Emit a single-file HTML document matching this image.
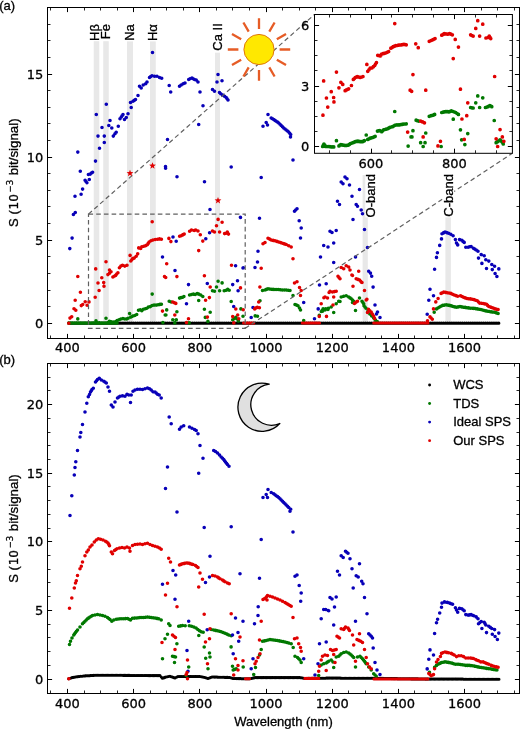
<!DOCTYPE html><html><head><meta charset="utf-8"><style>html,body{margin:0;padding:0;background:#fff;}svg{display:block;}</style></head><body><svg width="520" height="729" viewBox="0 0 520 729">
<rect width="520" height="729" fill="#fff"/>
<rect x="93.75" y="41.2" width="5.50" height="282.00" fill="#e8e8e8"/>
<rect x="103.25" y="41.2" width="5.50" height="282.00" fill="#e8e8e8"/>
<rect x="127.0" y="41.4" width="6.00" height="281.80" fill="#e8e8e8"/>
<rect x="150.0" y="41.4" width="5.75" height="281.80" fill="#e8e8e8"/>
<rect x="215.0" y="52.7" width="5.00" height="270.50" fill="#e8e8e8"/>
<rect x="362.6" y="175.0" width="5.20" height="148.20" fill="#e8e8e8"/>
<rect x="445.4" y="216.6" width="5.50" height="106.60" fill="#e8e8e8"/>
<path fill="#000000" d="M67.2 323.2a1.6 1.6 0 1 0 3.20 0a1.6 1.6 0 1 0 -3.20 0M69.1 323.2a1.6 1.6 0 1 0 3.20 0a1.6 1.6 0 1 0 -3.20 0M71.0 323.2a1.6 1.6 0 1 0 3.20 0a1.6 1.6 0 1 0 -3.20 0M72.9 323.2a1.6 1.6 0 1 0 3.20 0a1.6 1.6 0 1 0 -3.20 0M74.8 323.2a1.6 1.6 0 1 0 3.20 0a1.6 1.6 0 1 0 -3.20 0M76.7 323.2a1.6 1.6 0 1 0 3.20 0a1.6 1.6 0 1 0 -3.20 0M78.6 323.2a1.6 1.6 0 1 0 3.20 0a1.6 1.6 0 1 0 -3.20 0M80.5 323.2a1.6 1.6 0 1 0 3.20 0a1.6 1.6 0 1 0 -3.20 0M82.4 323.2a1.6 1.6 0 1 0 3.20 0a1.6 1.6 0 1 0 -3.20 0M84.3 323.2a1.6 1.6 0 1 0 3.20 0a1.6 1.6 0 1 0 -3.20 0M86.2 323.2a1.6 1.6 0 1 0 3.20 0a1.6 1.6 0 1 0 -3.20 0M88.1 323.2a1.6 1.6 0 1 0 3.20 0a1.6 1.6 0 1 0 -3.20 0M90.0 323.2a1.6 1.6 0 1 0 3.20 0a1.6 1.6 0 1 0 -3.20 0M91.9 323.2a1.6 1.6 0 1 0 3.20 0a1.6 1.6 0 1 0 -3.20 0M93.8 323.2a1.6 1.6 0 1 0 3.20 0a1.6 1.6 0 1 0 -3.20 0M95.7 323.2a1.6 1.6 0 1 0 3.20 0a1.6 1.6 0 1 0 -3.20 0M97.6 323.2a1.6 1.6 0 1 0 3.20 0a1.6 1.6 0 1 0 -3.20 0M99.5 323.2a1.6 1.6 0 1 0 3.20 0a1.6 1.6 0 1 0 -3.20 0M101.4 323.2a1.6 1.6 0 1 0 3.20 0a1.6 1.6 0 1 0 -3.20 0M103.4 323.2a1.6 1.6 0 1 0 3.20 0a1.6 1.6 0 1 0 -3.20 0M105.3 323.2a1.6 1.6 0 1 0 3.20 0a1.6 1.6 0 1 0 -3.20 0M107.2 323.2a1.6 1.6 0 1 0 3.20 0a1.6 1.6 0 1 0 -3.20 0M109.1 323.2a1.6 1.6 0 1 0 3.20 0a1.6 1.6 0 1 0 -3.20 0M111.0 323.2a1.6 1.6 0 1 0 3.20 0a1.6 1.6 0 1 0 -3.20 0M112.9 323.2a1.6 1.6 0 1 0 3.20 0a1.6 1.6 0 1 0 -3.20 0M114.8 323.2a1.6 1.6 0 1 0 3.20 0a1.6 1.6 0 1 0 -3.20 0M116.7 323.2a1.6 1.6 0 1 0 3.20 0a1.6 1.6 0 1 0 -3.20 0M118.6 323.2a1.6 1.6 0 1 0 3.20 0a1.6 1.6 0 1 0 -3.20 0M120.5 323.2a1.6 1.6 0 1 0 3.20 0a1.6 1.6 0 1 0 -3.20 0M122.4 323.2a1.6 1.6 0 1 0 3.20 0a1.6 1.6 0 1 0 -3.20 0M124.3 323.2a1.6 1.6 0 1 0 3.20 0a1.6 1.6 0 1 0 -3.20 0M126.2 323.2a1.6 1.6 0 1 0 3.20 0a1.6 1.6 0 1 0 -3.20 0M128.1 323.2a1.6 1.6 0 1 0 3.20 0a1.6 1.6 0 1 0 -3.20 0M130.0 323.2a1.6 1.6 0 1 0 3.20 0a1.6 1.6 0 1 0 -3.20 0M131.9 323.2a1.6 1.6 0 1 0 3.20 0a1.6 1.6 0 1 0 -3.20 0M133.8 323.2a1.6 1.6 0 1 0 3.20 0a1.6 1.6 0 1 0 -3.20 0M135.7 323.2a1.6 1.6 0 1 0 3.20 0a1.6 1.6 0 1 0 -3.20 0M137.6 323.2a1.6 1.6 0 1 0 3.20 0a1.6 1.6 0 1 0 -3.20 0M139.5 323.2a1.6 1.6 0 1 0 3.20 0a1.6 1.6 0 1 0 -3.20 0M141.4 323.2a1.6 1.6 0 1 0 3.20 0a1.6 1.6 0 1 0 -3.20 0M143.3 323.2a1.6 1.6 0 1 0 3.20 0a1.6 1.6 0 1 0 -3.20 0M145.2 323.2a1.6 1.6 0 1 0 3.20 0a1.6 1.6 0 1 0 -3.20 0M147.1 323.2a1.6 1.6 0 1 0 3.20 0a1.6 1.6 0 1 0 -3.20 0M149.0 323.2a1.6 1.6 0 1 0 3.20 0a1.6 1.6 0 1 0 -3.20 0M150.9 323.2a1.6 1.6 0 1 0 3.20 0a1.6 1.6 0 1 0 -3.20 0M152.8 323.2a1.6 1.6 0 1 0 3.20 0a1.6 1.6 0 1 0 -3.20 0M154.7 323.2a1.6 1.6 0 1 0 3.20 0a1.6 1.6 0 1 0 -3.20 0M156.6 323.2a1.6 1.6 0 1 0 3.20 0a1.6 1.6 0 1 0 -3.20 0M158.5 323.2a1.6 1.6 0 1 0 3.20 0a1.6 1.6 0 1 0 -3.20 0M160.4 323.2a1.6 1.6 0 1 0 3.20 0a1.6 1.6 0 1 0 -3.20 0M162.3 323.2a1.6 1.6 0 1 0 3.20 0a1.6 1.6 0 1 0 -3.20 0M164.2 323.2a1.6 1.6 0 1 0 3.20 0a1.6 1.6 0 1 0 -3.20 0M166.1 323.2a1.6 1.6 0 1 0 3.20 0a1.6 1.6 0 1 0 -3.20 0M168.0 323.2a1.6 1.6 0 1 0 3.20 0a1.6 1.6 0 1 0 -3.20 0M169.9 323.2a1.6 1.6 0 1 0 3.20 0a1.6 1.6 0 1 0 -3.20 0M171.8 323.2a1.6 1.6 0 1 0 3.20 0a1.6 1.6 0 1 0 -3.20 0M173.7 323.2a1.6 1.6 0 1 0 3.20 0a1.6 1.6 0 1 0 -3.20 0M175.7 323.2a1.6 1.6 0 1 0 3.20 0a1.6 1.6 0 1 0 -3.20 0M177.6 323.2a1.6 1.6 0 1 0 3.20 0a1.6 1.6 0 1 0 -3.20 0M179.5 323.2a1.6 1.6 0 1 0 3.20 0a1.6 1.6 0 1 0 -3.20 0M181.4 323.2a1.6 1.6 0 1 0 3.20 0a1.6 1.6 0 1 0 -3.20 0M183.3 323.2a1.6 1.6 0 1 0 3.20 0a1.6 1.6 0 1 0 -3.20 0M185.2 323.2a1.6 1.6 0 1 0 3.20 0a1.6 1.6 0 1 0 -3.20 0M187.1 323.2a1.6 1.6 0 1 0 3.20 0a1.6 1.6 0 1 0 -3.20 0M189.0 323.2a1.6 1.6 0 1 0 3.20 0a1.6 1.6 0 1 0 -3.20 0M190.9 323.2a1.6 1.6 0 1 0 3.20 0a1.6 1.6 0 1 0 -3.20 0M192.8 323.2a1.6 1.6 0 1 0 3.20 0a1.6 1.6 0 1 0 -3.20 0M194.7 323.2a1.6 1.6 0 1 0 3.20 0a1.6 1.6 0 1 0 -3.20 0M196.6 323.2a1.6 1.6 0 1 0 3.20 0a1.6 1.6 0 1 0 -3.20 0M198.5 323.2a1.6 1.6 0 1 0 3.20 0a1.6 1.6 0 1 0 -3.20 0M200.4 323.2a1.6 1.6 0 1 0 3.20 0a1.6 1.6 0 1 0 -3.20 0M202.3 323.2a1.6 1.6 0 1 0 3.20 0a1.6 1.6 0 1 0 -3.20 0M204.2 323.2a1.6 1.6 0 1 0 3.20 0a1.6 1.6 0 1 0 -3.20 0M206.1 323.2a1.6 1.6 0 1 0 3.20 0a1.6 1.6 0 1 0 -3.20 0M208.0 323.2a1.6 1.6 0 1 0 3.20 0a1.6 1.6 0 1 0 -3.20 0M209.9 323.2a1.6 1.6 0 1 0 3.20 0a1.6 1.6 0 1 0 -3.20 0M211.8 323.2a1.6 1.6 0 1 0 3.20 0a1.6 1.6 0 1 0 -3.20 0M213.7 323.2a1.6 1.6 0 1 0 3.20 0a1.6 1.6 0 1 0 -3.20 0M215.6 323.2a1.6 1.6 0 1 0 3.20 0a1.6 1.6 0 1 0 -3.20 0M217.5 323.2a1.6 1.6 0 1 0 3.20 0a1.6 1.6 0 1 0 -3.20 0M219.4 323.2a1.6 1.6 0 1 0 3.20 0a1.6 1.6 0 1 0 -3.20 0M221.3 323.2a1.6 1.6 0 1 0 3.20 0a1.6 1.6 0 1 0 -3.20 0M223.2 323.2a1.6 1.6 0 1 0 3.20 0a1.6 1.6 0 1 0 -3.20 0M225.1 323.2a1.6 1.6 0 1 0 3.20 0a1.6 1.6 0 1 0 -3.20 0M227.0 323.2a1.6 1.6 0 1 0 3.20 0a1.6 1.6 0 1 0 -3.20 0M228.9 323.2a1.6 1.6 0 1 0 3.20 0a1.6 1.6 0 1 0 -3.20 0M230.8 323.2a1.6 1.6 0 1 0 3.20 0a1.6 1.6 0 1 0 -3.20 0M232.7 323.2a1.6 1.6 0 1 0 3.20 0a1.6 1.6 0 1 0 -3.20 0M234.6 323.2a1.6 1.6 0 1 0 3.20 0a1.6 1.6 0 1 0 -3.20 0M236.5 323.2a1.6 1.6 0 1 0 3.20 0a1.6 1.6 0 1 0 -3.20 0M238.4 323.2a1.6 1.6 0 1 0 3.20 0a1.6 1.6 0 1 0 -3.20 0M240.3 323.2a1.6 1.6 0 1 0 3.20 0a1.6 1.6 0 1 0 -3.20 0M242.2 323.2a1.6 1.6 0 1 0 3.20 0a1.6 1.6 0 1 0 -3.20 0M244.1 323.2a1.6 1.6 0 1 0 3.20 0a1.6 1.6 0 1 0 -3.20 0M246.0 323.2a1.6 1.6 0 1 0 3.20 0a1.6 1.6 0 1 0 -3.20 0M248.0 323.2a1.6 1.6 0 1 0 3.20 0a1.6 1.6 0 1 0 -3.20 0M249.9 323.2a1.6 1.6 0 1 0 3.20 0a1.6 1.6 0 1 0 -3.20 0M251.8 323.2a1.6 1.6 0 1 0 3.20 0a1.6 1.6 0 1 0 -3.20 0M253.7 323.2a1.6 1.6 0 1 0 3.20 0a1.6 1.6 0 1 0 -3.20 0M255.6 323.2a1.6 1.6 0 1 0 3.20 0a1.6 1.6 0 1 0 -3.20 0M257.5 323.2a1.6 1.6 0 1 0 3.20 0a1.6 1.6 0 1 0 -3.20 0M259.4 323.2a1.6 1.6 0 1 0 3.20 0a1.6 1.6 0 1 0 -3.20 0M261.3 323.2a1.6 1.6 0 1 0 3.20 0a1.6 1.6 0 1 0 -3.20 0M263.2 323.2a1.6 1.6 0 1 0 3.20 0a1.6 1.6 0 1 0 -3.20 0M265.1 323.2a1.6 1.6 0 1 0 3.20 0a1.6 1.6 0 1 0 -3.20 0M267.0 323.2a1.6 1.6 0 1 0 3.20 0a1.6 1.6 0 1 0 -3.20 0M268.9 323.2a1.6 1.6 0 1 0 3.20 0a1.6 1.6 0 1 0 -3.20 0M270.8 323.2a1.6 1.6 0 1 0 3.20 0a1.6 1.6 0 1 0 -3.20 0M272.7 323.2a1.6 1.6 0 1 0 3.20 0a1.6 1.6 0 1 0 -3.20 0M274.6 323.2a1.6 1.6 0 1 0 3.20 0a1.6 1.6 0 1 0 -3.20 0M276.5 323.2a1.6 1.6 0 1 0 3.20 0a1.6 1.6 0 1 0 -3.20 0M278.4 323.2a1.6 1.6 0 1 0 3.20 0a1.6 1.6 0 1 0 -3.20 0M280.3 323.2a1.6 1.6 0 1 0 3.20 0a1.6 1.6 0 1 0 -3.20 0M282.2 323.2a1.6 1.6 0 1 0 3.20 0a1.6 1.6 0 1 0 -3.20 0M284.1 323.2a1.6 1.6 0 1 0 3.20 0a1.6 1.6 0 1 0 -3.20 0M286.0 323.2a1.6 1.6 0 1 0 3.20 0a1.6 1.6 0 1 0 -3.20 0M287.9 323.2a1.6 1.6 0 1 0 3.20 0a1.6 1.6 0 1 0 -3.20 0M289.8 323.2a1.6 1.6 0 1 0 3.20 0a1.6 1.6 0 1 0 -3.20 0M291.7 323.2a1.6 1.6 0 1 0 3.20 0a1.6 1.6 0 1 0 -3.20 0M293.6 323.2a1.6 1.6 0 1 0 3.20 0a1.6 1.6 0 1 0 -3.20 0M295.5 323.2a1.6 1.6 0 1 0 3.20 0a1.6 1.6 0 1 0 -3.20 0M297.4 323.2a1.6 1.6 0 1 0 3.20 0a1.6 1.6 0 1 0 -3.20 0M299.3 323.2a1.6 1.6 0 1 0 3.20 0a1.6 1.6 0 1 0 -3.20 0M301.2 323.2a1.6 1.6 0 1 0 3.20 0a1.6 1.6 0 1 0 -3.20 0M303.1 323.2a1.6 1.6 0 1 0 3.20 0a1.6 1.6 0 1 0 -3.20 0M305.0 323.2a1.6 1.6 0 1 0 3.20 0a1.6 1.6 0 1 0 -3.20 0M306.9 323.2a1.6 1.6 0 1 0 3.20 0a1.6 1.6 0 1 0 -3.20 0M308.8 323.2a1.6 1.6 0 1 0 3.20 0a1.6 1.6 0 1 0 -3.20 0M310.7 323.2a1.6 1.6 0 1 0 3.20 0a1.6 1.6 0 1 0 -3.20 0M312.6 323.2a1.6 1.6 0 1 0 3.20 0a1.6 1.6 0 1 0 -3.20 0M314.5 323.2a1.6 1.6 0 1 0 3.20 0a1.6 1.6 0 1 0 -3.20 0M316.4 323.2a1.6 1.6 0 1 0 3.20 0a1.6 1.6 0 1 0 -3.20 0M318.4 323.2a1.6 1.6 0 1 0 3.20 0a1.6 1.6 0 1 0 -3.20 0M320.3 323.2a1.6 1.6 0 1 0 3.20 0a1.6 1.6 0 1 0 -3.20 0M322.2 323.2a1.6 1.6 0 1 0 3.20 0a1.6 1.6 0 1 0 -3.20 0M324.1 323.2a1.6 1.6 0 1 0 3.20 0a1.6 1.6 0 1 0 -3.20 0M326.0 323.2a1.6 1.6 0 1 0 3.20 0a1.6 1.6 0 1 0 -3.20 0M327.9 323.2a1.6 1.6 0 1 0 3.20 0a1.6 1.6 0 1 0 -3.20 0M329.8 323.2a1.6 1.6 0 1 0 3.20 0a1.6 1.6 0 1 0 -3.20 0M331.7 323.2a1.6 1.6 0 1 0 3.20 0a1.6 1.6 0 1 0 -3.20 0M333.6 323.2a1.6 1.6 0 1 0 3.20 0a1.6 1.6 0 1 0 -3.20 0M335.5 323.2a1.6 1.6 0 1 0 3.20 0a1.6 1.6 0 1 0 -3.20 0M337.4 323.2a1.6 1.6 0 1 0 3.20 0a1.6 1.6 0 1 0 -3.20 0M339.3 323.2a1.6 1.6 0 1 0 3.20 0a1.6 1.6 0 1 0 -3.20 0M341.2 323.2a1.6 1.6 0 1 0 3.20 0a1.6 1.6 0 1 0 -3.20 0M343.1 323.2a1.6 1.6 0 1 0 3.20 0a1.6 1.6 0 1 0 -3.20 0M345.0 323.2a1.6 1.6 0 1 0 3.20 0a1.6 1.6 0 1 0 -3.20 0M346.9 323.2a1.6 1.6 0 1 0 3.20 0a1.6 1.6 0 1 0 -3.20 0M348.8 323.2a1.6 1.6 0 1 0 3.20 0a1.6 1.6 0 1 0 -3.20 0M350.7 323.2a1.6 1.6 0 1 0 3.20 0a1.6 1.6 0 1 0 -3.20 0M352.6 323.2a1.6 1.6 0 1 0 3.20 0a1.6 1.6 0 1 0 -3.20 0M354.5 323.2a1.6 1.6 0 1 0 3.20 0a1.6 1.6 0 1 0 -3.20 0M356.4 323.2a1.6 1.6 0 1 0 3.20 0a1.6 1.6 0 1 0 -3.20 0M358.3 323.2a1.6 1.6 0 1 0 3.20 0a1.6 1.6 0 1 0 -3.20 0M360.2 323.2a1.6 1.6 0 1 0 3.20 0a1.6 1.6 0 1 0 -3.20 0M362.1 323.2a1.6 1.6 0 1 0 3.20 0a1.6 1.6 0 1 0 -3.20 0M364.0 323.2a1.6 1.6 0 1 0 3.20 0a1.6 1.6 0 1 0 -3.20 0M365.9 323.2a1.6 1.6 0 1 0 3.20 0a1.6 1.6 0 1 0 -3.20 0M367.8 323.2a1.6 1.6 0 1 0 3.20 0a1.6 1.6 0 1 0 -3.20 0M369.7 323.2a1.6 1.6 0 1 0 3.20 0a1.6 1.6 0 1 0 -3.20 0M371.6 323.2a1.6 1.6 0 1 0 3.20 0a1.6 1.6 0 1 0 -3.20 0M373.5 323.2a1.6 1.6 0 1 0 3.20 0a1.6 1.6 0 1 0 -3.20 0M375.4 323.2a1.6 1.6 0 1 0 3.20 0a1.6 1.6 0 1 0 -3.20 0M377.3 323.2a1.6 1.6 0 1 0 3.20 0a1.6 1.6 0 1 0 -3.20 0M379.2 323.2a1.6 1.6 0 1 0 3.20 0a1.6 1.6 0 1 0 -3.20 0M381.1 323.2a1.6 1.6 0 1 0 3.20 0a1.6 1.6 0 1 0 -3.20 0M383.0 323.2a1.6 1.6 0 1 0 3.20 0a1.6 1.6 0 1 0 -3.20 0M384.9 323.2a1.6 1.6 0 1 0 3.20 0a1.6 1.6 0 1 0 -3.20 0M386.8 323.2a1.6 1.6 0 1 0 3.20 0a1.6 1.6 0 1 0 -3.20 0M388.7 323.2a1.6 1.6 0 1 0 3.20 0a1.6 1.6 0 1 0 -3.20 0M390.7 323.2a1.6 1.6 0 1 0 3.20 0a1.6 1.6 0 1 0 -3.20 0M392.6 323.2a1.6 1.6 0 1 0 3.20 0a1.6 1.6 0 1 0 -3.20 0M394.5 323.2a1.6 1.6 0 1 0 3.20 0a1.6 1.6 0 1 0 -3.20 0M396.4 323.2a1.6 1.6 0 1 0 3.20 0a1.6 1.6 0 1 0 -3.20 0M398.3 323.2a1.6 1.6 0 1 0 3.20 0a1.6 1.6 0 1 0 -3.20 0M400.2 323.2a1.6 1.6 0 1 0 3.20 0a1.6 1.6 0 1 0 -3.20 0M402.1 323.2a1.6 1.6 0 1 0 3.20 0a1.6 1.6 0 1 0 -3.20 0M404.0 323.2a1.6 1.6 0 1 0 3.20 0a1.6 1.6 0 1 0 -3.20 0M405.9 323.2a1.6 1.6 0 1 0 3.20 0a1.6 1.6 0 1 0 -3.20 0M407.8 323.2a1.6 1.6 0 1 0 3.20 0a1.6 1.6 0 1 0 -3.20 0M409.7 323.2a1.6 1.6 0 1 0 3.20 0a1.6 1.6 0 1 0 -3.20 0M411.6 323.2a1.6 1.6 0 1 0 3.20 0a1.6 1.6 0 1 0 -3.20 0M413.5 323.2a1.6 1.6 0 1 0 3.20 0a1.6 1.6 0 1 0 -3.20 0M415.4 323.2a1.6 1.6 0 1 0 3.20 0a1.6 1.6 0 1 0 -3.20 0M417.3 323.2a1.6 1.6 0 1 0 3.20 0a1.6 1.6 0 1 0 -3.20 0M419.2 323.2a1.6 1.6 0 1 0 3.20 0a1.6 1.6 0 1 0 -3.20 0M421.1 323.2a1.6 1.6 0 1 0 3.20 0a1.6 1.6 0 1 0 -3.20 0M423.0 323.2a1.6 1.6 0 1 0 3.20 0a1.6 1.6 0 1 0 -3.20 0M424.9 323.2a1.6 1.6 0 1 0 3.20 0a1.6 1.6 0 1 0 -3.20 0M426.8 323.2a1.6 1.6 0 1 0 3.20 0a1.6 1.6 0 1 0 -3.20 0M428.7 323.2a1.6 1.6 0 1 0 3.20 0a1.6 1.6 0 1 0 -3.20 0M430.6 323.2a1.6 1.6 0 1 0 3.20 0a1.6 1.6 0 1 0 -3.20 0M432.5 323.2a1.6 1.6 0 1 0 3.20 0a1.6 1.6 0 1 0 -3.20 0M434.4 323.2a1.6 1.6 0 1 0 3.20 0a1.6 1.6 0 1 0 -3.20 0M436.3 323.2a1.6 1.6 0 1 0 3.20 0a1.6 1.6 0 1 0 -3.20 0M438.2 323.2a1.6 1.6 0 1 0 3.20 0a1.6 1.6 0 1 0 -3.20 0M440.1 323.2a1.6 1.6 0 1 0 3.20 0a1.6 1.6 0 1 0 -3.20 0M442.0 323.2a1.6 1.6 0 1 0 3.20 0a1.6 1.6 0 1 0 -3.20 0M443.9 323.2a1.6 1.6 0 1 0 3.20 0a1.6 1.6 0 1 0 -3.20 0M445.8 323.2a1.6 1.6 0 1 0 3.20 0a1.6 1.6 0 1 0 -3.20 0M447.7 323.2a1.6 1.6 0 1 0 3.20 0a1.6 1.6 0 1 0 -3.20 0M449.6 323.2a1.6 1.6 0 1 0 3.20 0a1.6 1.6 0 1 0 -3.20 0M451.5 323.2a1.6 1.6 0 1 0 3.20 0a1.6 1.6 0 1 0 -3.20 0M453.4 323.2a1.6 1.6 0 1 0 3.20 0a1.6 1.6 0 1 0 -3.20 0M455.3 323.2a1.6 1.6 0 1 0 3.20 0a1.6 1.6 0 1 0 -3.20 0M457.2 323.2a1.6 1.6 0 1 0 3.20 0a1.6 1.6 0 1 0 -3.20 0M459.1 323.2a1.6 1.6 0 1 0 3.20 0a1.6 1.6 0 1 0 -3.20 0M461.0 323.2a1.6 1.6 0 1 0 3.20 0a1.6 1.6 0 1 0 -3.20 0M463.0 323.2a1.6 1.6 0 1 0 3.20 0a1.6 1.6 0 1 0 -3.20 0M464.9 323.2a1.6 1.6 0 1 0 3.20 0a1.6 1.6 0 1 0 -3.20 0M466.8 323.2a1.6 1.6 0 1 0 3.20 0a1.6 1.6 0 1 0 -3.20 0M468.7 323.2a1.6 1.6 0 1 0 3.20 0a1.6 1.6 0 1 0 -3.20 0M470.6 323.2a1.6 1.6 0 1 0 3.20 0a1.6 1.6 0 1 0 -3.20 0M472.5 323.2a1.6 1.6 0 1 0 3.20 0a1.6 1.6 0 1 0 -3.20 0M474.4 323.2a1.6 1.6 0 1 0 3.20 0a1.6 1.6 0 1 0 -3.20 0M476.3 323.2a1.6 1.6 0 1 0 3.20 0a1.6 1.6 0 1 0 -3.20 0M478.2 323.2a1.6 1.6 0 1 0 3.20 0a1.6 1.6 0 1 0 -3.20 0M480.1 323.2a1.6 1.6 0 1 0 3.20 0a1.6 1.6 0 1 0 -3.20 0M482.0 323.2a1.6 1.6 0 1 0 3.20 0a1.6 1.6 0 1 0 -3.20 0M483.9 323.2a1.6 1.6 0 1 0 3.20 0a1.6 1.6 0 1 0 -3.20 0M485.8 323.2a1.6 1.6 0 1 0 3.20 0a1.6 1.6 0 1 0 -3.20 0M487.7 323.2a1.6 1.6 0 1 0 3.20 0a1.6 1.6 0 1 0 -3.20 0M489.6 323.2a1.6 1.6 0 1 0 3.20 0a1.6 1.6 0 1 0 -3.20 0M491.5 323.2a1.6 1.6 0 1 0 3.20 0a1.6 1.6 0 1 0 -3.20 0M493.4 323.2a1.6 1.6 0 1 0 3.20 0a1.6 1.6 0 1 0 -3.20 0M495.3 323.2a1.6 1.6 0 1 0 3.20 0a1.6 1.6 0 1 0 -3.20 0M497.2 323.2a1.6 1.6 0 1 0 3.20 0a1.6 1.6 0 1 0 -3.20 0"/>
<path fill="#007800" d="M76.0 318.9a1.8 1.8 0 1 0 3.60 0a1.8 1.8 0 1 0 -3.60 0M260.7 290.5a1.8 1.8 0 1 0 3.60 0a1.8 1.8 0 1 0 -3.60 0M263.2 290.0a1.8 1.8 0 1 0 3.60 0a1.8 1.8 0 1 0 -3.60 0M264.7 289.4a1.8 1.8 0 1 0 3.60 0a1.8 1.8 0 1 0 -3.60 0M266.2 288.8a1.8 1.8 0 1 0 3.60 0a1.8 1.8 0 1 0 -3.60 0M267.8 289.0a1.8 1.8 0 1 0 3.60 0a1.8 1.8 0 1 0 -3.60 0M269.4 289.2a1.8 1.8 0 1 0 3.60 0a1.8 1.8 0 1 0 -3.60 0M271.3 289.4a1.8 1.8 0 1 0 3.60 0a1.8 1.8 0 1 0 -3.60 0M273.2 289.5a1.8 1.8 0 1 0 3.60 0a1.8 1.8 0 1 0 -3.60 0M275.1 289.5a1.8 1.8 0 1 0 3.60 0a1.8 1.8 0 1 0 -3.60 0M276.9 289.5a1.8 1.8 0 1 0 3.60 0a1.8 1.8 0 1 0 -3.60 0M278.8 289.8a1.8 1.8 0 1 0 3.60 0a1.8 1.8 0 1 0 -3.60 0M280.7 290.0a1.8 1.8 0 1 0 3.60 0a1.8 1.8 0 1 0 -3.60 0M282.6 290.0a1.8 1.8 0 1 0 3.60 0a1.8 1.8 0 1 0 -3.60 0M284.4 290.0a1.8 1.8 0 1 0 3.60 0a1.8 1.8 0 1 0 -3.60 0M286.3 290.2a1.8 1.8 0 1 0 3.60 0a1.8 1.8 0 1 0 -3.60 0M288.2 290.5a1.8 1.8 0 1 0 3.60 0a1.8 1.8 0 1 0 -3.60 0M291.2 295.5a1.8 1.8 0 1 0 3.60 0a1.8 1.8 0 1 0 -3.60 0M293.2 304.5a1.8 1.8 0 1 0 3.60 0a1.8 1.8 0 1 0 -3.60 0M294.7 305.1a1.8 1.8 0 1 0 3.60 0a1.8 1.8 0 1 0 -3.60 0M296.2 305.8a1.8 1.8 0 1 0 3.60 0a1.8 1.8 0 1 0 -3.60 0M297.7 308.0a1.8 1.8 0 1 0 3.60 0a1.8 1.8 0 1 0 -3.60 0M298.7 310.0a1.8 1.8 0 1 0 3.60 0a1.8 1.8 0 1 0 -3.60 0M258.2 300.8a1.8 1.8 0 1 0 3.60 0a1.8 1.8 0 1 0 -3.60 0M255.7 316.2a1.8 1.8 0 1 0 3.60 0a1.8 1.8 0 1 0 -3.60 0M241.2 316.2a1.8 1.8 0 1 0 3.60 0a1.8 1.8 0 1 0 -3.60 0M253.4 315.9a1.8 1.8 0 1 0 3.60 0a1.8 1.8 0 1 0 -3.60 0M239.1 308.9a1.8 1.8 0 1 0 3.60 0a1.8 1.8 0 1 0 -3.60 0M339.4 297.0a1.8 1.8 0 1 0 3.60 0a1.8 1.8 0 1 0 -3.60 0M341.9 296.2a1.8 1.8 0 1 0 3.60 0a1.8 1.8 0 1 0 -3.60 0M344.4 295.8a1.8 1.8 0 1 0 3.60 0a1.8 1.8 0 1 0 -3.60 0M346.9 297.0a1.8 1.8 0 1 0 3.60 0a1.8 1.8 0 1 0 -3.60 0M348.2 297.9a1.8 1.8 0 1 0 3.60 0a1.8 1.8 0 1 0 -3.60 0M349.4 298.8a1.8 1.8 0 1 0 3.60 0a1.8 1.8 0 1 0 -3.60 0M350.7 300.0a1.8 1.8 0 1 0 3.60 0a1.8 1.8 0 1 0 -3.60 0M351.9 301.2a1.8 1.8 0 1 0 3.60 0a1.8 1.8 0 1 0 -3.60 0M336.9 301.2a1.8 1.8 0 1 0 3.60 0a1.8 1.8 0 1 0 -3.60 0M334.4 303.8a1.8 1.8 0 1 0 3.60 0a1.8 1.8 0 1 0 -3.60 0M329.4 307.0a1.8 1.8 0 1 0 3.60 0a1.8 1.8 0 1 0 -3.60 0M326.2 309.5a1.8 1.8 0 1 0 3.60 0a1.8 1.8 0 1 0 -3.60 0M323.2 310.0a1.8 1.8 0 1 0 3.60 0a1.8 1.8 0 1 0 -3.60 0M320.7 311.2a1.8 1.8 0 1 0 3.60 0a1.8 1.8 0 1 0 -3.60 0M331.9 312.5a1.8 1.8 0 1 0 3.60 0a1.8 1.8 0 1 0 -3.60 0M357.7 298.0a1.8 1.8 0 1 0 3.60 0a1.8 1.8 0 1 0 -3.60 0M360.2 301.2a1.8 1.8 0 1 0 3.60 0a1.8 1.8 0 1 0 -3.60 0M361.1 302.5a1.8 1.8 0 1 0 3.60 0a1.8 1.8 0 1 0 -3.60 0M361.9 303.8a1.8 1.8 0 1 0 3.60 0a1.8 1.8 0 1 0 -3.60 0M353.7 310.5a1.8 1.8 0 1 0 3.60 0a1.8 1.8 0 1 0 -3.60 0M319.5 311.5a1.8 1.8 0 1 0 3.60 0a1.8 1.8 0 1 0 -3.60 0M320.4 310.2a1.8 1.8 0 1 0 3.60 0a1.8 1.8 0 1 0 -3.60 0M321.3 308.9a1.8 1.8 0 1 0 3.60 0a1.8 1.8 0 1 0 -3.60 0M323.9 308.9a1.8 1.8 0 1 0 3.60 0a1.8 1.8 0 1 0 -3.60 0M326.5 308.4a1.8 1.8 0 1 0 3.60 0a1.8 1.8 0 1 0 -3.60 0M317.5 315.3a1.8 1.8 0 1 0 3.60 0a1.8 1.8 0 1 0 -3.60 0M301.9 320.5a1.8 1.8 0 1 0 3.60 0a1.8 1.8 0 1 0 -3.60 0M350.7 302.5a1.8 1.8 0 1 0 3.60 0a1.8 1.8 0 1 0 -3.60 0M362.2 305.8a1.8 1.8 0 1 0 3.60 0a1.8 1.8 0 1 0 -3.60 0M363.2 307.1a1.8 1.8 0 1 0 3.60 0a1.8 1.8 0 1 0 -3.60 0M364.2 308.3a1.8 1.8 0 1 0 3.60 0a1.8 1.8 0 1 0 -3.60 0M366.1 311.2a1.8 1.8 0 1 0 3.60 0a1.8 1.8 0 1 0 -3.60 0M368.0 314.0a1.8 1.8 0 1 0 3.60 0a1.8 1.8 0 1 0 -3.60 0M369.9 316.0a1.8 1.8 0 1 0 3.60 0a1.8 1.8 0 1 0 -3.60 0M371.9 317.9a1.8 1.8 0 1 0 3.60 0a1.8 1.8 0 1 0 -3.60 0M372.8 319.1a1.8 1.8 0 1 0 3.60 0a1.8 1.8 0 1 0 -3.60 0M373.8 320.4a1.8 1.8 0 1 0 3.60 0a1.8 1.8 0 1 0 -3.60 0M375.7 321.7a1.8 1.8 0 1 0 3.60 0a1.8 1.8 0 1 0 -3.60 0M338.2 301.5a1.8 1.8 0 1 0 3.60 0a1.8 1.8 0 1 0 -3.60 0M432.4 312.3a1.8 1.8 0 1 0 3.60 0a1.8 1.8 0 1 0 -3.60 0M434.7 308.9a1.8 1.8 0 1 0 3.60 0a1.8 1.8 0 1 0 -3.60 0M436.1 308.0a1.8 1.8 0 1 0 3.60 0a1.8 1.8 0 1 0 -3.60 0M437.4 307.2a1.8 1.8 0 1 0 3.60 0a1.8 1.8 0 1 0 -3.60 0M439.1 306.3a1.8 1.8 0 1 0 3.60 0a1.8 1.8 0 1 0 -3.60 0M440.9 305.4a1.8 1.8 0 1 0 3.60 0a1.8 1.8 0 1 0 -3.60 0M442.6 305.1a1.8 1.8 0 1 0 3.60 0a1.8 1.8 0 1 0 -3.60 0M444.4 304.9a1.8 1.8 0 1 0 3.60 0a1.8 1.8 0 1 0 -3.60 0M446.1 305.1a1.8 1.8 0 1 0 3.60 0a1.8 1.8 0 1 0 -3.60 0M447.8 305.4a1.8 1.8 0 1 0 3.60 0a1.8 1.8 0 1 0 -3.60 0M449.6 305.9a1.8 1.8 0 1 0 3.60 0a1.8 1.8 0 1 0 -3.60 0M451.3 306.5a1.8 1.8 0 1 0 3.60 0a1.8 1.8 0 1 0 -3.60 0M453.0 306.9a1.8 1.8 0 1 0 3.60 0a1.8 1.8 0 1 0 -3.60 0M454.7 307.2a1.8 1.8 0 1 0 3.60 0a1.8 1.8 0 1 0 -3.60 0M456.4 306.9a1.8 1.8 0 1 0 3.60 0a1.8 1.8 0 1 0 -3.60 0M458.2 306.5a1.8 1.8 0 1 0 3.60 0a1.8 1.8 0 1 0 -3.60 0M459.9 306.9a1.8 1.8 0 1 0 3.60 0a1.8 1.8 0 1 0 -3.60 0M461.7 307.2a1.8 1.8 0 1 0 3.60 0a1.8 1.8 0 1 0 -3.60 0M463.4 307.4a1.8 1.8 0 1 0 3.60 0a1.8 1.8 0 1 0 -3.60 0M465.1 307.7a1.8 1.8 0 1 0 3.60 0a1.8 1.8 0 1 0 -3.60 0M466.8 307.9a1.8 1.8 0 1 0 3.60 0a1.8 1.8 0 1 0 -3.60 0M468.6 308.2a1.8 1.8 0 1 0 3.60 0a1.8 1.8 0 1 0 -3.60 0M470.3 308.3a1.8 1.8 0 1 0 3.60 0a1.8 1.8 0 1 0 -3.60 0M472.1 308.4a1.8 1.8 0 1 0 3.60 0a1.8 1.8 0 1 0 -3.60 0M473.8 308.6a1.8 1.8 0 1 0 3.60 0a1.8 1.8 0 1 0 -3.60 0M475.5 308.9a1.8 1.8 0 1 0 3.60 0a1.8 1.8 0 1 0 -3.60 0M477.2 309.2a1.8 1.8 0 1 0 3.60 0a1.8 1.8 0 1 0 -3.60 0M479.0 309.5a1.8 1.8 0 1 0 3.60 0a1.8 1.8 0 1 0 -3.60 0M480.7 310.0a1.8 1.8 0 1 0 3.60 0a1.8 1.8 0 1 0 -3.60 0M482.4 310.5a1.8 1.8 0 1 0 3.60 0a1.8 1.8 0 1 0 -3.60 0M484.1 310.9a1.8 1.8 0 1 0 3.60 0a1.8 1.8 0 1 0 -3.60 0M485.9 311.2a1.8 1.8 0 1 0 3.60 0a1.8 1.8 0 1 0 -3.60 0M487.6 311.5a1.8 1.8 0 1 0 3.60 0a1.8 1.8 0 1 0 -3.60 0M489.4 311.9a1.8 1.8 0 1 0 3.60 0a1.8 1.8 0 1 0 -3.60 0M491.1 312.1a1.8 1.8 0 1 0 3.60 0a1.8 1.8 0 1 0 -3.60 0M492.8 312.3a1.8 1.8 0 1 0 3.60 0a1.8 1.8 0 1 0 -3.60 0M494.6 312.9a1.8 1.8 0 1 0 3.60 0a1.8 1.8 0 1 0 -3.60 0M496.3 313.5a1.8 1.8 0 1 0 3.60 0a1.8 1.8 0 1 0 -3.60 0M93.2 322.9a1.8 1.8 0 1 0 3.60 0a1.8 1.8 0 1 0 -3.60 0M94.2 320.9a1.8 1.8 0 1 0 3.60 0a1.8 1.8 0 1 0 -3.60 0M95.4 322.9a1.8 1.8 0 1 0 3.60 0a1.8 1.8 0 1 0 -3.60 0M97.7 322.9a1.8 1.8 0 1 0 3.60 0a1.8 1.8 0 1 0 -3.60 0M100.0 323.3a1.8 1.8 0 1 0 3.60 0a1.8 1.8 0 1 0 -3.60 0M102.0 323.3a1.8 1.8 0 1 0 3.60 0a1.8 1.8 0 1 0 -3.60 0M104.2 318.2a1.8 1.8 0 1 0 3.60 0a1.8 1.8 0 1 0 -3.60 0M106.1 322.5a1.8 1.8 0 1 0 3.60 0a1.8 1.8 0 1 0 -3.60 0M107.7 321.4a1.8 1.8 0 1 0 3.60 0a1.8 1.8 0 1 0 -3.60 0M109.5 321.9a1.8 1.8 0 1 0 3.60 0a1.8 1.8 0 1 0 -3.60 0M111.5 322.1a1.8 1.8 0 1 0 3.60 0a1.8 1.8 0 1 0 -3.60 0M113.5 321.9a1.8 1.8 0 1 0 3.60 0a1.8 1.8 0 1 0 -3.60 0M115.3 320.6a1.8 1.8 0 1 0 3.60 0a1.8 1.8 0 1 0 -3.60 0M117.3 319.8a1.8 1.8 0 1 0 3.60 0a1.8 1.8 0 1 0 -3.60 0M119.1 319.0a1.8 1.8 0 1 0 3.60 0a1.8 1.8 0 1 0 -3.60 0M121.1 318.5a1.8 1.8 0 1 0 3.60 0a1.8 1.8 0 1 0 -3.60 0M123.0 319.0a1.8 1.8 0 1 0 3.60 0a1.8 1.8 0 1 0 -3.60 0M124.8 319.0a1.8 1.8 0 1 0 3.60 0a1.8 1.8 0 1 0 -3.60 0M126.3 318.2a1.8 1.8 0 1 0 3.60 0a1.8 1.8 0 1 0 -3.60 0M127.8 313.5a1.8 1.8 0 1 0 3.60 0a1.8 1.8 0 1 0 -3.60 0M129.0 317.1a1.8 1.8 0 1 0 3.60 0a1.8 1.8 0 1 0 -3.60 0M130.9 316.1a1.8 1.8 0 1 0 3.60 0a1.8 1.8 0 1 0 -3.60 0M132.9 315.5a1.8 1.8 0 1 0 3.60 0a1.8 1.8 0 1 0 -3.60 0M134.9 314.5a1.8 1.8 0 1 0 3.60 0a1.8 1.8 0 1 0 -3.60 0M136.7 310.3a1.8 1.8 0 1 0 3.60 0a1.8 1.8 0 1 0 -3.60 0M138.5 309.8a1.8 1.8 0 1 0 3.60 0a1.8 1.8 0 1 0 -3.60 0M140.0 310.8a1.8 1.8 0 1 0 3.60 0a1.8 1.8 0 1 0 -3.60 0M141.6 309.2a1.8 1.8 0 1 0 3.60 0a1.8 1.8 0 1 0 -3.60 0M143.5 308.7a1.8 1.8 0 1 0 3.60 0a1.8 1.8 0 1 0 -3.60 0M145.0 308.2a1.8 1.8 0 1 0 3.60 0a1.8 1.8 0 1 0 -3.60 0M146.6 307.1a1.8 1.8 0 1 0 3.60 0a1.8 1.8 0 1 0 -3.60 0M148.6 306.6a1.8 1.8 0 1 0 3.60 0a1.8 1.8 0 1 0 -3.60 0M150.4 305.5a1.8 1.8 0 1 0 3.60 0a1.8 1.8 0 1 0 -3.60 0M152.3 305.1a1.8 1.8 0 1 0 3.60 0a1.8 1.8 0 1 0 -3.60 0M154.3 305.1a1.8 1.8 0 1 0 3.60 0a1.8 1.8 0 1 0 -3.60 0M156.2 304.8a1.8 1.8 0 1 0 3.60 0a1.8 1.8 0 1 0 -3.60 0M158.1 304.4a1.8 1.8 0 1 0 3.60 0a1.8 1.8 0 1 0 -3.60 0M159.6 304.3a1.8 1.8 0 1 0 3.60 0a1.8 1.8 0 1 0 -3.60 0M150.4 294.1a1.8 1.8 0 1 0 3.60 0a1.8 1.8 0 1 0 -3.60 0M161.1 322.6a1.8 1.8 0 1 0 3.60 0a1.8 1.8 0 1 0 -3.60 0M163.4 315.0a1.8 1.8 0 1 0 3.60 0a1.8 1.8 0 1 0 -3.60 0M164.9 309.9a1.8 1.8 0 1 0 3.60 0a1.8 1.8 0 1 0 -3.60 0M164.1 315.0a1.8 1.8 0 1 0 3.60 0a1.8 1.8 0 1 0 -3.60 0M167.4 301.3a1.8 1.8 0 1 0 3.60 0a1.8 1.8 0 1 0 -3.60 0M169.4 302.0a1.8 1.8 0 1 0 3.60 0a1.8 1.8 0 1 0 -3.60 0M171.0 319.8a1.8 1.8 0 1 0 3.60 0a1.8 1.8 0 1 0 -3.60 0M173.0 322.9a1.8 1.8 0 1 0 3.60 0a1.8 1.8 0 1 0 -3.60 0M174.5 319.8a1.8 1.8 0 1 0 3.60 0a1.8 1.8 0 1 0 -3.60 0M175.1 311.8a1.8 1.8 0 1 0 3.60 0a1.8 1.8 0 1 0 -3.60 0M177.8 298.1a1.8 1.8 0 1 0 3.60 0a1.8 1.8 0 1 0 -3.60 0M179.3 297.6a1.8 1.8 0 1 0 3.60 0a1.8 1.8 0 1 0 -3.60 0M180.9 297.2a1.8 1.8 0 1 0 3.60 0a1.8 1.8 0 1 0 -3.60 0M182.1 296.5a1.8 1.8 0 1 0 3.60 0a1.8 1.8 0 1 0 -3.60 0M187.8 295.0a1.8 1.8 0 1 0 3.60 0a1.8 1.8 0 1 0 -3.60 0M189.7 294.5a1.8 1.8 0 1 0 3.60 0a1.8 1.8 0 1 0 -3.60 0M191.6 294.1a1.8 1.8 0 1 0 3.60 0a1.8 1.8 0 1 0 -3.60 0M193.4 294.5a1.8 1.8 0 1 0 3.60 0a1.8 1.8 0 1 0 -3.60 0M195.4 293.6a1.8 1.8 0 1 0 3.60 0a1.8 1.8 0 1 0 -3.60 0M196.9 294.1a1.8 1.8 0 1 0 3.60 0a1.8 1.8 0 1 0 -3.60 0M198.9 295.0a1.8 1.8 0 1 0 3.60 0a1.8 1.8 0 1 0 -3.60 0M201.0 296.5a1.8 1.8 0 1 0 3.60 0a1.8 1.8 0 1 0 -3.60 0M196.9 300.5a1.8 1.8 0 1 0 3.60 0a1.8 1.8 0 1 0 -3.60 0M202.6 309.2a1.8 1.8 0 1 0 3.60 0a1.8 1.8 0 1 0 -3.60 0M203.5 317.4a1.8 1.8 0 1 0 3.60 0a1.8 1.8 0 1 0 -3.60 0M206.1 321.4a1.8 1.8 0 1 0 3.60 0a1.8 1.8 0 1 0 -3.60 0M208.4 312.3a1.8 1.8 0 1 0 3.60 0a1.8 1.8 0 1 0 -3.60 0M210.7 290.8a1.8 1.8 0 1 0 3.60 0a1.8 1.8 0 1 0 -3.60 0M212.7 291.2a1.8 1.8 0 1 0 3.60 0a1.8 1.8 0 1 0 -3.60 0M214.7 287.0a1.8 1.8 0 1 0 3.60 0a1.8 1.8 0 1 0 -3.60 0M216.3 281.3a1.8 1.8 0 1 0 3.60 0a1.8 1.8 0 1 0 -3.60 0M217.8 290.8a1.8 1.8 0 1 0 3.60 0a1.8 1.8 0 1 0 -3.60 0M220.3 282.9a1.8 1.8 0 1 0 3.60 0a1.8 1.8 0 1 0 -3.60 0M222.4 290.8a1.8 1.8 0 1 0 3.60 0a1.8 1.8 0 1 0 -3.60 0M224.4 290.2a1.8 1.8 0 1 0 3.60 0a1.8 1.8 0 1 0 -3.60 0M225.9 289.2a1.8 1.8 0 1 0 3.60 0a1.8 1.8 0 1 0 -3.60 0M227.4 290.2a1.8 1.8 0 1 0 3.60 0a1.8 1.8 0 1 0 -3.60 0M229.4 301.5a1.8 1.8 0 1 0 3.60 0a1.8 1.8 0 1 0 -3.60 0M230.9 319.8a1.8 1.8 0 1 0 3.60 0a1.8 1.8 0 1 0 -3.60 0M232.5 318.6a1.8 1.8 0 1 0 3.60 0a1.8 1.8 0 1 0 -3.60 0M234.0 317.4a1.8 1.8 0 1 0 3.60 0a1.8 1.8 0 1 0 -3.60 0M235.5 319.0a1.8 1.8 0 1 0 3.60 0a1.8 1.8 0 1 0 -3.60 0M236.6 320.9a1.8 1.8 0 1 0 3.60 0a1.8 1.8 0 1 0 -3.60 0M187.3 322.9a1.8 1.8 0 1 0 3.60 0a1.8 1.8 0 1 0 -3.60 0M67.0 323.0a1.8 1.8 0 1 0 3.60 0a1.8 1.8 0 1 0 -3.60 0M68.3 323.0a1.8 1.8 0 1 0 3.60 0a1.8 1.8 0 1 0 -3.60 0M69.6 323.0a1.8 1.8 0 1 0 3.60 0a1.8 1.8 0 1 0 -3.60 0M70.9 323.0a1.8 1.8 0 1 0 3.60 0a1.8 1.8 0 1 0 -3.60 0M72.2 323.0a1.8 1.8 0 1 0 3.60 0a1.8 1.8 0 1 0 -3.60 0M73.5 323.0a1.8 1.8 0 1 0 3.60 0a1.8 1.8 0 1 0 -3.60 0M74.8 323.0a1.8 1.8 0 1 0 3.60 0a1.8 1.8 0 1 0 -3.60 0M76.1 323.0a1.8 1.8 0 1 0 3.60 0a1.8 1.8 0 1 0 -3.60 0M77.4 323.0a1.8 1.8 0 1 0 3.60 0a1.8 1.8 0 1 0 -3.60 0M78.7 323.0a1.8 1.8 0 1 0 3.60 0a1.8 1.8 0 1 0 -3.60 0M80.0 323.0a1.8 1.8 0 1 0 3.60 0a1.8 1.8 0 1 0 -3.60 0M81.3 323.0a1.8 1.8 0 1 0 3.60 0a1.8 1.8 0 1 0 -3.60 0M82.6 323.0a1.8 1.8 0 1 0 3.60 0a1.8 1.8 0 1 0 -3.60 0M83.9 323.0a1.8 1.8 0 1 0 3.60 0a1.8 1.8 0 1 0 -3.60 0M85.2 323.0a1.8 1.8 0 1 0 3.60 0a1.8 1.8 0 1 0 -3.60 0M86.5 323.0a1.8 1.8 0 1 0 3.60 0a1.8 1.8 0 1 0 -3.60 0M87.8 323.0a1.8 1.8 0 1 0 3.60 0a1.8 1.8 0 1 0 -3.60 0M89.1 323.0a1.8 1.8 0 1 0 3.60 0a1.8 1.8 0 1 0 -3.60 0M90.4 323.0a1.8 1.8 0 1 0 3.60 0a1.8 1.8 0 1 0 -3.60 0M91.8 323.0a1.8 1.8 0 1 0 3.60 0a1.8 1.8 0 1 0 -3.60 0M93.1 323.0a1.8 1.8 0 1 0 3.60 0a1.8 1.8 0 1 0 -3.60 0M94.4 323.0a1.8 1.8 0 1 0 3.60 0a1.8 1.8 0 1 0 -3.60 0M95.7 323.0a1.8 1.8 0 1 0 3.60 0a1.8 1.8 0 1 0 -3.60 0M97.0 323.0a1.8 1.8 0 1 0 3.60 0a1.8 1.8 0 1 0 -3.60 0M98.3 323.0a1.8 1.8 0 1 0 3.60 0a1.8 1.8 0 1 0 -3.60 0M99.6 323.0a1.8 1.8 0 1 0 3.60 0a1.8 1.8 0 1 0 -3.60 0M100.9 323.0a1.8 1.8 0 1 0 3.60 0a1.8 1.8 0 1 0 -3.60 0M102.2 323.0a1.8 1.8 0 1 0 3.60 0a1.8 1.8 0 1 0 -3.60 0M103.5 323.0a1.8 1.8 0 1 0 3.60 0a1.8 1.8 0 1 0 -3.60 0M104.8 323.0a1.8 1.8 0 1 0 3.60 0a1.8 1.8 0 1 0 -3.60 0M106.1 323.0a1.8 1.8 0 1 0 3.60 0a1.8 1.8 0 1 0 -3.60 0M107.4 323.0a1.8 1.8 0 1 0 3.60 0a1.8 1.8 0 1 0 -3.60 0M108.7 323.0a1.8 1.8 0 1 0 3.60 0a1.8 1.8 0 1 0 -3.60 0M110.0 323.0a1.8 1.8 0 1 0 3.60 0a1.8 1.8 0 1 0 -3.60 0M111.3 323.0a1.8 1.8 0 1 0 3.60 0a1.8 1.8 0 1 0 -3.60 0M112.6 323.0a1.8 1.8 0 1 0 3.60 0a1.8 1.8 0 1 0 -3.60 0M113.9 323.0a1.8 1.8 0 1 0 3.60 0a1.8 1.8 0 1 0 -3.60 0M115.2 323.0a1.8 1.8 0 1 0 3.60 0a1.8 1.8 0 1 0 -3.60 0"/>
<path fill="#0800b8" d="M68.0 248.6a1.8 1.8 0 1 0 3.60 0a1.8 1.8 0 1 0 -3.60 0M70.3 238.1a1.8 1.8 0 1 0 3.60 0a1.8 1.8 0 1 0 -3.60 0M71.6 214.5a1.8 1.8 0 1 0 3.60 0a1.8 1.8 0 1 0 -3.60 0M73.5 212.5a1.8 1.8 0 1 0 3.60 0a1.8 1.8 0 1 0 -3.60 0M73.2 196.2a1.8 1.8 0 1 0 3.60 0a1.8 1.8 0 1 0 -3.60 0M76.0 152.1a1.8 1.8 0 1 0 3.60 0a1.8 1.8 0 1 0 -3.60 0M78.5 171.3a1.8 1.8 0 1 0 3.60 0a1.8 1.8 0 1 0 -3.60 0M79.3 194.3a1.8 1.8 0 1 0 3.60 0a1.8 1.8 0 1 0 -3.60 0M80.8 189.1a1.8 1.8 0 1 0 3.60 0a1.8 1.8 0 1 0 -3.60 0M83.3 180.3a1.8 1.8 0 1 0 3.60 0a1.8 1.8 0 1 0 -3.60 0M84.2 181.6a1.8 1.8 0 1 0 3.60 0a1.8 1.8 0 1 0 -3.60 0M85.1 182.8a1.8 1.8 0 1 0 3.60 0a1.8 1.8 0 1 0 -3.60 0M87.5 179.5a1.8 1.8 0 1 0 3.60 0a1.8 1.8 0 1 0 -3.60 0M86.6 174.5a1.8 1.8 0 1 0 3.60 0a1.8 1.8 0 1 0 -3.60 0M88.5 174.1a1.8 1.8 0 1 0 3.60 0a1.8 1.8 0 1 0 -3.60 0M89.6 173.1a1.8 1.8 0 1 0 3.60 0a1.8 1.8 0 1 0 -3.60 0M90.8 172.2a1.8 1.8 0 1 0 3.60 0a1.8 1.8 0 1 0 -3.60 0M93.7 161.1a1.8 1.8 0 1 0 3.60 0a1.8 1.8 0 1 0 -3.60 0M97.7 148.2a1.8 1.8 0 1 0 3.60 0a1.8 1.8 0 1 0 -3.60 0M96.2 136.1a1.8 1.8 0 1 0 3.60 0a1.8 1.8 0 1 0 -3.60 0M102.5 136.1a1.8 1.8 0 1 0 3.60 0a1.8 1.8 0 1 0 -3.60 0M102.5 142.5a1.8 1.8 0 1 0 3.60 0a1.8 1.8 0 1 0 -3.60 0M111.5 136.1a1.8 1.8 0 1 0 3.60 0a1.8 1.8 0 1 0 -3.60 0M114.4 132.3a1.8 1.8 0 1 0 3.60 0a1.8 1.8 0 1 0 -3.60 0M94.5 114.5a1.8 1.8 0 1 0 3.60 0a1.8 1.8 0 1 0 -3.60 0M100.2 127.5a1.8 1.8 0 1 0 3.60 0a1.8 1.8 0 1 0 -3.60 0M104.5 104.2a1.8 1.8 0 1 0 3.60 0a1.8 1.8 0 1 0 -3.60 0M107.0 125.5a1.8 1.8 0 1 0 3.60 0a1.8 1.8 0 1 0 -3.60 0M108.2 120.5a1.8 1.8 0 1 0 3.60 0a1.8 1.8 0 1 0 -3.60 0M110.0 128.0a1.8 1.8 0 1 0 3.60 0a1.8 1.8 0 1 0 -3.60 0M113.2 133.8a1.8 1.8 0 1 0 3.60 0a1.8 1.8 0 1 0 -3.60 0M116.5 126.2a1.8 1.8 0 1 0 3.60 0a1.8 1.8 0 1 0 -3.60 0M118.2 118.8a1.8 1.8 0 1 0 3.60 0a1.8 1.8 0 1 0 -3.60 0M119.5 117.0a1.8 1.8 0 1 0 3.60 0a1.8 1.8 0 1 0 -3.60 0M120.3 115.8a1.8 1.8 0 1 0 3.60 0a1.8 1.8 0 1 0 -3.60 0M121.2 114.5a1.8 1.8 0 1 0 3.60 0a1.8 1.8 0 1 0 -3.60 0M122.7 119.5a1.8 1.8 0 1 0 3.60 0a1.8 1.8 0 1 0 -3.60 0M124.5 117.5a1.8 1.8 0 1 0 3.60 0a1.8 1.8 0 1 0 -3.60 0M126.2 113.8a1.8 1.8 0 1 0 3.60 0a1.8 1.8 0 1 0 -3.60 0M129.4 107.5a1.8 1.8 0 1 0 3.60 0a1.8 1.8 0 1 0 -3.60 0M128.7 102.5a1.8 1.8 0 1 0 3.60 0a1.8 1.8 0 1 0 -3.60 0M131.2 101.2a1.8 1.8 0 1 0 3.60 0a1.8 1.8 0 1 0 -3.60 0M132.4 100.4a1.8 1.8 0 1 0 3.60 0a1.8 1.8 0 1 0 -3.60 0M133.7 99.5a1.8 1.8 0 1 0 3.60 0a1.8 1.8 0 1 0 -3.60 0M136.2 95.5a1.8 1.8 0 1 0 3.60 0a1.8 1.8 0 1 0 -3.60 0M137.7 86.2a1.8 1.8 0 1 0 3.60 0a1.8 1.8 0 1 0 -3.60 0M139.4 88.0a1.8 1.8 0 1 0 3.60 0a1.8 1.8 0 1 0 -3.60 0M141.4 85.0a1.8 1.8 0 1 0 3.60 0a1.8 1.8 0 1 0 -3.60 0M143.9 83.8a1.8 1.8 0 1 0 3.60 0a1.8 1.8 0 1 0 -3.60 0M145.2 82.0a1.8 1.8 0 1 0 3.60 0a1.8 1.8 0 1 0 -3.60 0M147.7 77.5a1.8 1.8 0 1 0 3.60 0a1.8 1.8 0 1 0 -3.60 0M148.9 76.6a1.8 1.8 0 1 0 3.60 0a1.8 1.8 0 1 0 -3.60 0M150.2 75.8a1.8 1.8 0 1 0 3.60 0a1.8 1.8 0 1 0 -3.60 0M152.7 76.2a1.8 1.8 0 1 0 3.60 0a1.8 1.8 0 1 0 -3.60 0M155.2 76.2a1.8 1.8 0 1 0 3.60 0a1.8 1.8 0 1 0 -3.60 0M157.7 77.5a1.8 1.8 0 1 0 3.60 0a1.8 1.8 0 1 0 -3.60 0M159.9 78.2a1.8 1.8 0 1 0 3.60 0a1.8 1.8 0 1 0 -3.60 0M150.7 52.5a1.8 1.8 0 1 0 3.60 0a1.8 1.8 0 1 0 -3.60 0M167.4 85.5a1.8 1.8 0 1 0 3.60 0a1.8 1.8 0 1 0 -3.60 0M168.9 92.0a1.8 1.8 0 1 0 3.60 0a1.8 1.8 0 1 0 -3.60 0M177.7 86.2a1.8 1.8 0 1 0 3.60 0a1.8 1.8 0 1 0 -3.60 0M179.4 85.0a1.8 1.8 0 1 0 3.60 0a1.8 1.8 0 1 0 -3.60 0M181.4 83.8a1.8 1.8 0 1 0 3.60 0a1.8 1.8 0 1 0 -3.60 0M183.2 83.0a1.8 1.8 0 1 0 3.60 0a1.8 1.8 0 1 0 -3.60 0M186.9 79.5a1.8 1.8 0 1 0 3.60 0a1.8 1.8 0 1 0 -3.60 0M165.7 139.5a1.8 1.8 0 1 0 3.60 0a1.8 1.8 0 1 0 -3.60 0M163.7 166.6a1.8 1.8 0 1 0 3.60 0a1.8 1.8 0 1 0 -3.60 0M163.8 168.2a1.8 1.8 0 1 0 3.60 0a1.8 1.8 0 1 0 -3.60 0M175.2 176.8a1.8 1.8 0 1 0 3.60 0a1.8 1.8 0 1 0 -3.60 0M188.2 78.8a1.8 1.8 0 1 0 3.60 0a1.8 1.8 0 1 0 -3.60 0M190.2 78.0a1.8 1.8 0 1 0 3.60 0a1.8 1.8 0 1 0 -3.60 0M191.4 78.8a1.8 1.8 0 1 0 3.60 0a1.8 1.8 0 1 0 -3.60 0M192.7 79.5a1.8 1.8 0 1 0 3.60 0a1.8 1.8 0 1 0 -3.60 0M194.4 80.0a1.8 1.8 0 1 0 3.60 0a1.8 1.8 0 1 0 -3.60 0M196.2 82.0a1.8 1.8 0 1 0 3.60 0a1.8 1.8 0 1 0 -3.60 0M198.2 92.0a1.8 1.8 0 1 0 3.60 0a1.8 1.8 0 1 0 -3.60 0M201.2 105.8a1.8 1.8 0 1 0 3.60 0a1.8 1.8 0 1 0 -3.60 0M196.9 124.5a1.8 1.8 0 1 0 3.60 0a1.8 1.8 0 1 0 -3.60 0M216.2 74.5a1.8 1.8 0 1 0 3.60 0a1.8 1.8 0 1 0 -3.60 0M215.2 82.0a1.8 1.8 0 1 0 3.60 0a1.8 1.8 0 1 0 -3.60 0M220.2 80.8a1.8 1.8 0 1 0 3.60 0a1.8 1.8 0 1 0 -3.60 0M210.7 89.5a1.8 1.8 0 1 0 3.60 0a1.8 1.8 0 1 0 -3.60 0M212.7 91.2a1.8 1.8 0 1 0 3.60 0a1.8 1.8 0 1 0 -3.60 0M217.7 92.5a1.8 1.8 0 1 0 3.60 0a1.8 1.8 0 1 0 -3.60 0M218.9 93.8a1.8 1.8 0 1 0 3.60 0a1.8 1.8 0 1 0 -3.60 0M220.8 95.0a1.8 1.8 0 1 0 3.60 0a1.8 1.8 0 1 0 -3.60 0M222.7 96.2a1.8 1.8 0 1 0 3.60 0a1.8 1.8 0 1 0 -3.60 0M224.4 97.5a1.8 1.8 0 1 0 3.60 0a1.8 1.8 0 1 0 -3.60 0M225.3 98.8a1.8 1.8 0 1 0 3.60 0a1.8 1.8 0 1 0 -3.60 0M226.2 100.0a1.8 1.8 0 1 0 3.60 0a1.8 1.8 0 1 0 -3.60 0M266.2 114.5a1.8 1.8 0 1 0 3.60 0a1.8 1.8 0 1 0 -3.60 0M264.4 122.5a1.8 1.8 0 1 0 3.60 0a1.8 1.8 0 1 0 -3.60 0M261.2 126.2a1.8 1.8 0 1 0 3.60 0a1.8 1.8 0 1 0 -3.60 0M265.7 125.0a1.8 1.8 0 1 0 3.60 0a1.8 1.8 0 1 0 -3.60 0M269.4 118.0a1.8 1.8 0 1 0 3.60 0a1.8 1.8 0 1 0 -3.60 0M270.7 118.8a1.8 1.8 0 1 0 3.60 0a1.8 1.8 0 1 0 -3.60 0M271.9 119.5a1.8 1.8 0 1 0 3.60 0a1.8 1.8 0 1 0 -3.60 0M273.2 120.4a1.8 1.8 0 1 0 3.60 0a1.8 1.8 0 1 0 -3.60 0M274.4 121.2a1.8 1.8 0 1 0 3.60 0a1.8 1.8 0 1 0 -3.60 0M275.7 122.1a1.8 1.8 0 1 0 3.60 0a1.8 1.8 0 1 0 -3.60 0M276.9 123.0a1.8 1.8 0 1 0 3.60 0a1.8 1.8 0 1 0 -3.60 0M278.2 124.2a1.8 1.8 0 1 0 3.60 0a1.8 1.8 0 1 0 -3.60 0M279.4 125.5a1.8 1.8 0 1 0 3.60 0a1.8 1.8 0 1 0 -3.60 0M280.7 126.8a1.8 1.8 0 1 0 3.60 0a1.8 1.8 0 1 0 -3.60 0M281.9 128.0a1.8 1.8 0 1 0 3.60 0a1.8 1.8 0 1 0 -3.60 0M283.2 129.0a1.8 1.8 0 1 0 3.60 0a1.8 1.8 0 1 0 -3.60 0M284.4 130.0a1.8 1.8 0 1 0 3.60 0a1.8 1.8 0 1 0 -3.60 0M285.7 131.0a1.8 1.8 0 1 0 3.60 0a1.8 1.8 0 1 0 -3.60 0M286.9 132.0a1.8 1.8 0 1 0 3.60 0a1.8 1.8 0 1 0 -3.60 0M287.9 133.2a1.8 1.8 0 1 0 3.60 0a1.8 1.8 0 1 0 -3.60 0M288.9 134.5a1.8 1.8 0 1 0 3.60 0a1.8 1.8 0 1 0 -3.60 0M288.7 137.0a1.8 1.8 0 1 0 3.60 0a1.8 1.8 0 1 0 -3.60 0M291.2 160.0a1.8 1.8 0 1 0 3.60 0a1.8 1.8 0 1 0 -3.60 0M259.4 177.5a1.8 1.8 0 1 0 3.60 0a1.8 1.8 0 1 0 -3.60 0M202.7 181.8a1.8 1.8 0 1 0 3.60 0a1.8 1.8 0 1 0 -3.60 0M229.4 167.0a1.8 1.8 0 1 0 3.60 0a1.8 1.8 0 1 0 -3.60 0M208.2 209.5a1.8 1.8 0 1 0 3.60 0a1.8 1.8 0 1 0 -3.60 0M238.7 217.5a1.8 1.8 0 1 0 3.60 0a1.8 1.8 0 1 0 -3.60 0M257.7 218.2a1.8 1.8 0 1 0 3.60 0a1.8 1.8 0 1 0 -3.60 0M292.7 211.2a1.8 1.8 0 1 0 3.60 0a1.8 1.8 0 1 0 -3.60 0M293.9 210.0a1.8 1.8 0 1 0 3.60 0a1.8 1.8 0 1 0 -3.60 0M295.2 208.8a1.8 1.8 0 1 0 3.60 0a1.8 1.8 0 1 0 -3.60 0M297.4 220.8a1.8 1.8 0 1 0 3.60 0a1.8 1.8 0 1 0 -3.60 0M299.4 228.0a1.8 1.8 0 1 0 3.60 0a1.8 1.8 0 1 0 -3.60 0M298.7 238.0a1.8 1.8 0 1 0 3.60 0a1.8 1.8 0 1 0 -3.60 0M343.2 177.0a1.8 1.8 0 1 0 3.60 0a1.8 1.8 0 1 0 -3.60 0M345.2 178.8a1.8 1.8 0 1 0 3.60 0a1.8 1.8 0 1 0 -3.60 0M339.4 182.0a1.8 1.8 0 1 0 3.60 0a1.8 1.8 0 1 0 -3.60 0M341.2 183.8a1.8 1.8 0 1 0 3.60 0a1.8 1.8 0 1 0 -3.60 0M347.7 185.0a1.8 1.8 0 1 0 3.60 0a1.8 1.8 0 1 0 -3.60 0M357.7 189.5a1.8 1.8 0 1 0 3.60 0a1.8 1.8 0 1 0 -3.60 0M350.2 196.2a1.8 1.8 0 1 0 3.60 0a1.8 1.8 0 1 0 -3.60 0M335.7 201.2a1.8 1.8 0 1 0 3.60 0a1.8 1.8 0 1 0 -3.60 0M337.7 204.5a1.8 1.8 0 1 0 3.60 0a1.8 1.8 0 1 0 -3.60 0M354.4 204.5a1.8 1.8 0 1 0 3.60 0a1.8 1.8 0 1 0 -3.60 0M355.7 206.2a1.8 1.8 0 1 0 3.60 0a1.8 1.8 0 1 0 -3.60 0M359.4 210.0a1.8 1.8 0 1 0 3.60 0a1.8 1.8 0 1 0 -3.60 0M360.7 213.8a1.8 1.8 0 1 0 3.60 0a1.8 1.8 0 1 0 -3.60 0M351.2 219.5a1.8 1.8 0 1 0 3.60 0a1.8 1.8 0 1 0 -3.60 0M362.7 229.5a1.8 1.8 0 1 0 3.60 0a1.8 1.8 0 1 0 -3.60 0M328.2 231.2a1.8 1.8 0 1 0 3.60 0a1.8 1.8 0 1 0 -3.60 0M330.2 232.5a1.8 1.8 0 1 0 3.60 0a1.8 1.8 0 1 0 -3.60 0M334.4 230.5a1.8 1.8 0 1 0 3.60 0a1.8 1.8 0 1 0 -3.60 0M241.2 268.0a1.8 1.8 0 1 0 3.60 0a1.8 1.8 0 1 0 -3.60 0M256.2 251.2a1.8 1.8 0 1 0 3.60 0a1.8 1.8 0 1 0 -3.60 0M255.7 262.0a1.8 1.8 0 1 0 3.60 0a1.8 1.8 0 1 0 -3.60 0M253.2 267.5a1.8 1.8 0 1 0 3.60 0a1.8 1.8 0 1 0 -3.60 0M321.9 245.5a1.8 1.8 0 1 0 3.60 0a1.8 1.8 0 1 0 -3.60 0M326.2 247.0a1.8 1.8 0 1 0 3.60 0a1.8 1.8 0 1 0 -3.60 0M331.9 243.0a1.8 1.8 0 1 0 3.60 0a1.8 1.8 0 1 0 -3.60 0M318.7 257.0a1.8 1.8 0 1 0 3.60 0a1.8 1.8 0 1 0 -3.60 0M331.9 262.5a1.8 1.8 0 1 0 3.60 0a1.8 1.8 0 1 0 -3.60 0M317.7 285.0a1.8 1.8 0 1 0 3.60 0a1.8 1.8 0 1 0 -3.60 0M324.4 283.8a1.8 1.8 0 1 0 3.60 0a1.8 1.8 0 1 0 -3.60 0M301.9 302.5a1.8 1.8 0 1 0 3.60 0a1.8 1.8 0 1 0 -3.60 0M251.2 307.5a1.8 1.8 0 1 0 3.60 0a1.8 1.8 0 1 0 -3.60 0M249.4 317.5a1.8 1.8 0 1 0 3.60 0a1.8 1.8 0 1 0 -3.60 0M312.7 318.8a1.8 1.8 0 1 0 3.60 0a1.8 1.8 0 1 0 -3.60 0M353.7 257.0a1.8 1.8 0 1 0 3.60 0a1.8 1.8 0 1 0 -3.60 0M365.7 247.5a1.8 1.8 0 1 0 3.60 0a1.8 1.8 0 1 0 -3.60 0M366.9 271.2a1.8 1.8 0 1 0 3.60 0a1.8 1.8 0 1 0 -3.60 0M316.4 308.9a1.8 1.8 0 1 0 3.60 0a1.8 1.8 0 1 0 -3.60 0M368.6 273.1a1.8 1.8 0 1 0 3.60 0a1.8 1.8 0 1 0 -3.60 0M369.9 276.2a1.8 1.8 0 1 0 3.60 0a1.8 1.8 0 1 0 -3.60 0M371.3 287.1a1.8 1.8 0 1 0 3.60 0a1.8 1.8 0 1 0 -3.60 0M373.2 305.0a1.8 1.8 0 1 0 3.60 0a1.8 1.8 0 1 0 -3.60 0M374.7 314.0a1.8 1.8 0 1 0 3.60 0a1.8 1.8 0 1 0 -3.60 0M375.7 312.1a1.8 1.8 0 1 0 3.60 0a1.8 1.8 0 1 0 -3.60 0M378.2 317.5a1.8 1.8 0 1 0 3.60 0a1.8 1.8 0 1 0 -3.60 0M432.8 269.2a1.8 1.8 0 1 0 3.60 0a1.8 1.8 0 1 0 -3.60 0M434.7 257.4a1.8 1.8 0 1 0 3.60 0a1.8 1.8 0 1 0 -3.60 0M435.6 252.8a1.8 1.8 0 1 0 3.60 0a1.8 1.8 0 1 0 -3.60 0M437.9 245.4a1.8 1.8 0 1 0 3.60 0a1.8 1.8 0 1 0 -3.60 0M439.7 238.9a1.8 1.8 0 1 0 3.60 0a1.8 1.8 0 1 0 -3.60 0M440.2 233.8a1.8 1.8 0 1 0 3.60 0a1.8 1.8 0 1 0 -3.60 0M441.7 232.9a1.8 1.8 0 1 0 3.60 0a1.8 1.8 0 1 0 -3.60 0M443.2 232.0a1.8 1.8 0 1 0 3.60 0a1.8 1.8 0 1 0 -3.60 0M444.9 232.6a1.8 1.8 0 1 0 3.60 0a1.8 1.8 0 1 0 -3.60 0M446.7 233.2a1.8 1.8 0 1 0 3.60 0a1.8 1.8 0 1 0 -3.60 0M449.0 234.3a1.8 1.8 0 1 0 3.60 0a1.8 1.8 0 1 0 -3.60 0M451.3 235.7a1.8 1.8 0 1 0 3.60 0a1.8 1.8 0 1 0 -3.60 0M453.6 239.6a1.8 1.8 0 1 0 3.60 0a1.8 1.8 0 1 0 -3.60 0M454.7 243.1a1.8 1.8 0 1 0 3.60 0a1.8 1.8 0 1 0 -3.60 0M455.9 244.9a1.8 1.8 0 1 0 3.60 0a1.8 1.8 0 1 0 -3.60 0M457.7 239.6a1.8 1.8 0 1 0 3.60 0a1.8 1.8 0 1 0 -3.60 0M460.0 240.3a1.8 1.8 0 1 0 3.60 0a1.8 1.8 0 1 0 -3.60 0M461.2 241.4a1.8 1.8 0 1 0 3.60 0a1.8 1.8 0 1 0 -3.60 0M462.4 242.4a1.8 1.8 0 1 0 3.60 0a1.8 1.8 0 1 0 -3.60 0M464.0 247.2a1.8 1.8 0 1 0 3.60 0a1.8 1.8 0 1 0 -3.60 0M466.3 247.2a1.8 1.8 0 1 0 3.60 0a1.8 1.8 0 1 0 -3.60 0M467.8 246.8a1.8 1.8 0 1 0 3.60 0a1.8 1.8 0 1 0 -3.60 0M469.3 246.5a1.8 1.8 0 1 0 3.60 0a1.8 1.8 0 1 0 -3.60 0M471.6 248.2a1.8 1.8 0 1 0 3.60 0a1.8 1.8 0 1 0 -3.60 0M473.0 249.1a1.8 1.8 0 1 0 3.60 0a1.8 1.8 0 1 0 -3.60 0M474.4 250.0a1.8 1.8 0 1 0 3.60 0a1.8 1.8 0 1 0 -3.60 0M476.2 251.2a1.8 1.8 0 1 0 3.60 0a1.8 1.8 0 1 0 -3.60 0M476.7 258.1a1.8 1.8 0 1 0 3.60 0a1.8 1.8 0 1 0 -3.60 0M479.4 254.6a1.8 1.8 0 1 0 3.60 0a1.8 1.8 0 1 0 -3.60 0M480.1 263.4a1.8 1.8 0 1 0 3.60 0a1.8 1.8 0 1 0 -3.60 0M482.4 255.8a1.8 1.8 0 1 0 3.60 0a1.8 1.8 0 1 0 -3.60 0M484.0 259.7a1.8 1.8 0 1 0 3.60 0a1.8 1.8 0 1 0 -3.60 0M484.7 268.5a1.8 1.8 0 1 0 3.60 0a1.8 1.8 0 1 0 -3.60 0M487.0 261.1a1.8 1.8 0 1 0 3.60 0a1.8 1.8 0 1 0 -3.60 0M490.0 264.5a1.8 1.8 0 1 0 3.60 0a1.8 1.8 0 1 0 -3.60 0M490.5 269.6a1.8 1.8 0 1 0 3.60 0a1.8 1.8 0 1 0 -3.60 0M492.8 266.2a1.8 1.8 0 1 0 3.60 0a1.8 1.8 0 1 0 -3.60 0M493.3 273.5a1.8 1.8 0 1 0 3.60 0a1.8 1.8 0 1 0 -3.60 0M495.1 276.5a1.8 1.8 0 1 0 3.60 0a1.8 1.8 0 1 0 -3.60 0M497.0 268.9a1.8 1.8 0 1 0 3.60 0a1.8 1.8 0 1 0 -3.60 0M428.2 289.2a1.8 1.8 0 1 0 3.60 0a1.8 1.8 0 1 0 -3.60 0M431.7 295.7a1.8 1.8 0 1 0 3.60 0a1.8 1.8 0 1 0 -3.60 0M427.0 300.3a1.8 1.8 0 1 0 3.60 0a1.8 1.8 0 1 0 -3.60 0M425.4 314.2a1.8 1.8 0 1 0 3.60 0a1.8 1.8 0 1 0 -3.60 0M160.7 257.0a1.8 1.8 0 1 0 3.60 0a1.8 1.8 0 1 0 -3.60 0M171.2 237.0a1.8 1.8 0 1 0 3.60 0a1.8 1.8 0 1 0 -3.60 0M174.4 241.2a1.8 1.8 0 1 0 3.60 0a1.8 1.8 0 1 0 -3.60 0M173.2 270.5a1.8 1.8 0 1 0 3.60 0a1.8 1.8 0 1 0 -3.60 0M207.8 232.7a1.8 1.8 0 1 0 3.60 0a1.8 1.8 0 1 0 -3.60 0M204.0 238.8a1.8 1.8 0 1 0 3.60 0a1.8 1.8 0 1 0 -3.60 0M233.8 265.8a1.8 1.8 0 1 0 3.60 0a1.8 1.8 0 1 0 -3.60 0M241.5 267.7a1.8 1.8 0 1 0 3.60 0a1.8 1.8 0 1 0 -3.60 0M186.7 284.6a1.8 1.8 0 1 0 3.60 0a1.8 1.8 0 1 0 -3.60 0M205.5 283.5a1.8 1.8 0 1 0 3.60 0a1.8 1.8 0 1 0 -3.60 0M230.9 284.6a1.8 1.8 0 1 0 3.60 0a1.8 1.8 0 1 0 -3.60 0M235.7 280.8a1.8 1.8 0 1 0 3.60 0a1.8 1.8 0 1 0 -3.60 0M236.3 290.8a1.8 1.8 0 1 0 3.60 0a1.8 1.8 0 1 0 -3.60 0M184.7 303.8a1.8 1.8 0 1 0 3.60 0a1.8 1.8 0 1 0 -3.60 0M231.9 306.5a1.8 1.8 0 1 0 3.60 0a1.8 1.8 0 1 0 -3.60 0M238.6 217.3a1.8 1.8 0 1 0 3.60 0a1.8 1.8 0 1 0 -3.60 0"/>
<path fill="#e00000" d="M67.0 323.3a1.8 1.8 0 1 0 3.60 0a1.8 1.8 0 1 0 -3.60 0M68.2 318.1a1.8 1.8 0 1 0 3.60 0a1.8 1.8 0 1 0 -3.60 0M69.9 316.7a1.8 1.8 0 1 0 3.60 0a1.8 1.8 0 1 0 -3.60 0M72.2 308.8a1.8 1.8 0 1 0 3.60 0a1.8 1.8 0 1 0 -3.60 0M74.0 310.2a1.8 1.8 0 1 0 3.60 0a1.8 1.8 0 1 0 -3.60 0M73.4 300.2a1.8 1.8 0 1 0 3.60 0a1.8 1.8 0 1 0 -3.60 0M76.0 276.5a1.8 1.8 0 1 0 3.60 0a1.8 1.8 0 1 0 -3.60 0M78.6 292.3a1.8 1.8 0 1 0 3.60 0a1.8 1.8 0 1 0 -3.60 0M79.5 305.6a1.8 1.8 0 1 0 3.60 0a1.8 1.8 0 1 0 -3.60 0M80.9 304.5a1.8 1.8 0 1 0 3.60 0a1.8 1.8 0 1 0 -3.60 0M83.4 301.7a1.8 1.8 0 1 0 3.60 0a1.8 1.8 0 1 0 -3.60 0M85.3 305.2a1.8 1.8 0 1 0 3.60 0a1.8 1.8 0 1 0 -3.60 0M87.2 301.9a1.8 1.8 0 1 0 3.60 0a1.8 1.8 0 1 0 -3.60 0M238.7 287.9a1.8 1.8 0 1 0 3.60 0a1.8 1.8 0 1 0 -3.60 0M241.4 309.8a1.8 1.8 0 1 0 3.60 0a1.8 1.8 0 1 0 -3.60 0M258.1 287.0a1.8 1.8 0 1 0 3.60 0a1.8 1.8 0 1 0 -3.60 0M256.9 302.0a1.8 1.8 0 1 0 3.60 0a1.8 1.8 0 1 0 -3.60 0M252.9 308.9a1.8 1.8 0 1 0 3.60 0a1.8 1.8 0 1 0 -3.60 0M254.2 308.0a1.8 1.8 0 1 0 3.60 0a1.8 1.8 0 1 0 -3.60 0M255.5 307.2a1.8 1.8 0 1 0 3.60 0a1.8 1.8 0 1 0 -3.60 0M257.6 307.7a1.8 1.8 0 1 0 3.60 0a1.8 1.8 0 1 0 -3.60 0M261.2 243.8a1.8 1.8 0 1 0 3.60 0a1.8 1.8 0 1 0 -3.60 0M263.2 242.5a1.8 1.8 0 1 0 3.60 0a1.8 1.8 0 1 0 -3.60 0M266.2 238.2a1.8 1.8 0 1 0 3.60 0a1.8 1.8 0 1 0 -3.60 0M267.8 239.1a1.8 1.8 0 1 0 3.60 0a1.8 1.8 0 1 0 -3.60 0M269.4 240.0a1.8 1.8 0 1 0 3.60 0a1.8 1.8 0 1 0 -3.60 0M271.3 240.4a1.8 1.8 0 1 0 3.60 0a1.8 1.8 0 1 0 -3.60 0M273.2 240.8a1.8 1.8 0 1 0 3.60 0a1.8 1.8 0 1 0 -3.60 0M275.1 241.4a1.8 1.8 0 1 0 3.60 0a1.8 1.8 0 1 0 -3.60 0M276.9 242.0a1.8 1.8 0 1 0 3.60 0a1.8 1.8 0 1 0 -3.60 0M278.8 242.6a1.8 1.8 0 1 0 3.60 0a1.8 1.8 0 1 0 -3.60 0M280.7 243.2a1.8 1.8 0 1 0 3.60 0a1.8 1.8 0 1 0 -3.60 0M282.6 243.9a1.8 1.8 0 1 0 3.60 0a1.8 1.8 0 1 0 -3.60 0M284.4 244.5a1.8 1.8 0 1 0 3.60 0a1.8 1.8 0 1 0 -3.60 0M286.9 245.8a1.8 1.8 0 1 0 3.60 0a1.8 1.8 0 1 0 -3.60 0M289.4 247.0a1.8 1.8 0 1 0 3.60 0a1.8 1.8 0 1 0 -3.60 0M291.2 258.8a1.8 1.8 0 1 0 3.60 0a1.8 1.8 0 1 0 -3.60 0M259.4 268.2a1.8 1.8 0 1 0 3.60 0a1.8 1.8 0 1 0 -3.60 0M292.7 283.0a1.8 1.8 0 1 0 3.60 0a1.8 1.8 0 1 0 -3.60 0M295.2 281.8a1.8 1.8 0 1 0 3.60 0a1.8 1.8 0 1 0 -3.60 0M297.7 287.5a1.8 1.8 0 1 0 3.60 0a1.8 1.8 0 1 0 -3.60 0M299.4 290.5a1.8 1.8 0 1 0 3.60 0a1.8 1.8 0 1 0 -3.60 0M298.7 295.5a1.8 1.8 0 1 0 3.60 0a1.8 1.8 0 1 0 -3.60 0M253.7 308.0a1.8 1.8 0 1 0 3.60 0a1.8 1.8 0 1 0 -3.60 0M339.4 267.5a1.8 1.8 0 1 0 3.60 0a1.8 1.8 0 1 0 -3.60 0M341.9 268.8a1.8 1.8 0 1 0 3.60 0a1.8 1.8 0 1 0 -3.60 0M344.4 265.8a1.8 1.8 0 1 0 3.60 0a1.8 1.8 0 1 0 -3.60 0M346.9 267.0a1.8 1.8 0 1 0 3.60 0a1.8 1.8 0 1 0 -3.60 0M348.2 270.0a1.8 1.8 0 1 0 3.60 0a1.8 1.8 0 1 0 -3.60 0M336.2 276.2a1.8 1.8 0 1 0 3.60 0a1.8 1.8 0 1 0 -3.60 0M337.2 277.5a1.8 1.8 0 1 0 3.60 0a1.8 1.8 0 1 0 -3.60 0M338.2 278.8a1.8 1.8 0 1 0 3.60 0a1.8 1.8 0 1 0 -3.60 0M350.7 275.5a1.8 1.8 0 1 0 3.60 0a1.8 1.8 0 1 0 -3.60 0M356.9 271.2a1.8 1.8 0 1 0 3.60 0a1.8 1.8 0 1 0 -3.60 0M354.4 278.8a1.8 1.8 0 1 0 3.60 0a1.8 1.8 0 1 0 -3.60 0M356.1 279.4a1.8 1.8 0 1 0 3.60 0a1.8 1.8 0 1 0 -3.60 0M357.7 280.0a1.8 1.8 0 1 0 3.60 0a1.8 1.8 0 1 0 -3.60 0M358.9 281.2a1.8 1.8 0 1 0 3.60 0a1.8 1.8 0 1 0 -3.60 0M360.2 282.5a1.8 1.8 0 1 0 3.60 0a1.8 1.8 0 1 0 -3.60 0M351.2 286.2a1.8 1.8 0 1 0 3.60 0a1.8 1.8 0 1 0 -3.60 0M362.7 290.5a1.8 1.8 0 1 0 3.60 0a1.8 1.8 0 1 0 -3.60 0M328.2 291.2a1.8 1.8 0 1 0 3.60 0a1.8 1.8 0 1 0 -3.60 0M330.7 292.0a1.8 1.8 0 1 0 3.60 0a1.8 1.8 0 1 0 -3.60 0M332.6 291.6a1.8 1.8 0 1 0 3.60 0a1.8 1.8 0 1 0 -3.60 0M334.4 291.2a1.8 1.8 0 1 0 3.60 0a1.8 1.8 0 1 0 -3.60 0M323.2 297.0a1.8 1.8 0 1 0 3.60 0a1.8 1.8 0 1 0 -3.60 0M325.7 298.0a1.8 1.8 0 1 0 3.60 0a1.8 1.8 0 1 0 -3.60 0M331.9 297.0a1.8 1.8 0 1 0 3.60 0a1.8 1.8 0 1 0 -3.60 0M319.4 303.8a1.8 1.8 0 1 0 3.60 0a1.8 1.8 0 1 0 -3.60 0M331.2 305.0a1.8 1.8 0 1 0 3.60 0a1.8 1.8 0 1 0 -3.60 0M353.2 303.0a1.8 1.8 0 1 0 3.60 0a1.8 1.8 0 1 0 -3.60 0M354.4 302.1a1.8 1.8 0 1 0 3.60 0a1.8 1.8 0 1 0 -3.60 0M355.7 301.2a1.8 1.8 0 1 0 3.60 0a1.8 1.8 0 1 0 -3.60 0M364.4 300.0a1.8 1.8 0 1 0 3.60 0a1.8 1.8 0 1 0 -3.60 0M365.7 312.5a1.8 1.8 0 1 0 3.60 0a1.8 1.8 0 1 0 -3.60 0M322.1 297.7a1.8 1.8 0 1 0 3.60 0a1.8 1.8 0 1 0 -3.60 0M327.3 292.5a1.8 1.8 0 1 0 3.60 0a1.8 1.8 0 1 0 -3.60 0M317.5 316.4a1.8 1.8 0 1 0 3.60 0a1.8 1.8 0 1 0 -3.60 0M324.7 316.4a1.8 1.8 0 1 0 3.60 0a1.8 1.8 0 1 0 -3.60 0M350.1 275.0a1.8 1.8 0 1 0 3.60 0a1.8 1.8 0 1 0 -3.60 0M359.7 282.3a1.8 1.8 0 1 0 3.60 0a1.8 1.8 0 1 0 -3.60 0M365.1 299.2a1.8 1.8 0 1 0 3.60 0a1.8 1.8 0 1 0 -3.60 0M352.6 303.5a1.8 1.8 0 1 0 3.60 0a1.8 1.8 0 1 0 -3.60 0M366.7 309.2a1.8 1.8 0 1 0 3.60 0a1.8 1.8 0 1 0 -3.60 0M368.0 310.8a1.8 1.8 0 1 0 3.60 0a1.8 1.8 0 1 0 -3.60 0M369.4 312.1a1.8 1.8 0 1 0 3.60 0a1.8 1.8 0 1 0 -3.60 0M370.5 314.0a1.8 1.8 0 1 0 3.60 0a1.8 1.8 0 1 0 -3.60 0M371.9 316.0a1.8 1.8 0 1 0 3.60 0a1.8 1.8 0 1 0 -3.60 0M372.8 318.5a1.8 1.8 0 1 0 3.60 0a1.8 1.8 0 1 0 -3.60 0M425.7 320.8a1.8 1.8 0 1 0 3.60 0a1.8 1.8 0 1 0 -3.60 0M428.2 316.9a1.8 1.8 0 1 0 3.60 0a1.8 1.8 0 1 0 -3.60 0M429.3 318.0a1.8 1.8 0 1 0 3.60 0a1.8 1.8 0 1 0 -3.60 0M430.5 319.2a1.8 1.8 0 1 0 3.60 0a1.8 1.8 0 1 0 -3.60 0M431.7 308.9a1.8 1.8 0 1 0 3.60 0a1.8 1.8 0 1 0 -3.60 0M434.0 301.9a1.8 1.8 0 1 0 3.60 0a1.8 1.8 0 1 0 -3.60 0M436.3 298.5a1.8 1.8 0 1 0 3.60 0a1.8 1.8 0 1 0 -3.60 0M439.3 293.4a1.8 1.8 0 1 0 3.60 0a1.8 1.8 0 1 0 -3.60 0M440.7 292.7a1.8 1.8 0 1 0 3.60 0a1.8 1.8 0 1 0 -3.60 0M442.0 292.0a1.8 1.8 0 1 0 3.60 0a1.8 1.8 0 1 0 -3.60 0M443.8 292.4a1.8 1.8 0 1 0 3.60 0a1.8 1.8 0 1 0 -3.60 0M445.5 292.7a1.8 1.8 0 1 0 3.60 0a1.8 1.8 0 1 0 -3.60 0M447.2 293.0a1.8 1.8 0 1 0 3.60 0a1.8 1.8 0 1 0 -3.60 0M449.0 293.4a1.8 1.8 0 1 0 3.60 0a1.8 1.8 0 1 0 -3.60 0M450.7 294.2a1.8 1.8 0 1 0 3.60 0a1.8 1.8 0 1 0 -3.60 0M452.4 295.0a1.8 1.8 0 1 0 3.60 0a1.8 1.8 0 1 0 -3.60 0M454.1 295.6a1.8 1.8 0 1 0 3.60 0a1.8 1.8 0 1 0 -3.60 0M455.9 296.2a1.8 1.8 0 1 0 3.60 0a1.8 1.8 0 1 0 -3.60 0M458.7 295.7a1.8 1.8 0 1 0 3.60 0a1.8 1.8 0 1 0 -3.60 0M460.2 296.5a1.8 1.8 0 1 0 3.60 0a1.8 1.8 0 1 0 -3.60 0M461.7 297.3a1.8 1.8 0 1 0 3.60 0a1.8 1.8 0 1 0 -3.60 0M463.4 297.9a1.8 1.8 0 1 0 3.60 0a1.8 1.8 0 1 0 -3.60 0M465.1 298.5a1.8 1.8 0 1 0 3.60 0a1.8 1.8 0 1 0 -3.60 0M466.8 298.7a1.8 1.8 0 1 0 3.60 0a1.8 1.8 0 1 0 -3.60 0M468.6 298.9a1.8 1.8 0 1 0 3.60 0a1.8 1.8 0 1 0 -3.60 0M470.3 299.2a1.8 1.8 0 1 0 3.60 0a1.8 1.8 0 1 0 -3.60 0M472.1 299.6a1.8 1.8 0 1 0 3.60 0a1.8 1.8 0 1 0 -3.60 0M473.8 300.2a1.8 1.8 0 1 0 3.60 0a1.8 1.8 0 1 0 -3.60 0M475.5 300.8a1.8 1.8 0 1 0 3.60 0a1.8 1.8 0 1 0 -3.60 0M476.7 302.0a1.8 1.8 0 1 0 3.60 0a1.8 1.8 0 1 0 -3.60 0M477.8 303.1a1.8 1.8 0 1 0 3.60 0a1.8 1.8 0 1 0 -3.60 0M479.6 303.3a1.8 1.8 0 1 0 3.60 0a1.8 1.8 0 1 0 -3.60 0M481.3 303.5a1.8 1.8 0 1 0 3.60 0a1.8 1.8 0 1 0 -3.60 0M483.0 303.9a1.8 1.8 0 1 0 3.60 0a1.8 1.8 0 1 0 -3.60 0M484.7 304.2a1.8 1.8 0 1 0 3.60 0a1.8 1.8 0 1 0 -3.60 0M485.8 305.4a1.8 1.8 0 1 0 3.60 0a1.8 1.8 0 1 0 -3.60 0M487.0 306.5a1.8 1.8 0 1 0 3.60 0a1.8 1.8 0 1 0 -3.60 0M488.8 307.1a1.8 1.8 0 1 0 3.60 0a1.8 1.8 0 1 0 -3.60 0M490.5 307.7a1.8 1.8 0 1 0 3.60 0a1.8 1.8 0 1 0 -3.60 0M491.9 308.3a1.8 1.8 0 1 0 3.60 0a1.8 1.8 0 1 0 -3.60 0M493.3 308.9a1.8 1.8 0 1 0 3.60 0a1.8 1.8 0 1 0 -3.60 0M494.8 309.2a1.8 1.8 0 1 0 3.60 0a1.8 1.8 0 1 0 -3.60 0M496.3 309.5a1.8 1.8 0 1 0 3.60 0a1.8 1.8 0 1 0 -3.60 0M150.4 221.8a1.8 1.8 0 1 0 3.60 0a1.8 1.8 0 1 0 -3.60 0M93.9 268.9a1.8 1.8 0 1 0 3.60 0a1.8 1.8 0 1 0 -3.60 0M104.2 261.7a1.8 1.8 0 1 0 3.60 0a1.8 1.8 0 1 0 -3.60 0M107.7 270.1a1.8 1.8 0 1 0 3.60 0a1.8 1.8 0 1 0 -3.60 0M117.6 267.7a1.8 1.8 0 1 0 3.60 0a1.8 1.8 0 1 0 -3.60 0M119.1 266.1a1.8 1.8 0 1 0 3.60 0a1.8 1.8 0 1 0 -3.60 0M120.7 265.3a1.8 1.8 0 1 0 3.60 0a1.8 1.8 0 1 0 -3.60 0M123.0 266.1a1.8 1.8 0 1 0 3.60 0a1.8 1.8 0 1 0 -3.60 0M125.2 265.3a1.8 1.8 0 1 0 3.60 0a1.8 1.8 0 1 0 -3.60 0M128.3 255.4a1.8 1.8 0 1 0 3.60 0a1.8 1.8 0 1 0 -3.60 0M129.0 261.0a1.8 1.8 0 1 0 3.60 0a1.8 1.8 0 1 0 -3.60 0M130.0 259.8a1.8 1.8 0 1 0 3.60 0a1.8 1.8 0 1 0 -3.60 0M130.9 258.5a1.8 1.8 0 1 0 3.60 0a1.8 1.8 0 1 0 -3.60 0M132.4 258.1a1.8 1.8 0 1 0 3.60 0a1.8 1.8 0 1 0 -3.60 0M134.4 256.3a1.8 1.8 0 1 0 3.60 0a1.8 1.8 0 1 0 -3.60 0M135.9 253.8a1.8 1.8 0 1 0 3.60 0a1.8 1.8 0 1 0 -3.60 0M136.9 247.9a1.8 1.8 0 1 0 3.60 0a1.8 1.8 0 1 0 -3.60 0M138.9 248.4a1.8 1.8 0 1 0 3.60 0a1.8 1.8 0 1 0 -3.60 0M140.0 246.8a1.8 1.8 0 1 0 3.60 0a1.8 1.8 0 1 0 -3.60 0M142.0 246.3a1.8 1.8 0 1 0 3.60 0a1.8 1.8 0 1 0 -3.60 0M144.0 245.6a1.8 1.8 0 1 0 3.60 0a1.8 1.8 0 1 0 -3.60 0M145.5 244.7a1.8 1.8 0 1 0 3.60 0a1.8 1.8 0 1 0 -3.60 0M146.4 243.4a1.8 1.8 0 1 0 3.60 0a1.8 1.8 0 1 0 -3.60 0M147.3 242.0a1.8 1.8 0 1 0 3.60 0a1.8 1.8 0 1 0 -3.60 0M149.2 240.8a1.8 1.8 0 1 0 3.60 0a1.8 1.8 0 1 0 -3.60 0M151.2 240.0a1.8 1.8 0 1 0 3.60 0a1.8 1.8 0 1 0 -3.60 0M153.5 239.5a1.8 1.8 0 1 0 3.60 0a1.8 1.8 0 1 0 -3.60 0M155.8 239.2a1.8 1.8 0 1 0 3.60 0a1.8 1.8 0 1 0 -3.60 0M157.7 238.9a1.8 1.8 0 1 0 3.60 0a1.8 1.8 0 1 0 -3.60 0M159.6 239.2a1.8 1.8 0 1 0 3.60 0a1.8 1.8 0 1 0 -3.60 0M164.9 263.7a1.8 1.8 0 1 0 3.60 0a1.8 1.8 0 1 0 -3.60 0M167.1 238.4a1.8 1.8 0 1 0 3.60 0a1.8 1.8 0 1 0 -3.60 0M169.1 241.6a1.8 1.8 0 1 0 3.60 0a1.8 1.8 0 1 0 -3.60 0M177.8 236.3a1.8 1.8 0 1 0 3.60 0a1.8 1.8 0 1 0 -3.60 0M179.3 235.7a1.8 1.8 0 1 0 3.60 0a1.8 1.8 0 1 0 -3.60 0M180.9 234.9a1.8 1.8 0 1 0 3.60 0a1.8 1.8 0 1 0 -3.60 0M182.4 234.1a1.8 1.8 0 1 0 3.60 0a1.8 1.8 0 1 0 -3.60 0M187.8 231.3a1.8 1.8 0 1 0 3.60 0a1.8 1.8 0 1 0 -3.60 0M189.7 230.0a1.8 1.8 0 1 0 3.60 0a1.8 1.8 0 1 0 -3.60 0M192.4 230.5a1.8 1.8 0 1 0 3.60 0a1.8 1.8 0 1 0 -3.60 0M193.9 230.0a1.8 1.8 0 1 0 3.60 0a1.8 1.8 0 1 0 -3.60 0M196.2 231.0a1.8 1.8 0 1 0 3.60 0a1.8 1.8 0 1 0 -3.60 0M198.5 234.8a1.8 1.8 0 1 0 3.60 0a1.8 1.8 0 1 0 -3.60 0M201.0 241.1a1.8 1.8 0 1 0 3.60 0a1.8 1.8 0 1 0 -3.60 0M196.9 250.6a1.8 1.8 0 1 0 3.60 0a1.8 1.8 0 1 0 -3.60 0M210.7 231.0a1.8 1.8 0 1 0 3.60 0a1.8 1.8 0 1 0 -3.60 0M212.7 232.0a1.8 1.8 0 1 0 3.60 0a1.8 1.8 0 1 0 -3.60 0M214.7 225.7a1.8 1.8 0 1 0 3.60 0a1.8 1.8 0 1 0 -3.60 0M216.3 219.4a1.8 1.8 0 1 0 3.60 0a1.8 1.8 0 1 0 -3.60 0M220.3 222.3a1.8 1.8 0 1 0 3.60 0a1.8 1.8 0 1 0 -3.60 0M217.8 232.0a1.8 1.8 0 1 0 3.60 0a1.8 1.8 0 1 0 -3.60 0M222.8 233.6a1.8 1.8 0 1 0 3.60 0a1.8 1.8 0 1 0 -3.60 0M224.4 233.2a1.8 1.8 0 1 0 3.60 0a1.8 1.8 0 1 0 -3.60 0M225.5 232.0a1.8 1.8 0 1 0 3.60 0a1.8 1.8 0 1 0 -3.60 0M226.7 234.1a1.8 1.8 0 1 0 3.60 0a1.8 1.8 0 1 0 -3.60 0M229.7 265.3a1.8 1.8 0 1 0 3.60 0a1.8 1.8 0 1 0 -3.60 0M93.4 297.2a1.8 1.8 0 1 0 3.60 0a1.8 1.8 0 1 0 -3.60 0M96.2 283.0a1.8 1.8 0 1 0 3.60 0a1.8 1.8 0 1 0 -3.60 0M97.3 290.5a1.8 1.8 0 1 0 3.60 0a1.8 1.8 0 1 0 -3.60 0M100.0 277.8a1.8 1.8 0 1 0 3.60 0a1.8 1.8 0 1 0 -3.60 0M101.9 282.6a1.8 1.8 0 1 0 3.60 0a1.8 1.8 0 1 0 -3.60 0M102.2 286.2a1.8 1.8 0 1 0 3.60 0a1.8 1.8 0 1 0 -3.60 0M106.1 274.6a1.8 1.8 0 1 0 3.60 0a1.8 1.8 0 1 0 -3.60 0M107.7 273.2a1.8 1.8 0 1 0 3.60 0a1.8 1.8 0 1 0 -3.60 0M109.2 271.8a1.8 1.8 0 1 0 3.60 0a1.8 1.8 0 1 0 -3.60 0M111.1 277.0a1.8 1.8 0 1 0 3.60 0a1.8 1.8 0 1 0 -3.60 0M112.3 276.3a1.8 1.8 0 1 0 3.60 0a1.8 1.8 0 1 0 -3.60 0M113.8 275.4a1.8 1.8 0 1 0 3.60 0a1.8 1.8 0 1 0 -3.60 0M114.9 274.1a1.8 1.8 0 1 0 3.60 0a1.8 1.8 0 1 0 -3.60 0M116.1 272.7a1.8 1.8 0 1 0 3.60 0a1.8 1.8 0 1 0 -3.60 0M162.7 276.6a1.8 1.8 0 1 0 3.60 0a1.8 1.8 0 1 0 -3.60 0M163.9 277.5a1.8 1.8 0 1 0 3.60 0a1.8 1.8 0 1 0 -3.60 0M160.7 311.1a1.8 1.8 0 1 0 3.60 0a1.8 1.8 0 1 0 -3.60 0M175.1 276.6a1.8 1.8 0 1 0 3.60 0a1.8 1.8 0 1 0 -3.60 0M202.6 275.8a1.8 1.8 0 1 0 3.60 0a1.8 1.8 0 1 0 -3.60 0M208.4 287.0a1.8 1.8 0 1 0 3.60 0a1.8 1.8 0 1 0 -3.60 0M207.6 297.6a1.8 1.8 0 1 0 3.60 0a1.8 1.8 0 1 0 -3.60 0M203.8 300.3a1.8 1.8 0 1 0 3.60 0a1.8 1.8 0 1 0 -3.60 0M171.0 302.0a1.8 1.8 0 1 0 3.60 0a1.8 1.8 0 1 0 -3.60 0M172.5 302.7a1.8 1.8 0 1 0 3.60 0a1.8 1.8 0 1 0 -3.60 0M174.0 303.4a1.8 1.8 0 1 0 3.60 0a1.8 1.8 0 1 0 -3.60 0M173.0 315.0a1.8 1.8 0 1 0 3.60 0a1.8 1.8 0 1 0 -3.60 0M186.7 318.7a1.8 1.8 0 1 0 3.60 0a1.8 1.8 0 1 0 -3.60 0M184.7 322.5a1.8 1.8 0 1 0 3.60 0a1.8 1.8 0 1 0 -3.60 0M205.6 317.1a1.8 1.8 0 1 0 3.60 0a1.8 1.8 0 1 0 -3.60 0M234.0 309.0a1.8 1.8 0 1 0 3.60 0a1.8 1.8 0 1 0 -3.60 0M230.9 316.6a1.8 1.8 0 1 0 3.60 0a1.8 1.8 0 1 0 -3.60 0M235.9 315.0a1.8 1.8 0 1 0 3.60 0a1.8 1.8 0 1 0 -3.60 0M237.0 318.7a1.8 1.8 0 1 0 3.60 0a1.8 1.8 0 1 0 -3.60 0M232.0 322.9a1.8 1.8 0 1 0 3.60 0a1.8 1.8 0 1 0 -3.60 0"/>
<path fill="#e00000" d="M242.0 322.9a1.5 1.5 0 1 0 3.00 0a1.5 1.5 0 1 0 -3.00 0M243.3 322.9a1.5 1.5 0 1 0 3.00 0a1.5 1.5 0 1 0 -3.00 0M244.6 322.9a1.5 1.5 0 1 0 3.00 0a1.5 1.5 0 1 0 -3.00 0M245.9 322.9a1.5 1.5 0 1 0 3.00 0a1.5 1.5 0 1 0 -3.00 0M247.2 322.9a1.5 1.5 0 1 0 3.00 0a1.5 1.5 0 1 0 -3.00 0M248.4 322.9a1.5 1.5 0 1 0 3.00 0a1.5 1.5 0 1 0 -3.00 0M249.7 322.9a1.5 1.5 0 1 0 3.00 0a1.5 1.5 0 1 0 -3.00 0M251.0 322.9a1.5 1.5 0 1 0 3.00 0a1.5 1.5 0 1 0 -3.00 0M252.3 322.9a1.5 1.5 0 1 0 3.00 0a1.5 1.5 0 1 0 -3.00 0M300.8 322.9a1.5 1.5 0 1 0 3.00 0a1.5 1.5 0 1 0 -3.00 0M302.1 322.9a1.5 1.5 0 1 0 3.00 0a1.5 1.5 0 1 0 -3.00 0M303.5 322.9a1.5 1.5 0 1 0 3.00 0a1.5 1.5 0 1 0 -3.00 0M304.8 322.9a1.5 1.5 0 1 0 3.00 0a1.5 1.5 0 1 0 -3.00 0M306.1 322.9a1.5 1.5 0 1 0 3.00 0a1.5 1.5 0 1 0 -3.00 0M307.5 322.9a1.5 1.5 0 1 0 3.00 0a1.5 1.5 0 1 0 -3.00 0M308.8 322.9a1.5 1.5 0 1 0 3.00 0a1.5 1.5 0 1 0 -3.00 0M310.1 322.9a1.5 1.5 0 1 0 3.00 0a1.5 1.5 0 1 0 -3.00 0M311.4 322.9a1.5 1.5 0 1 0 3.00 0a1.5 1.5 0 1 0 -3.00 0M312.8 322.9a1.5 1.5 0 1 0 3.00 0a1.5 1.5 0 1 0 -3.00 0M314.1 322.9a1.5 1.5 0 1 0 3.00 0a1.5 1.5 0 1 0 -3.00 0M315.4 322.9a1.5 1.5 0 1 0 3.00 0a1.5 1.5 0 1 0 -3.00 0M316.8 322.9a1.5 1.5 0 1 0 3.00 0a1.5 1.5 0 1 0 -3.00 0M318.1 322.9a1.5 1.5 0 1 0 3.00 0a1.5 1.5 0 1 0 -3.00 0M372.2 323.1a1.5 1.5 0 1 0 3.00 0a1.5 1.5 0 1 0 -3.00 0M373.5 323.1a1.5 1.5 0 1 0 3.00 0a1.5 1.5 0 1 0 -3.00 0M374.8 323.1a1.5 1.5 0 1 0 3.00 0a1.5 1.5 0 1 0 -3.00 0M376.1 323.1a1.5 1.5 0 1 0 3.00 0a1.5 1.5 0 1 0 -3.00 0M377.4 323.1a1.5 1.5 0 1 0 3.00 0a1.5 1.5 0 1 0 -3.00 0M378.7 323.1a1.5 1.5 0 1 0 3.00 0a1.5 1.5 0 1 0 -3.00 0M380.0 323.1a1.5 1.5 0 1 0 3.00 0a1.5 1.5 0 1 0 -3.00 0M381.2 323.1a1.5 1.5 0 1 0 3.00 0a1.5 1.5 0 1 0 -3.00 0M382.5 323.1a1.5 1.5 0 1 0 3.00 0a1.5 1.5 0 1 0 -3.00 0M383.8 323.1a1.5 1.5 0 1 0 3.00 0a1.5 1.5 0 1 0 -3.00 0M385.1 323.1a1.5 1.5 0 1 0 3.00 0a1.5 1.5 0 1 0 -3.00 0M386.4 323.1a1.5 1.5 0 1 0 3.00 0a1.5 1.5 0 1 0 -3.00 0M387.7 323.1a1.5 1.5 0 1 0 3.00 0a1.5 1.5 0 1 0 -3.00 0M389.0 323.1a1.5 1.5 0 1 0 3.00 0a1.5 1.5 0 1 0 -3.00 0M390.3 323.1a1.5 1.5 0 1 0 3.00 0a1.5 1.5 0 1 0 -3.00 0M391.6 323.1a1.5 1.5 0 1 0 3.00 0a1.5 1.5 0 1 0 -3.00 0M392.9 323.1a1.5 1.5 0 1 0 3.00 0a1.5 1.5 0 1 0 -3.00 0M394.2 323.1a1.5 1.5 0 1 0 3.00 0a1.5 1.5 0 1 0 -3.00 0M395.5 323.1a1.5 1.5 0 1 0 3.00 0a1.5 1.5 0 1 0 -3.00 0M396.8 323.1a1.5 1.5 0 1 0 3.00 0a1.5 1.5 0 1 0 -3.00 0M398.1 323.1a1.5 1.5 0 1 0 3.00 0a1.5 1.5 0 1 0 -3.00 0M399.4 323.1a1.5 1.5 0 1 0 3.00 0a1.5 1.5 0 1 0 -3.00 0M400.6 323.1a1.5 1.5 0 1 0 3.00 0a1.5 1.5 0 1 0 -3.00 0M401.9 323.1a1.5 1.5 0 1 0 3.00 0a1.5 1.5 0 1 0 -3.00 0M403.2 323.1a1.5 1.5 0 1 0 3.00 0a1.5 1.5 0 1 0 -3.00 0M404.5 323.1a1.5 1.5 0 1 0 3.00 0a1.5 1.5 0 1 0 -3.00 0M405.8 323.1a1.5 1.5 0 1 0 3.00 0a1.5 1.5 0 1 0 -3.00 0M407.1 323.1a1.5 1.5 0 1 0 3.00 0a1.5 1.5 0 1 0 -3.00 0M408.4 323.1a1.5 1.5 0 1 0 3.00 0a1.5 1.5 0 1 0 -3.00 0M409.7 323.1a1.5 1.5 0 1 0 3.00 0a1.5 1.5 0 1 0 -3.00 0M411.0 323.1a1.5 1.5 0 1 0 3.00 0a1.5 1.5 0 1 0 -3.00 0M412.3 323.1a1.5 1.5 0 1 0 3.00 0a1.5 1.5 0 1 0 -3.00 0M413.6 323.1a1.5 1.5 0 1 0 3.00 0a1.5 1.5 0 1 0 -3.00 0M414.9 323.1a1.5 1.5 0 1 0 3.00 0a1.5 1.5 0 1 0 -3.00 0M416.2 323.1a1.5 1.5 0 1 0 3.00 0a1.5 1.5 0 1 0 -3.00 0M417.4 323.1a1.5 1.5 0 1 0 3.00 0a1.5 1.5 0 1 0 -3.00 0M418.7 323.1a1.5 1.5 0 1 0 3.00 0a1.5 1.5 0 1 0 -3.00 0M420.0 323.1a1.5 1.5 0 1 0 3.00 0a1.5 1.5 0 1 0 -3.00 0M421.3 323.1a1.5 1.5 0 1 0 3.00 0a1.5 1.5 0 1 0 -3.00 0M422.6 323.1a1.5 1.5 0 1 0 3.00 0a1.5 1.5 0 1 0 -3.00 0M423.9 323.1a1.5 1.5 0 1 0 3.00 0a1.5 1.5 0 1 0 -3.00 0M425.2 323.1a1.5 1.5 0 1 0 3.00 0a1.5 1.5 0 1 0 -3.00 0M426.5 323.1a1.5 1.5 0 1 0 3.00 0a1.5 1.5 0 1 0 -3.00 0"/>
<rect x="88.5" y="214.1" width="156.70" height="114.20" stroke="#606060" stroke-width="1.2" stroke-dasharray="4.6 3.1" fill="none"/>
<path d="M88.5 214.1L314.5 14.5M245.2 328.3L512.4 153.3" stroke="#606060" stroke-width="1.2" stroke-dasharray="4.6 3.1" fill="none"/>
<polygon points="130.00,169.65 130.88,172.04 133.42,172.14 131.43,173.71 132.12,176.16 130.00,174.75 127.88,176.16 128.57,173.71 126.58,172.14 129.12,172.04" fill="#e00000"/>
<polygon points="152.50,162.15 153.38,164.54 155.92,164.64 153.93,166.21 154.62,168.66 152.50,167.25 150.38,168.66 151.07,166.21 149.08,164.64 151.62,164.54" fill="#e00000"/>
<polygon points="218.00,196.90 218.88,199.29 221.42,199.39 219.43,200.96 220.12,203.41 218.00,202.00 215.88,203.41 216.57,200.96 214.58,199.39 217.12,199.29" fill="#e00000"/>
<path d="M279.60 49.50L290.20 49.50M276.84 59.80L286.02 65.10M269.30 67.34L274.60 76.52M259.00 70.10L259.00 80.70M248.70 67.34L243.40 76.52M241.16 59.80L231.98 65.10M238.40 49.50L227.80 49.50M241.16 39.20L231.98 33.90M248.70 31.66L243.40 22.48M259.00 28.90L259.00 18.30M269.30 31.66L274.60 22.48M276.84 39.20L286.02 33.90" stroke="#e65c26" stroke-width="2.3" fill="none"/>
<circle cx="259.0" cy="49.5" r="15.1" fill="#ffe800" stroke="#e0780a" stroke-width="1"/>
<rect x="89.8" y="23.0" width="10.50" height="17.60" fill="#fff"/>
<rect x="102.7" y="23.0" width="8.50" height="16.20" fill="#fff"/>
<rect x="125.3" y="23.2" width="9.60" height="17.60" fill="#fff"/>
<rect x="147.3" y="23.2" width="10.30" height="17.60" fill="#fff"/>
<rect x="212.0" y="22.4" width="11.40" height="28.60" fill="#fff"/>
<rect x="365.3" y="173.2" width="10.70" height="44.20" fill="#fff"/>
<rect x="442.6" y="173.2" width="11.60" height="44.20" fill="#fff"/>
<text transform="translate(98.9 24.0) rotate(-90)" text-anchor="end" style="font-family:'Liberation Sans',Arial,sans-serif;font-size:13px;stroke:#000;stroke-width:0.3px">Hβ</text>
<text transform="translate(110.4 24.0) rotate(-90)" text-anchor="end" style="font-family:'Liberation Sans',Arial,sans-serif;font-size:13px;stroke:#000;stroke-width:0.3px">Fe</text>
<text transform="translate(134.3 24.2) rotate(-90)" text-anchor="end" style="font-family:'Liberation Sans',Arial,sans-serif;font-size:13px;stroke:#000;stroke-width:0.3px">Na</text>
<text transform="translate(157.0 24.2) rotate(-90)" text-anchor="end" style="font-family:'Liberation Sans',Arial,sans-serif;font-size:13px;stroke:#000;stroke-width:0.3px">Hα</text>
<text transform="translate(221.8 23.2) rotate(-90)" text-anchor="end" style="font-family:'Liberation Sans',Arial,sans-serif;font-size:13px;stroke:#000;stroke-width:0.3px">Ca II</text>
<text transform="translate(374.6 174.0) rotate(-90)" text-anchor="end" style="font-family:'Liberation Sans',Arial,sans-serif;font-size:13px;stroke:#000;stroke-width:0.3px">O-band</text>
<text transform="translate(452.8 174.0) rotate(-90)" text-anchor="end" style="font-family:'Liberation Sans',Arial,sans-serif;font-size:13px;stroke:#000;stroke-width:0.3px">C-band</text>
<rect x="314.5" y="14.5" width="197.90" height="138.80" fill="#fff"/>
<path fill="#007800" d="M320.8 146.5a1.85 1.85 0 1 0 3.70 0a1.85 1.85 0 1 0 -3.70 0M321.5 145.2a1.85 1.85 0 1 0 3.70 0a1.85 1.85 0 1 0 -3.70 0M322.1 144.0a1.85 1.85 0 1 0 3.70 0a1.85 1.85 0 1 0 -3.70 0M322.9 145.2a1.85 1.85 0 1 0 3.70 0a1.85 1.85 0 1 0 -3.70 0M323.6 146.5a1.85 1.85 0 1 0 3.70 0a1.85 1.85 0 1 0 -3.70 0M325.1 146.5a1.85 1.85 0 1 0 3.70 0a1.85 1.85 0 1 0 -3.70 0M326.5 146.5a1.85 1.85 0 1 0 3.70 0a1.85 1.85 0 1 0 -3.70 0M328.0 146.7a1.85 1.85 0 1 0 3.70 0a1.85 1.85 0 1 0 -3.70 0M329.4 146.9a1.85 1.85 0 1 0 3.70 0a1.85 1.85 0 1 0 -3.70 0M330.7 146.9a1.85 1.85 0 1 0 3.70 0a1.85 1.85 0 1 0 -3.70 0M331.9 146.9a1.85 1.85 0 1 0 3.70 0a1.85 1.85 0 1 0 -3.70 0M334.6 140.7a1.85 1.85 0 1 0 3.70 0a1.85 1.85 0 1 0 -3.70 0M337.1 145.9a1.85 1.85 0 1 0 3.70 0a1.85 1.85 0 1 0 -3.70 0M338.1 145.2a1.85 1.85 0 1 0 3.70 0a1.85 1.85 0 1 0 -3.70 0M339.0 144.6a1.85 1.85 0 1 0 3.70 0a1.85 1.85 0 1 0 -3.70 0M340.2 144.9a1.85 1.85 0 1 0 3.70 0a1.85 1.85 0 1 0 -3.70 0M341.3 145.2a1.85 1.85 0 1 0 3.70 0a1.85 1.85 0 1 0 -3.70 0M342.6 145.3a1.85 1.85 0 1 0 3.70 0a1.85 1.85 0 1 0 -3.70 0M343.8 145.5a1.85 1.85 0 1 0 3.70 0a1.85 1.85 0 1 0 -3.70 0M345.1 145.3a1.85 1.85 0 1 0 3.70 0a1.85 1.85 0 1 0 -3.70 0M346.3 145.2a1.85 1.85 0 1 0 3.70 0a1.85 1.85 0 1 0 -3.70 0M347.5 144.4a1.85 1.85 0 1 0 3.70 0a1.85 1.85 0 1 0 -3.70 0M348.6 143.6a1.85 1.85 0 1 0 3.70 0a1.85 1.85 0 1 0 -3.70 0M349.9 143.1a1.85 1.85 0 1 0 3.70 0a1.85 1.85 0 1 0 -3.70 0M351.1 142.7a1.85 1.85 0 1 0 3.70 0a1.85 1.85 0 1 0 -3.70 0M352.3 142.2a1.85 1.85 0 1 0 3.70 0a1.85 1.85 0 1 0 -3.70 0M353.4 141.7a1.85 1.85 0 1 0 3.70 0a1.85 1.85 0 1 0 -3.70 0M354.7 141.4a1.85 1.85 0 1 0 3.70 0a1.85 1.85 0 1 0 -3.70 0M355.9 141.1a1.85 1.85 0 1 0 3.70 0a1.85 1.85 0 1 0 -3.70 0M357.1 141.4a1.85 1.85 0 1 0 3.70 0a1.85 1.85 0 1 0 -3.70 0M358.3 141.7a1.85 1.85 0 1 0 3.70 0a1.85 1.85 0 1 0 -3.70 0M359.5 141.7a1.85 1.85 0 1 0 3.70 0a1.85 1.85 0 1 0 -3.70 0M360.6 141.7a1.85 1.85 0 1 0 3.70 0a1.85 1.85 0 1 0 -3.70 0M361.6 141.2a1.85 1.85 0 1 0 3.70 0a1.85 1.85 0 1 0 -3.70 0M362.5 140.7a1.85 1.85 0 1 0 3.70 0a1.85 1.85 0 1 0 -3.70 0M364.4 135.0a1.85 1.85 0 1 0 3.70 0a1.85 1.85 0 1 0 -3.70 0M365.9 139.4a1.85 1.85 0 1 0 3.70 0a1.85 1.85 0 1 0 -3.70 0M367.1 138.8a1.85 1.85 0 1 0 3.70 0a1.85 1.85 0 1 0 -3.70 0M368.3 138.2a1.85 1.85 0 1 0 3.70 0a1.85 1.85 0 1 0 -3.70 0M369.6 137.8a1.85 1.85 0 1 0 3.70 0a1.85 1.85 0 1 0 -3.70 0M370.8 137.5a1.85 1.85 0 1 0 3.70 0a1.85 1.85 0 1 0 -3.70 0M372.1 136.9a1.85 1.85 0 1 0 3.70 0a1.85 1.85 0 1 0 -3.70 0M373.3 136.3a1.85 1.85 0 1 0 3.70 0a1.85 1.85 0 1 0 -3.70 0M375.6 131.1a1.85 1.85 0 1 0 3.70 0a1.85 1.85 0 1 0 -3.70 0M376.8 130.8a1.85 1.85 0 1 0 3.70 0a1.85 1.85 0 1 0 -3.70 0M377.9 130.5a1.85 1.85 0 1 0 3.70 0a1.85 1.85 0 1 0 -3.70 0M378.9 131.1a1.85 1.85 0 1 0 3.70 0a1.85 1.85 0 1 0 -3.70 0M379.8 131.7a1.85 1.85 0 1 0 3.70 0a1.85 1.85 0 1 0 -3.70 0M380.8 130.8a1.85 1.85 0 1 0 3.70 0a1.85 1.85 0 1 0 -3.70 0M381.8 129.8a1.85 1.85 0 1 0 3.70 0a1.85 1.85 0 1 0 -3.70 0M383.0 129.5a1.85 1.85 0 1 0 3.70 0a1.85 1.85 0 1 0 -3.70 0M384.2 129.2a1.85 1.85 0 1 0 3.70 0a1.85 1.85 0 1 0 -3.70 0M386.1 128.6a1.85 1.85 0 1 0 3.70 0a1.85 1.85 0 1 0 -3.70 0M387.1 127.9a1.85 1.85 0 1 0 3.70 0a1.85 1.85 0 1 0 -3.70 0M388.1 127.3a1.85 1.85 0 1 0 3.70 0a1.85 1.85 0 1 0 -3.70 0M389.4 127.0a1.85 1.85 0 1 0 3.70 0a1.85 1.85 0 1 0 -3.70 0M390.6 126.7a1.85 1.85 0 1 0 3.70 0a1.85 1.85 0 1 0 -3.70 0M391.8 126.0a1.85 1.85 0 1 0 3.70 0a1.85 1.85 0 1 0 -3.70 0M392.9 125.3a1.85 1.85 0 1 0 3.70 0a1.85 1.85 0 1 0 -3.70 0M394.1 125.0a1.85 1.85 0 1 0 3.70 0a1.85 1.85 0 1 0 -3.70 0M395.2 124.8a1.85 1.85 0 1 0 3.70 0a1.85 1.85 0 1 0 -3.70 0M396.5 124.8a1.85 1.85 0 1 0 3.70 0a1.85 1.85 0 1 0 -3.70 0M397.8 124.8a1.85 1.85 0 1 0 3.70 0a1.85 1.85 0 1 0 -3.70 0M399.0 124.6a1.85 1.85 0 1 0 3.70 0a1.85 1.85 0 1 0 -3.70 0M400.2 124.4a1.85 1.85 0 1 0 3.70 0a1.85 1.85 0 1 0 -3.70 0M401.4 124.2a1.85 1.85 0 1 0 3.70 0a1.85 1.85 0 1 0 -3.70 0M402.5 124.0a1.85 1.85 0 1 0 3.70 0a1.85 1.85 0 1 0 -3.70 0M404.4 123.8a1.85 1.85 0 1 0 3.70 0a1.85 1.85 0 1 0 -3.70 0M392.9 111.5a1.85 1.85 0 1 0 3.70 0a1.85 1.85 0 1 0 -3.70 0M406.3 146.1a1.85 1.85 0 1 0 3.70 0a1.85 1.85 0 1 0 -3.70 0M409.2 136.9a1.85 1.85 0 1 0 3.70 0a1.85 1.85 0 1 0 -3.70 0M411.1 130.7a1.85 1.85 0 1 0 3.70 0a1.85 1.85 0 1 0 -3.70 0M410.1 136.9a1.85 1.85 0 1 0 3.70 0a1.85 1.85 0 1 0 -3.70 0M414.3 120.2a1.85 1.85 0 1 0 3.70 0a1.85 1.85 0 1 0 -3.70 0M415.6 120.7a1.85 1.85 0 1 0 3.70 0a1.85 1.85 0 1 0 -3.70 0M416.8 121.1a1.85 1.85 0 1 0 3.70 0a1.85 1.85 0 1 0 -3.70 0M418.8 142.7a1.85 1.85 0 1 0 3.70 0a1.85 1.85 0 1 0 -3.70 0M421.3 146.5a1.85 1.85 0 1 0 3.70 0a1.85 1.85 0 1 0 -3.70 0M423.2 142.7a1.85 1.85 0 1 0 3.70 0a1.85 1.85 0 1 0 -3.70 0M423.9 133.0a1.85 1.85 0 1 0 3.70 0a1.85 1.85 0 1 0 -3.70 0M427.4 116.3a1.85 1.85 0 1 0 3.70 0a1.85 1.85 0 1 0 -3.70 0M429.3 115.7a1.85 1.85 0 1 0 3.70 0a1.85 1.85 0 1 0 -3.70 0M431.3 115.2a1.85 1.85 0 1 0 3.70 0a1.85 1.85 0 1 0 -3.70 0M432.8 114.4a1.85 1.85 0 1 0 3.70 0a1.85 1.85 0 1 0 -3.70 0M439.9 112.5a1.85 1.85 0 1 0 3.70 0a1.85 1.85 0 1 0 -3.70 0M441.2 112.2a1.85 1.85 0 1 0 3.70 0a1.85 1.85 0 1 0 -3.70 0M442.4 111.9a1.85 1.85 0 1 0 3.70 0a1.85 1.85 0 1 0 -3.70 0M443.6 111.7a1.85 1.85 0 1 0 3.70 0a1.85 1.85 0 1 0 -3.70 0M444.8 111.5a1.85 1.85 0 1 0 3.70 0a1.85 1.85 0 1 0 -3.70 0M445.9 111.7a1.85 1.85 0 1 0 3.70 0a1.85 1.85 0 1 0 -3.70 0M447.0 111.9a1.85 1.85 0 1 0 3.70 0a1.85 1.85 0 1 0 -3.70 0M448.3 111.4a1.85 1.85 0 1 0 3.70 0a1.85 1.85 0 1 0 -3.70 0M449.5 110.9a1.85 1.85 0 1 0 3.70 0a1.85 1.85 0 1 0 -3.70 0M451.4 111.5a1.85 1.85 0 1 0 3.70 0a1.85 1.85 0 1 0 -3.70 0M452.7 112.0a1.85 1.85 0 1 0 3.70 0a1.85 1.85 0 1 0 -3.70 0M453.9 112.5a1.85 1.85 0 1 0 3.70 0a1.85 1.85 0 1 0 -3.70 0M455.3 113.5a1.85 1.85 0 1 0 3.70 0a1.85 1.85 0 1 0 -3.70 0M456.6 114.4a1.85 1.85 0 1 0 3.70 0a1.85 1.85 0 1 0 -3.70 0M451.4 119.2a1.85 1.85 0 1 0 3.70 0a1.85 1.85 0 1 0 -3.70 0M458.6 129.8a1.85 1.85 0 1 0 3.70 0a1.85 1.85 0 1 0 -3.70 0M459.8 139.8a1.85 1.85 0 1 0 3.70 0a1.85 1.85 0 1 0 -3.70 0M463.0 144.6a1.85 1.85 0 1 0 3.70 0a1.85 1.85 0 1 0 -3.70 0M465.9 133.6a1.85 1.85 0 1 0 3.70 0a1.85 1.85 0 1 0 -3.70 0M468.8 107.5a1.85 1.85 0 1 0 3.70 0a1.85 1.85 0 1 0 -3.70 0M470.1 107.8a1.85 1.85 0 1 0 3.70 0a1.85 1.85 0 1 0 -3.70 0M471.3 108.0a1.85 1.85 0 1 0 3.70 0a1.85 1.85 0 1 0 -3.70 0M473.9 102.8a1.85 1.85 0 1 0 3.70 0a1.85 1.85 0 1 0 -3.70 0M475.9 95.9a1.85 1.85 0 1 0 3.70 0a1.85 1.85 0 1 0 -3.70 0M477.8 107.5a1.85 1.85 0 1 0 3.70 0a1.85 1.85 0 1 0 -3.70 0M480.9 97.8a1.85 1.85 0 1 0 3.70 0a1.85 1.85 0 1 0 -3.70 0M483.6 107.5a1.85 1.85 0 1 0 3.70 0a1.85 1.85 0 1 0 -3.70 0M484.9 107.1a1.85 1.85 0 1 0 3.70 0a1.85 1.85 0 1 0 -3.70 0M486.1 106.7a1.85 1.85 0 1 0 3.70 0a1.85 1.85 0 1 0 -3.70 0M487.1 106.1a1.85 1.85 0 1 0 3.70 0a1.85 1.85 0 1 0 -3.70 0M488.0 105.5a1.85 1.85 0 1 0 3.70 0a1.85 1.85 0 1 0 -3.70 0M489.0 106.1a1.85 1.85 0 1 0 3.70 0a1.85 1.85 0 1 0 -3.70 0M489.9 106.7a1.85 1.85 0 1 0 3.70 0a1.85 1.85 0 1 0 -3.70 0M492.4 120.5a1.85 1.85 0 1 0 3.70 0a1.85 1.85 0 1 0 -3.70 0M494.3 142.7a1.85 1.85 0 1 0 3.70 0a1.85 1.85 0 1 0 -3.70 0M495.6 141.7a1.85 1.85 0 1 0 3.70 0a1.85 1.85 0 1 0 -3.70 0M496.9 140.8a1.85 1.85 0 1 0 3.70 0a1.85 1.85 0 1 0 -3.70 0M498.2 139.8a1.85 1.85 0 1 0 3.70 0a1.85 1.85 0 1 0 -3.70 0M499.2 140.8a1.85 1.85 0 1 0 3.70 0a1.85 1.85 0 1 0 -3.70 0M500.1 141.7a1.85 1.85 0 1 0 3.70 0a1.85 1.85 0 1 0 -3.70 0M500.8 142.8a1.85 1.85 0 1 0 3.70 0a1.85 1.85 0 1 0 -3.70 0M501.4 144.0a1.85 1.85 0 1 0 3.70 0a1.85 1.85 0 1 0 -3.70 0M439.3 146.5a1.85 1.85 0 1 0 3.70 0a1.85 1.85 0 1 0 -3.70 0"/>
<path fill="#e00000" d="M392.9 23.6a1.85 1.85 0 1 0 3.70 0a1.85 1.85 0 1 0 -3.70 0M321.8 80.9a1.85 1.85 0 1 0 3.70 0a1.85 1.85 0 1 0 -3.70 0M334.6 72.1a1.85 1.85 0 1 0 3.70 0a1.85 1.85 0 1 0 -3.70 0M339.0 82.3a1.85 1.85 0 1 0 3.70 0a1.85 1.85 0 1 0 -3.70 0M351.5 79.4a1.85 1.85 0 1 0 3.70 0a1.85 1.85 0 1 0 -3.70 0M352.5 78.5a1.85 1.85 0 1 0 3.70 0a1.85 1.85 0 1 0 -3.70 0M353.4 77.5a1.85 1.85 0 1 0 3.70 0a1.85 1.85 0 1 0 -3.70 0M354.4 77.0a1.85 1.85 0 1 0 3.70 0a1.85 1.85 0 1 0 -3.70 0M355.4 76.5a1.85 1.85 0 1 0 3.70 0a1.85 1.85 0 1 0 -3.70 0M356.9 77.0a1.85 1.85 0 1 0 3.70 0a1.85 1.85 0 1 0 -3.70 0M358.3 77.5a1.85 1.85 0 1 0 3.70 0a1.85 1.85 0 1 0 -3.70 0M359.8 77.0a1.85 1.85 0 1 0 3.70 0a1.85 1.85 0 1 0 -3.70 0M361.1 76.5a1.85 1.85 0 1 0 3.70 0a1.85 1.85 0 1 0 -3.70 0M365.0 64.4a1.85 1.85 0 1 0 3.70 0a1.85 1.85 0 1 0 -3.70 0M365.9 71.3a1.85 1.85 0 1 0 3.70 0a1.85 1.85 0 1 0 -3.70 0M367.1 69.8a1.85 1.85 0 1 0 3.70 0a1.85 1.85 0 1 0 -3.70 0M368.3 68.2a1.85 1.85 0 1 0 3.70 0a1.85 1.85 0 1 0 -3.70 0M370.2 67.8a1.85 1.85 0 1 0 3.70 0a1.85 1.85 0 1 0 -3.70 0M371.5 66.7a1.85 1.85 0 1 0 3.70 0a1.85 1.85 0 1 0 -3.70 0M372.8 65.5a1.85 1.85 0 1 0 3.70 0a1.85 1.85 0 1 0 -3.70 0M373.7 64.0a1.85 1.85 0 1 0 3.70 0a1.85 1.85 0 1 0 -3.70 0M374.6 62.5a1.85 1.85 0 1 0 3.70 0a1.85 1.85 0 1 0 -3.70 0M375.9 55.3a1.85 1.85 0 1 0 3.70 0a1.85 1.85 0 1 0 -3.70 0M377.2 55.6a1.85 1.85 0 1 0 3.70 0a1.85 1.85 0 1 0 -3.70 0M378.4 55.9a1.85 1.85 0 1 0 3.70 0a1.85 1.85 0 1 0 -3.70 0M379.1 55.0a1.85 1.85 0 1 0 3.70 0a1.85 1.85 0 1 0 -3.70 0M379.8 54.0a1.85 1.85 0 1 0 3.70 0a1.85 1.85 0 1 0 -3.70 0M381.1 53.7a1.85 1.85 0 1 0 3.70 0a1.85 1.85 0 1 0 -3.70 0M382.3 53.4a1.85 1.85 0 1 0 3.70 0a1.85 1.85 0 1 0 -3.70 0M383.6 53.0a1.85 1.85 0 1 0 3.70 0a1.85 1.85 0 1 0 -3.70 0M384.8 52.5a1.85 1.85 0 1 0 3.70 0a1.85 1.85 0 1 0 -3.70 0M385.8 52.0a1.85 1.85 0 1 0 3.70 0a1.85 1.85 0 1 0 -3.70 0M386.8 51.5a1.85 1.85 0 1 0 3.70 0a1.85 1.85 0 1 0 -3.70 0M389.0 48.2a1.85 1.85 0 1 0 3.70 0a1.85 1.85 0 1 0 -3.70 0M390.2 47.5a1.85 1.85 0 1 0 3.70 0a1.85 1.85 0 1 0 -3.70 0M391.3 46.7a1.85 1.85 0 1 0 3.70 0a1.85 1.85 0 1 0 -3.70 0M392.6 46.2a1.85 1.85 0 1 0 3.70 0a1.85 1.85 0 1 0 -3.70 0M393.8 45.7a1.85 1.85 0 1 0 3.70 0a1.85 1.85 0 1 0 -3.70 0M395.3 45.5a1.85 1.85 0 1 0 3.70 0a1.85 1.85 0 1 0 -3.70 0M396.8 45.2a1.85 1.85 0 1 0 3.70 0a1.85 1.85 0 1 0 -3.70 0M398.2 45.0a1.85 1.85 0 1 0 3.70 0a1.85 1.85 0 1 0 -3.70 0M399.6 44.8a1.85 1.85 0 1 0 3.70 0a1.85 1.85 0 1 0 -3.70 0M400.9 44.6a1.85 1.85 0 1 0 3.70 0a1.85 1.85 0 1 0 -3.70 0M402.1 44.4a1.85 1.85 0 1 0 3.70 0a1.85 1.85 0 1 0 -3.70 0M403.3 44.6a1.85 1.85 0 1 0 3.70 0a1.85 1.85 0 1 0 -3.70 0M404.4 44.8a1.85 1.85 0 1 0 3.70 0a1.85 1.85 0 1 0 -3.70 0M411.1 74.6a1.85 1.85 0 1 0 3.70 0a1.85 1.85 0 1 0 -3.70 0M413.9 43.8a1.85 1.85 0 1 0 3.70 0a1.85 1.85 0 1 0 -3.70 0M416.4 47.7a1.85 1.85 0 1 0 3.70 0a1.85 1.85 0 1 0 -3.70 0M427.4 41.3a1.85 1.85 0 1 0 3.70 0a1.85 1.85 0 1 0 -3.70 0M429.3 40.5a1.85 1.85 0 1 0 3.70 0a1.85 1.85 0 1 0 -3.70 0M430.3 40.0a1.85 1.85 0 1 0 3.70 0a1.85 1.85 0 1 0 -3.70 0M431.3 39.6a1.85 1.85 0 1 0 3.70 0a1.85 1.85 0 1 0 -3.70 0M432.3 39.1a1.85 1.85 0 1 0 3.70 0a1.85 1.85 0 1 0 -3.70 0M433.2 38.6a1.85 1.85 0 1 0 3.70 0a1.85 1.85 0 1 0 -3.70 0M439.9 35.2a1.85 1.85 0 1 0 3.70 0a1.85 1.85 0 1 0 -3.70 0M441.2 34.4a1.85 1.85 0 1 0 3.70 0a1.85 1.85 0 1 0 -3.70 0M442.4 33.6a1.85 1.85 0 1 0 3.70 0a1.85 1.85 0 1 0 -3.70 0M444.1 33.9a1.85 1.85 0 1 0 3.70 0a1.85 1.85 0 1 0 -3.70 0M445.8 34.2a1.85 1.85 0 1 0 3.70 0a1.85 1.85 0 1 0 -3.70 0M447.6 33.6a1.85 1.85 0 1 0 3.70 0a1.85 1.85 0 1 0 -3.70 0M449.1 34.2a1.85 1.85 0 1 0 3.70 0a1.85 1.85 0 1 0 -3.70 0M450.5 34.8a1.85 1.85 0 1 0 3.70 0a1.85 1.85 0 1 0 -3.70 0M453.4 39.4a1.85 1.85 0 1 0 3.70 0a1.85 1.85 0 1 0 -3.70 0M456.6 47.1a1.85 1.85 0 1 0 3.70 0a1.85 1.85 0 1 0 -3.70 0M451.4 58.6a1.85 1.85 0 1 0 3.70 0a1.85 1.85 0 1 0 -3.70 0M468.8 34.8a1.85 1.85 0 1 0 3.70 0a1.85 1.85 0 1 0 -3.70 0M470.1 35.5a1.85 1.85 0 1 0 3.70 0a1.85 1.85 0 1 0 -3.70 0M471.3 36.1a1.85 1.85 0 1 0 3.70 0a1.85 1.85 0 1 0 -3.70 0M473.9 28.4a1.85 1.85 0 1 0 3.70 0a1.85 1.85 0 1 0 -3.70 0M475.9 20.7a1.85 1.85 0 1 0 3.70 0a1.85 1.85 0 1 0 -3.70 0M480.9 24.2a1.85 1.85 0 1 0 3.70 0a1.85 1.85 0 1 0 -3.70 0M477.8 36.1a1.85 1.85 0 1 0 3.70 0a1.85 1.85 0 1 0 -3.70 0M484.1 38.0a1.85 1.85 0 1 0 3.70 0a1.85 1.85 0 1 0 -3.70 0M486.1 37.5a1.85 1.85 0 1 0 3.70 0a1.85 1.85 0 1 0 -3.70 0M487.4 36.1a1.85 1.85 0 1 0 3.70 0a1.85 1.85 0 1 0 -3.70 0M488.2 37.4a1.85 1.85 0 1 0 3.70 0a1.85 1.85 0 1 0 -3.70 0M488.9 38.6a1.85 1.85 0 1 0 3.70 0a1.85 1.85 0 1 0 -3.70 0M492.8 76.5a1.85 1.85 0 1 0 3.70 0a1.85 1.85 0 1 0 -3.70 0M321.1 115.2a1.85 1.85 0 1 0 3.70 0a1.85 1.85 0 1 0 -3.70 0M324.6 98.0a1.85 1.85 0 1 0 3.70 0a1.85 1.85 0 1 0 -3.70 0M325.9 107.1a1.85 1.85 0 1 0 3.70 0a1.85 1.85 0 1 0 -3.70 0M329.4 91.7a1.85 1.85 0 1 0 3.70 0a1.85 1.85 0 1 0 -3.70 0M331.8 97.5a1.85 1.85 0 1 0 3.70 0a1.85 1.85 0 1 0 -3.70 0M332.1 101.9a1.85 1.85 0 1 0 3.70 0a1.85 1.85 0 1 0 -3.70 0M337.1 87.8a1.85 1.85 0 1 0 3.70 0a1.85 1.85 0 1 0 -3.70 0M340.9 84.4a1.85 1.85 0 1 0 3.70 0a1.85 1.85 0 1 0 -3.70 0M343.3 90.7a1.85 1.85 0 1 0 3.70 0a1.85 1.85 0 1 0 -3.70 0M344.8 89.8a1.85 1.85 0 1 0 3.70 0a1.85 1.85 0 1 0 -3.70 0M345.8 89.3a1.85 1.85 0 1 0 3.70 0a1.85 1.85 0 1 0 -3.70 0M346.8 88.8a1.85 1.85 0 1 0 3.70 0a1.85 1.85 0 1 0 -3.70 0M349.6 85.5a1.85 1.85 0 1 0 3.70 0a1.85 1.85 0 1 0 -3.70 0M408.3 90.2a1.85 1.85 0 1 0 3.70 0a1.85 1.85 0 1 0 -3.70 0M409.8 91.3a1.85 1.85 0 1 0 3.70 0a1.85 1.85 0 1 0 -3.70 0M405.8 132.1a1.85 1.85 0 1 0 3.70 0a1.85 1.85 0 1 0 -3.70 0M423.9 90.2a1.85 1.85 0 1 0 3.70 0a1.85 1.85 0 1 0 -3.70 0M458.6 89.2a1.85 1.85 0 1 0 3.70 0a1.85 1.85 0 1 0 -3.70 0M465.9 102.8a1.85 1.85 0 1 0 3.70 0a1.85 1.85 0 1 0 -3.70 0M464.9 115.7a1.85 1.85 0 1 0 3.70 0a1.85 1.85 0 1 0 -3.70 0M460.1 119.0a1.85 1.85 0 1 0 3.70 0a1.85 1.85 0 1 0 -3.70 0M418.8 121.1a1.85 1.85 0 1 0 3.70 0a1.85 1.85 0 1 0 -3.70 0M420.8 121.9a1.85 1.85 0 1 0 3.70 0a1.85 1.85 0 1 0 -3.70 0M422.6 122.8a1.85 1.85 0 1 0 3.70 0a1.85 1.85 0 1 0 -3.70 0M421.3 136.9a1.85 1.85 0 1 0 3.70 0a1.85 1.85 0 1 0 -3.70 0M438.6 141.3a1.85 1.85 0 1 0 3.70 0a1.85 1.85 0 1 0 -3.70 0M436.1 145.9a1.85 1.85 0 1 0 3.70 0a1.85 1.85 0 1 0 -3.70 0M462.4 139.4a1.85 1.85 0 1 0 3.70 0a1.85 1.85 0 1 0 -3.70 0M498.2 129.6a1.85 1.85 0 1 0 3.70 0a1.85 1.85 0 1 0 -3.70 0M494.3 138.8a1.85 1.85 0 1 0 3.70 0a1.85 1.85 0 1 0 -3.70 0M500.5 136.9a1.85 1.85 0 1 0 3.70 0a1.85 1.85 0 1 0 -3.70 0M502.0 141.3a1.85 1.85 0 1 0 3.70 0a1.85 1.85 0 1 0 -3.70 0M495.8 146.5a1.85 1.85 0 1 0 3.70 0a1.85 1.85 0 1 0 -3.70 0"/>
<rect x="314.5" y="14.5" width="197.90" height="138.80" fill="none" stroke="#000" stroke-width="1"/>
<path d="M371.50 153.3v-4.6M371.50 14.5v4.6M454.50 153.3v-4.6M454.50 14.5v4.6M314.5 146.50h4.6M512.4 146.50h-4.6M314.5 86.50h4.6M512.4 86.50h-4.6M314.5 25.50h4.6M512.4 25.50h-4.6" stroke="#000" stroke-width="1" fill="none"/>
<path d="M329.50 153.3v-3.0M329.50 14.5v3.0M350.50 153.3v-3.0M350.50 14.5v3.0M391.50 153.3v-3.0M391.50 14.5v3.0M412.50 153.3v-3.0M412.50 14.5v3.0M433.50 153.3v-3.0M433.50 14.5v3.0M475.50 153.3v-3.0M475.50 14.5v3.0M496.50 153.3v-3.0M496.50 14.5v3.0M314.5 131.50h3.0M512.4 131.50h-3.0M314.5 116.50h3.0M512.4 116.50h-3.0M314.5 101.50h3.0M512.4 101.50h-3.0M314.5 70.50h3.0M512.4 70.50h-3.0M314.5 55.50h3.0M512.4 55.50h-3.0M314.5 40.50h3.0M512.4 40.50h-3.0" stroke="#000" stroke-width="0.85" fill="none"/>
<text x="371.00" y="167.6" text-anchor="middle" style="font-family:'DejaVu Sans',sans-serif;font-size:13px;stroke:#000;stroke-width:0.3px">600</text>
<text x="454.50" y="167.6" text-anchor="middle" style="font-family:'DejaVu Sans',sans-serif;font-size:13px;stroke:#000;stroke-width:0.3px">800</text>
<text x="309.2" y="151.20" text-anchor="end" style="font-family:'DejaVu Sans',sans-serif;font-size:13px;stroke:#000;stroke-width:0.3px">0</text>
<text x="309.2" y="90.54" text-anchor="end" style="font-family:'DejaVu Sans',sans-serif;font-size:13px;stroke:#000;stroke-width:0.3px">3</text>
<text x="309.2" y="29.88" text-anchor="end" style="font-family:'DejaVu Sans',sans-serif;font-size:13px;stroke:#000;stroke-width:0.3px">6</text>
<rect x="47.5" y="7.5" width="472.00" height="331.00" fill="none" stroke="#000" stroke-width="1"/>
<path d="M67.50 338.5v-4.6M67.50 7.5v4.6M133.50 338.5v-4.6M133.50 7.5v4.6M199.50 338.5v-4.6M199.50 7.5v4.6M266.50 338.5v-4.6M266.50 7.5v4.6M332.50 338.5v-4.6M332.50 7.5v4.6M398.50 338.5v-4.6M398.50 7.5v4.6M464.50 338.5v-4.6M464.50 7.5v4.6M47.5 323.50h4.6M519.5 323.50h-4.6M47.5 240.50h4.6M519.5 240.50h-4.6M47.5 157.50h4.6M519.5 157.50h-4.6M47.5 74.50h4.6M519.5 74.50h-4.6" stroke="#000" stroke-width="1" fill="none"/>
<path d="M50.50 338.5v-3.0M50.50 7.5v3.0M84.50 338.5v-3.0M84.50 7.5v3.0M100.50 338.5v-3.0M100.50 7.5v3.0M117.50 338.5v-3.0M117.50 7.5v3.0M150.50 338.5v-3.0M150.50 7.5v3.0M166.50 338.5v-3.0M166.50 7.5v3.0M183.50 338.5v-3.0M183.50 7.5v3.0M216.50 338.5v-3.0M216.50 7.5v3.0M232.50 338.5v-3.0M232.50 7.5v3.0M249.50 338.5v-3.0M249.50 7.5v3.0M282.50 338.5v-3.0M282.50 7.5v3.0M299.50 338.5v-3.0M299.50 7.5v3.0M315.50 338.5v-3.0M315.50 7.5v3.0M348.50 338.5v-3.0M348.50 7.5v3.0M365.50 338.5v-3.0M365.50 7.5v3.0M381.50 338.5v-3.0M381.50 7.5v3.0M414.50 338.5v-3.0M414.50 7.5v3.0M431.50 338.5v-3.0M431.50 7.5v3.0M448.50 338.5v-3.0M448.50 7.5v3.0M481.50 338.5v-3.0M481.50 7.5v3.0M497.50 338.5v-3.0M497.50 7.5v3.0M514.50 338.5v-3.0M514.50 7.5v3.0M47.5 306.50h3.0M519.5 306.50h-3.0M47.5 290.50h3.0M519.5 290.50h-3.0M47.5 273.50h3.0M519.5 273.50h-3.0M47.5 256.50h3.0M519.5 256.50h-3.0M47.5 223.50h3.0M519.5 223.50h-3.0M47.5 206.50h3.0M519.5 206.50h-3.0M47.5 190.50h3.0M519.5 190.50h-3.0M47.5 173.50h3.0M519.5 173.50h-3.0M47.5 140.50h3.0M519.5 140.50h-3.0M47.5 123.50h3.0M519.5 123.50h-3.0M47.5 107.50h3.0M519.5 107.50h-3.0M47.5 90.50h3.0M519.5 90.50h-3.0M47.5 57.50h3.0M519.5 57.50h-3.0M47.5 40.50h3.0M519.5 40.50h-3.0M47.5 24.50h3.0M519.5 24.50h-3.0" stroke="#000" stroke-width="0.85" fill="none"/>
<text x="67.50" y="352.3" text-anchor="middle" style="font-family:'DejaVu Sans',sans-serif;font-size:13px;stroke:#000;stroke-width:0.3px">400</text>
<text x="133.68" y="352.3" text-anchor="middle" style="font-family:'DejaVu Sans',sans-serif;font-size:13px;stroke:#000;stroke-width:0.3px">600</text>
<text x="199.87" y="352.3" text-anchor="middle" style="font-family:'DejaVu Sans',sans-serif;font-size:13px;stroke:#000;stroke-width:0.3px">800</text>
<text x="266.05" y="352.3" text-anchor="middle" style="font-family:'DejaVu Sans',sans-serif;font-size:13px;stroke:#000;stroke-width:0.3px">1000</text>
<text x="332.24" y="352.3" text-anchor="middle" style="font-family:'DejaVu Sans',sans-serif;font-size:13px;stroke:#000;stroke-width:0.3px">1200</text>
<text x="398.42" y="352.3" text-anchor="middle" style="font-family:'DejaVu Sans',sans-serif;font-size:13px;stroke:#000;stroke-width:0.3px">1400</text>
<text x="464.60" y="352.3" text-anchor="middle" style="font-family:'DejaVu Sans',sans-serif;font-size:13px;stroke:#000;stroke-width:0.3px">1600</text>
<text x="43.2" y="327.70" text-anchor="end" style="font-family:'DejaVu Sans',sans-serif;font-size:13px;stroke:#000;stroke-width:0.3px">0</text>
<text x="43.2" y="244.70" text-anchor="end" style="font-family:'DejaVu Sans',sans-serif;font-size:13px;stroke:#000;stroke-width:0.3px">5</text>
<text x="43.2" y="161.70" text-anchor="end" style="font-family:'DejaVu Sans',sans-serif;font-size:13px;stroke:#000;stroke-width:0.3px">10</text>
<text x="43.2" y="78.70" text-anchor="end" style="font-family:'DejaVu Sans',sans-serif;font-size:13px;stroke:#000;stroke-width:0.3px">15</text>
<path fill="#000000" d="M67.2 678.8a1.55 1.55 0 1 0 3.10 0a1.55 1.55 0 1 0 -3.10 0M68.8 678.2a1.55 1.55 0 1 0 3.10 0a1.55 1.55 0 1 0 -3.10 0M70.5 677.6a1.55 1.55 0 1 0 3.10 0a1.55 1.55 0 1 0 -3.10 0M71.7 677.4a1.55 1.55 0 1 0 3.10 0a1.55 1.55 0 1 0 -3.10 0M72.9 677.2a1.55 1.55 0 1 0 3.10 0a1.55 1.55 0 1 0 -3.10 0M74.0 677.0a1.55 1.55 0 1 0 3.10 0a1.55 1.55 0 1 0 -3.10 0M75.2 676.8a1.55 1.55 0 1 0 3.10 0a1.55 1.55 0 1 0 -3.10 0M76.5 676.6a1.55 1.55 0 1 0 3.10 0a1.55 1.55 0 1 0 -3.10 0M77.9 676.5a1.55 1.55 0 1 0 3.10 0a1.55 1.55 0 1 0 -3.10 0M79.2 676.3a1.55 1.55 0 1 0 3.10 0a1.55 1.55 0 1 0 -3.10 0M80.7 676.2a1.55 1.55 0 1 0 3.10 0a1.55 1.55 0 1 0 -3.10 0M82.0 676.0a1.55 1.55 0 1 0 3.10 0a1.55 1.55 0 1 0 -3.10 0M83.5 675.9a1.55 1.55 0 1 0 3.10 0a1.55 1.55 0 1 0 -3.10 0M84.7 675.8a1.55 1.55 0 1 0 3.10 0a1.55 1.55 0 1 0 -3.10 0M86.0 675.8a1.55 1.55 0 1 0 3.10 0a1.55 1.55 0 1 0 -3.10 0M87.2 675.7a1.55 1.55 0 1 0 3.10 0a1.55 1.55 0 1 0 -3.10 0M88.5 675.6a1.55 1.55 0 1 0 3.10 0a1.55 1.55 0 1 0 -3.10 0M89.7 675.5a1.55 1.55 0 1 0 3.10 0a1.55 1.55 0 1 0 -3.10 0M91.0 675.5a1.55 1.55 0 1 0 3.10 0a1.55 1.55 0 1 0 -3.10 0M92.2 675.4a1.55 1.55 0 1 0 3.10 0a1.55 1.55 0 1 0 -3.10 0M93.5 675.3a1.55 1.55 0 1 0 3.10 0a1.55 1.55 0 1 0 -3.10 0M94.7 675.3a1.55 1.55 0 1 0 3.10 0a1.55 1.55 0 1 0 -3.10 0M96.0 675.2a1.55 1.55 0 1 0 3.10 0a1.55 1.55 0 1 0 -3.10 0M97.2 675.2a1.55 1.55 0 1 0 3.10 0a1.55 1.55 0 1 0 -3.10 0M98.5 675.2a1.55 1.55 0 1 0 3.10 0a1.55 1.55 0 1 0 -3.10 0M99.7 675.2a1.55 1.55 0 1 0 3.10 0a1.55 1.55 0 1 0 -3.10 0M101.0 675.2a1.55 1.55 0 1 0 3.10 0a1.55 1.55 0 1 0 -3.10 0M102.2 675.2a1.55 1.55 0 1 0 3.10 0a1.55 1.55 0 1 0 -3.10 0M103.5 675.2a1.55 1.55 0 1 0 3.10 0a1.55 1.55 0 1 0 -3.10 0M104.7 675.2a1.55 1.55 0 1 0 3.10 0a1.55 1.55 0 1 0 -3.10 0M106.0 675.2a1.55 1.55 0 1 0 3.10 0a1.55 1.55 0 1 0 -3.10 0M107.2 675.2a1.55 1.55 0 1 0 3.10 0a1.55 1.55 0 1 0 -3.10 0M108.5 675.2a1.55 1.55 0 1 0 3.10 0a1.55 1.55 0 1 0 -3.10 0M109.8 675.2a1.55 1.55 0 1 0 3.10 0a1.55 1.55 0 1 0 -3.10 0M111.1 675.2a1.55 1.55 0 1 0 3.10 0a1.55 1.55 0 1 0 -3.10 0M112.4 675.2a1.55 1.55 0 1 0 3.10 0a1.55 1.55 0 1 0 -3.10 0M113.7 675.3a1.55 1.55 0 1 0 3.10 0a1.55 1.55 0 1 0 -3.10 0M115.0 675.3a1.55 1.55 0 1 0 3.10 0a1.55 1.55 0 1 0 -3.10 0M116.3 675.3a1.55 1.55 0 1 0 3.10 0a1.55 1.55 0 1 0 -3.10 0M117.7 675.3a1.55 1.55 0 1 0 3.10 0a1.55 1.55 0 1 0 -3.10 0M119.0 675.3a1.55 1.55 0 1 0 3.10 0a1.55 1.55 0 1 0 -3.10 0M120.3 675.3a1.55 1.55 0 1 0 3.10 0a1.55 1.55 0 1 0 -3.10 0M121.6 675.4a1.55 1.55 0 1 0 3.10 0a1.55 1.55 0 1 0 -3.10 0M122.9 675.4a1.55 1.55 0 1 0 3.10 0a1.55 1.55 0 1 0 -3.10 0M124.2 675.4a1.55 1.55 0 1 0 3.10 0a1.55 1.55 0 1 0 -3.10 0M125.6 675.4a1.55 1.55 0 1 0 3.10 0a1.55 1.55 0 1 0 -3.10 0M126.9 675.4a1.55 1.55 0 1 0 3.10 0a1.55 1.55 0 1 0 -3.10 0M128.2 675.4a1.55 1.55 0 1 0 3.10 0a1.55 1.55 0 1 0 -3.10 0M129.5 675.5a1.55 1.55 0 1 0 3.10 0a1.55 1.55 0 1 0 -3.10 0M130.8 675.5a1.55 1.55 0 1 0 3.10 0a1.55 1.55 0 1 0 -3.10 0M132.1 675.5a1.55 1.55 0 1 0 3.10 0a1.55 1.55 0 1 0 -3.10 0M133.4 675.5a1.55 1.55 0 1 0 3.10 0a1.55 1.55 0 1 0 -3.10 0M134.8 675.5a1.55 1.55 0 1 0 3.10 0a1.55 1.55 0 1 0 -3.10 0M136.1 675.5a1.55 1.55 0 1 0 3.10 0a1.55 1.55 0 1 0 -3.10 0M137.4 675.5a1.55 1.55 0 1 0 3.10 0a1.55 1.55 0 1 0 -3.10 0M138.7 675.5a1.55 1.55 0 1 0 3.10 0a1.55 1.55 0 1 0 -3.10 0M140.0 675.5a1.55 1.55 0 1 0 3.10 0a1.55 1.55 0 1 0 -3.10 0M141.3 675.5a1.55 1.55 0 1 0 3.10 0a1.55 1.55 0 1 0 -3.10 0M142.7 675.5a1.55 1.55 0 1 0 3.10 0a1.55 1.55 0 1 0 -3.10 0M144.0 675.5a1.55 1.55 0 1 0 3.10 0a1.55 1.55 0 1 0 -3.10 0M145.3 675.5a1.55 1.55 0 1 0 3.10 0a1.55 1.55 0 1 0 -3.10 0M146.6 675.6a1.55 1.55 0 1 0 3.10 0a1.55 1.55 0 1 0 -3.10 0M147.9 675.6a1.55 1.55 0 1 0 3.10 0a1.55 1.55 0 1 0 -3.10 0M149.2 675.6a1.55 1.55 0 1 0 3.10 0a1.55 1.55 0 1 0 -3.10 0M150.6 675.6a1.55 1.55 0 1 0 3.10 0a1.55 1.55 0 1 0 -3.10 0M151.9 675.6a1.55 1.55 0 1 0 3.10 0a1.55 1.55 0 1 0 -3.10 0M153.2 675.6a1.55 1.55 0 1 0 3.10 0a1.55 1.55 0 1 0 -3.10 0M154.5 675.6a1.55 1.55 0 1 0 3.10 0a1.55 1.55 0 1 0 -3.10 0M155.8 675.6a1.55 1.55 0 1 0 3.10 0a1.55 1.55 0 1 0 -3.10 0M157.1 675.6a1.55 1.55 0 1 0 3.10 0a1.55 1.55 0 1 0 -3.10 0M158.4 675.6a1.55 1.55 0 1 0 3.10 0a1.55 1.55 0 1 0 -3.10 0M159.7 677.0a1.55 1.55 0 1 0 3.10 0a1.55 1.55 0 1 0 -3.10 0M160.9 678.3a1.55 1.55 0 1 0 3.10 0a1.55 1.55 0 1 0 -3.10 0M162.1 677.9a1.55 1.55 0 1 0 3.10 0a1.55 1.55 0 1 0 -3.10 0M163.3 677.4a1.55 1.55 0 1 0 3.10 0a1.55 1.55 0 1 0 -3.10 0M164.4 677.0a1.55 1.55 0 1 0 3.10 0a1.55 1.55 0 1 0 -3.10 0M165.8 676.8a1.55 1.55 0 1 0 3.10 0a1.55 1.55 0 1 0 -3.10 0M167.1 676.5a1.55 1.55 0 1 0 3.10 0a1.55 1.55 0 1 0 -3.10 0M168.4 676.3a1.55 1.55 0 1 0 3.10 0a1.55 1.55 0 1 0 -3.10 0M169.7 676.7a1.55 1.55 0 1 0 3.10 0a1.55 1.55 0 1 0 -3.10 0M170.9 677.1a1.55 1.55 0 1 0 3.10 0a1.55 1.55 0 1 0 -3.10 0M172.2 677.6a1.55 1.55 0 1 0 3.10 0a1.55 1.55 0 1 0 -3.10 0M173.4 678.0a1.55 1.55 0 1 0 3.10 0a1.55 1.55 0 1 0 -3.10 0M174.9 677.2a1.55 1.55 0 1 0 3.10 0a1.55 1.55 0 1 0 -3.10 0M176.4 676.5a1.55 1.55 0 1 0 3.10 0a1.55 1.55 0 1 0 -3.10 0M177.8 676.5a1.55 1.55 0 1 0 3.10 0a1.55 1.55 0 1 0 -3.10 0M179.1 676.5a1.55 1.55 0 1 0 3.10 0a1.55 1.55 0 1 0 -3.10 0M180.4 676.5a1.55 1.55 0 1 0 3.10 0a1.55 1.55 0 1 0 -3.10 0M181.8 676.5a1.55 1.55 0 1 0 3.10 0a1.55 1.55 0 1 0 -3.10 0M183.1 676.5a1.55 1.55 0 1 0 3.10 0a1.55 1.55 0 1 0 -3.10 0M184.4 676.5a1.55 1.55 0 1 0 3.10 0a1.55 1.55 0 1 0 -3.10 0M185.7 676.5a1.55 1.55 0 1 0 3.10 0a1.55 1.55 0 1 0 -3.10 0M187.0 676.5a1.55 1.55 0 1 0 3.10 0a1.55 1.55 0 1 0 -3.10 0M188.3 676.5a1.55 1.55 0 1 0 3.10 0a1.55 1.55 0 1 0 -3.10 0M189.5 676.5a1.55 1.55 0 1 0 3.10 0a1.55 1.55 0 1 0 -3.10 0M190.8 676.5a1.55 1.55 0 1 0 3.10 0a1.55 1.55 0 1 0 -3.10 0M192.1 676.5a1.55 1.55 0 1 0 3.10 0a1.55 1.55 0 1 0 -3.10 0M193.4 676.5a1.55 1.55 0 1 0 3.10 0a1.55 1.55 0 1 0 -3.10 0M194.6 676.5a1.55 1.55 0 1 0 3.10 0a1.55 1.55 0 1 0 -3.10 0M195.9 676.5a1.55 1.55 0 1 0 3.10 0a1.55 1.55 0 1 0 -3.10 0M197.2 676.5a1.55 1.55 0 1 0 3.10 0a1.55 1.55 0 1 0 -3.10 0M198.4 676.5a1.55 1.55 0 1 0 3.10 0a1.55 1.55 0 1 0 -3.10 0M199.7 676.8a1.55 1.55 0 1 0 3.10 0a1.55 1.55 0 1 0 -3.10 0M200.9 677.0a1.55 1.55 0 1 0 3.10 0a1.55 1.55 0 1 0 -3.10 0M202.2 677.2a1.55 1.55 0 1 0 3.10 0a1.55 1.55 0 1 0 -3.10 0M203.4 677.5a1.55 1.55 0 1 0 3.10 0a1.55 1.55 0 1 0 -3.10 0M204.9 678.0a1.55 1.55 0 1 0 3.10 0a1.55 1.55 0 1 0 -3.10 0M206.4 678.5a1.55 1.55 0 1 0 3.10 0a1.55 1.55 0 1 0 -3.10 0M207.8 678.0a1.55 1.55 0 1 0 3.10 0a1.55 1.55 0 1 0 -3.10 0M209.1 677.5a1.55 1.55 0 1 0 3.10 0a1.55 1.55 0 1 0 -3.10 0M210.4 677.0a1.55 1.55 0 1 0 3.10 0a1.55 1.55 0 1 0 -3.10 0M211.7 677.0a1.55 1.55 0 1 0 3.10 0a1.55 1.55 0 1 0 -3.10 0M213.0 677.1a1.55 1.55 0 1 0 3.10 0a1.55 1.55 0 1 0 -3.10 0M214.3 677.1a1.55 1.55 0 1 0 3.10 0a1.55 1.55 0 1 0 -3.10 0M215.6 677.1a1.55 1.55 0 1 0 3.10 0a1.55 1.55 0 1 0 -3.10 0M216.9 677.2a1.55 1.55 0 1 0 3.10 0a1.55 1.55 0 1 0 -3.10 0M218.2 677.2a1.55 1.55 0 1 0 3.10 0a1.55 1.55 0 1 0 -3.10 0M219.4 677.2a1.55 1.55 0 1 0 3.10 0a1.55 1.55 0 1 0 -3.10 0M220.7 677.3a1.55 1.55 0 1 0 3.10 0a1.55 1.55 0 1 0 -3.10 0M222.0 677.3a1.55 1.55 0 1 0 3.10 0a1.55 1.55 0 1 0 -3.10 0M223.3 677.4a1.55 1.55 0 1 0 3.10 0a1.55 1.55 0 1 0 -3.10 0M224.6 677.4a1.55 1.55 0 1 0 3.10 0a1.55 1.55 0 1 0 -3.10 0M225.9 677.4a1.55 1.55 0 1 0 3.10 0a1.55 1.55 0 1 0 -3.10 0M227.2 677.5a1.55 1.55 0 1 0 3.10 0a1.55 1.55 0 1 0 -3.10 0M228.4 677.5a1.55 1.55 0 1 0 3.10 0a1.55 1.55 0 1 0 -3.10 0M229.9 678.0a1.55 1.55 0 1 0 3.10 0a1.55 1.55 0 1 0 -3.10 0M231.4 678.5a1.55 1.55 0 1 0 3.10 0a1.55 1.55 0 1 0 -3.10 0M232.8 678.5a1.55 1.55 0 1 0 3.10 0a1.55 1.55 0 1 0 -3.10 0M234.1 678.5a1.55 1.55 0 1 0 3.10 0a1.55 1.55 0 1 0 -3.10 0M235.4 678.6a1.55 1.55 0 1 0 3.10 0a1.55 1.55 0 1 0 -3.10 0M236.7 678.6a1.55 1.55 0 1 0 3.10 0a1.55 1.55 0 1 0 -3.10 0M238.0 678.6a1.55 1.55 0 1 0 3.10 0a1.55 1.55 0 1 0 -3.10 0M239.3 678.6a1.55 1.55 0 1 0 3.10 0a1.55 1.55 0 1 0 -3.10 0M240.6 678.7a1.55 1.55 0 1 0 3.10 0a1.55 1.55 0 1 0 -3.10 0M241.9 678.7a1.55 1.55 0 1 0 3.10 0a1.55 1.55 0 1 0 -3.10 0M243.2 678.7a1.55 1.55 0 1 0 3.10 0a1.55 1.55 0 1 0 -3.10 0M244.5 678.7a1.55 1.55 0 1 0 3.10 0a1.55 1.55 0 1 0 -3.10 0M245.8 678.8a1.55 1.55 0 1 0 3.10 0a1.55 1.55 0 1 0 -3.10 0M247.1 678.8a1.55 1.55 0 1 0 3.10 0a1.55 1.55 0 1 0 -3.10 0M248.4 678.8a1.55 1.55 0 1 0 3.10 0a1.55 1.55 0 1 0 -3.10 0M249.7 678.5a1.55 1.55 0 1 0 3.10 0a1.55 1.55 0 1 0 -3.10 0M250.9 678.2a1.55 1.55 0 1 0 3.10 0a1.55 1.55 0 1 0 -3.10 0M252.2 677.9a1.55 1.55 0 1 0 3.10 0a1.55 1.55 0 1 0 -3.10 0M253.4 677.6a1.55 1.55 0 1 0 3.10 0a1.55 1.55 0 1 0 -3.10 0M254.7 677.6a1.55 1.55 0 1 0 3.10 0a1.55 1.55 0 1 0 -3.10 0M256.0 677.6a1.55 1.55 0 1 0 3.10 0a1.55 1.55 0 1 0 -3.10 0M257.3 677.6a1.55 1.55 0 1 0 3.10 0a1.55 1.55 0 1 0 -3.10 0M258.6 677.6a1.55 1.55 0 1 0 3.10 0a1.55 1.55 0 1 0 -3.10 0M259.9 677.6a1.55 1.55 0 1 0 3.10 0a1.55 1.55 0 1 0 -3.10 0M261.2 677.6a1.55 1.55 0 1 0 3.10 0a1.55 1.55 0 1 0 -3.10 0M262.4 677.6a1.55 1.55 0 1 0 3.10 0a1.55 1.55 0 1 0 -3.10 0M263.7 677.6a1.55 1.55 0 1 0 3.10 0a1.55 1.55 0 1 0 -3.10 0M265.0 677.6a1.55 1.55 0 1 0 3.10 0a1.55 1.55 0 1 0 -3.10 0M266.3 677.6a1.55 1.55 0 1 0 3.10 0a1.55 1.55 0 1 0 -3.10 0M267.6 677.6a1.55 1.55 0 1 0 3.10 0a1.55 1.55 0 1 0 -3.10 0M268.9 677.6a1.55 1.55 0 1 0 3.10 0a1.55 1.55 0 1 0 -3.10 0M270.2 677.6a1.55 1.55 0 1 0 3.10 0a1.55 1.55 0 1 0 -3.10 0M271.4 677.6a1.55 1.55 0 1 0 3.10 0a1.55 1.55 0 1 0 -3.10 0M272.7 677.6a1.55 1.55 0 1 0 3.10 0a1.55 1.55 0 1 0 -3.10 0M274.0 677.6a1.55 1.55 0 1 0 3.10 0a1.55 1.55 0 1 0 -3.10 0M275.3 677.6a1.55 1.55 0 1 0 3.10 0a1.55 1.55 0 1 0 -3.10 0M276.6 677.6a1.55 1.55 0 1 0 3.10 0a1.55 1.55 0 1 0 -3.10 0M277.9 677.6a1.55 1.55 0 1 0 3.10 0a1.55 1.55 0 1 0 -3.10 0M279.2 677.6a1.55 1.55 0 1 0 3.10 0a1.55 1.55 0 1 0 -3.10 0M280.4 677.6a1.55 1.55 0 1 0 3.10 0a1.55 1.55 0 1 0 -3.10 0M281.7 677.6a1.55 1.55 0 1 0 3.10 0a1.55 1.55 0 1 0 -3.10 0M283.0 677.6a1.55 1.55 0 1 0 3.10 0a1.55 1.55 0 1 0 -3.10 0M284.3 677.6a1.55 1.55 0 1 0 3.10 0a1.55 1.55 0 1 0 -3.10 0M285.6 677.6a1.55 1.55 0 1 0 3.10 0a1.55 1.55 0 1 0 -3.10 0M286.9 677.6a1.55 1.55 0 1 0 3.10 0a1.55 1.55 0 1 0 -3.10 0M288.2 677.6a1.55 1.55 0 1 0 3.10 0a1.55 1.55 0 1 0 -3.10 0M289.4 677.6a1.55 1.55 0 1 0 3.10 0a1.55 1.55 0 1 0 -3.10 0M290.7 677.6a1.55 1.55 0 1 0 3.10 0a1.55 1.55 0 1 0 -3.10 0M292.0 677.6a1.55 1.55 0 1 0 3.10 0a1.55 1.55 0 1 0 -3.10 0M293.3 677.6a1.55 1.55 0 1 0 3.10 0a1.55 1.55 0 1 0 -3.10 0M294.6 677.6a1.55 1.55 0 1 0 3.10 0a1.55 1.55 0 1 0 -3.10 0M295.9 677.6a1.55 1.55 0 1 0 3.10 0a1.55 1.55 0 1 0 -3.10 0M297.2 677.6a1.55 1.55 0 1 0 3.10 0a1.55 1.55 0 1 0 -3.10 0M298.4 677.6a1.55 1.55 0 1 0 3.10 0a1.55 1.55 0 1 0 -3.10 0M299.7 677.8a1.55 1.55 0 1 0 3.10 0a1.55 1.55 0 1 0 -3.10 0M300.9 678.0a1.55 1.55 0 1 0 3.10 0a1.55 1.55 0 1 0 -3.10 0M302.2 678.3a1.55 1.55 0 1 0 3.10 0a1.55 1.55 0 1 0 -3.10 0M303.4 678.5a1.55 1.55 0 1 0 3.10 0a1.55 1.55 0 1 0 -3.10 0M304.7 678.5a1.55 1.55 0 1 0 3.10 0a1.55 1.55 0 1 0 -3.10 0M305.9 678.5a1.55 1.55 0 1 0 3.10 0a1.55 1.55 0 1 0 -3.10 0M307.2 678.4a1.55 1.55 0 1 0 3.10 0a1.55 1.55 0 1 0 -3.10 0M308.4 678.4a1.55 1.55 0 1 0 3.10 0a1.55 1.55 0 1 0 -3.10 0M309.7 678.4a1.55 1.55 0 1 0 3.10 0a1.55 1.55 0 1 0 -3.10 0M310.9 678.4a1.55 1.55 0 1 0 3.10 0a1.55 1.55 0 1 0 -3.10 0M312.2 678.3a1.55 1.55 0 1 0 3.10 0a1.55 1.55 0 1 0 -3.10 0M313.4 678.3a1.55 1.55 0 1 0 3.10 0a1.55 1.55 0 1 0 -3.10 0M314.7 678.3a1.55 1.55 0 1 0 3.10 0a1.55 1.55 0 1 0 -3.10 0M315.9 678.2a1.55 1.55 0 1 0 3.10 0a1.55 1.55 0 1 0 -3.10 0M317.2 678.2a1.55 1.55 0 1 0 3.10 0a1.55 1.55 0 1 0 -3.10 0M318.4 678.2a1.55 1.55 0 1 0 3.10 0a1.55 1.55 0 1 0 -3.10 0M319.7 678.2a1.55 1.55 0 1 0 3.10 0a1.55 1.55 0 1 0 -3.10 0M320.9 678.2a1.55 1.55 0 1 0 3.10 0a1.55 1.55 0 1 0 -3.10 0M322.2 678.2a1.55 1.55 0 1 0 3.10 0a1.55 1.55 0 1 0 -3.10 0M323.4 678.2a1.55 1.55 0 1 0 3.10 0a1.55 1.55 0 1 0 -3.10 0M324.7 678.1a1.55 1.55 0 1 0 3.10 0a1.55 1.55 0 1 0 -3.10 0M325.9 678.1a1.55 1.55 0 1 0 3.10 0a1.55 1.55 0 1 0 -3.10 0M327.2 678.1a1.55 1.55 0 1 0 3.10 0a1.55 1.55 0 1 0 -3.10 0M328.4 678.1a1.55 1.55 0 1 0 3.10 0a1.55 1.55 0 1 0 -3.10 0M329.7 678.1a1.55 1.55 0 1 0 3.10 0a1.55 1.55 0 1 0 -3.10 0M331.0 678.1a1.55 1.55 0 1 0 3.10 0a1.55 1.55 0 1 0 -3.10 0M332.3 678.1a1.55 1.55 0 1 0 3.10 0a1.55 1.55 0 1 0 -3.10 0M333.6 678.1a1.55 1.55 0 1 0 3.10 0a1.55 1.55 0 1 0 -3.10 0M334.9 678.1a1.55 1.55 0 1 0 3.10 0a1.55 1.55 0 1 0 -3.10 0M336.2 678.1a1.55 1.55 0 1 0 3.10 0a1.55 1.55 0 1 0 -3.10 0M337.5 678.1a1.55 1.55 0 1 0 3.10 0a1.55 1.55 0 1 0 -3.10 0M338.8 678.1a1.55 1.55 0 1 0 3.10 0a1.55 1.55 0 1 0 -3.10 0M340.1 678.2a1.55 1.55 0 1 0 3.10 0a1.55 1.55 0 1 0 -3.10 0M341.4 678.2a1.55 1.55 0 1 0 3.10 0a1.55 1.55 0 1 0 -3.10 0M342.7 678.2a1.55 1.55 0 1 0 3.10 0a1.55 1.55 0 1 0 -3.10 0M344.0 678.2a1.55 1.55 0 1 0 3.10 0a1.55 1.55 0 1 0 -3.10 0M345.3 678.2a1.55 1.55 0 1 0 3.10 0a1.55 1.55 0 1 0 -3.10 0M346.6 678.2a1.55 1.55 0 1 0 3.10 0a1.55 1.55 0 1 0 -3.10 0M347.9 678.2a1.55 1.55 0 1 0 3.10 0a1.55 1.55 0 1 0 -3.10 0M349.2 678.2a1.55 1.55 0 1 0 3.10 0a1.55 1.55 0 1 0 -3.10 0M350.4 678.2a1.55 1.55 0 1 0 3.10 0a1.55 1.55 0 1 0 -3.10 0M351.7 678.2a1.55 1.55 0 1 0 3.10 0a1.55 1.55 0 1 0 -3.10 0M353.0 678.2a1.55 1.55 0 1 0 3.10 0a1.55 1.55 0 1 0 -3.10 0M354.3 678.2a1.55 1.55 0 1 0 3.10 0a1.55 1.55 0 1 0 -3.10 0M355.6 678.2a1.55 1.55 0 1 0 3.10 0a1.55 1.55 0 1 0 -3.10 0M356.9 678.2a1.55 1.55 0 1 0 3.10 0a1.55 1.55 0 1 0 -3.10 0M358.2 678.2a1.55 1.55 0 1 0 3.10 0a1.55 1.55 0 1 0 -3.10 0M359.5 678.2a1.55 1.55 0 1 0 3.10 0a1.55 1.55 0 1 0 -3.10 0M360.8 678.2a1.55 1.55 0 1 0 3.10 0a1.55 1.55 0 1 0 -3.10 0M362.1 678.3a1.55 1.55 0 1 0 3.10 0a1.55 1.55 0 1 0 -3.10 0M363.4 678.3a1.55 1.55 0 1 0 3.10 0a1.55 1.55 0 1 0 -3.10 0M364.7 678.3a1.55 1.55 0 1 0 3.10 0a1.55 1.55 0 1 0 -3.10 0M366.0 678.3a1.55 1.55 0 1 0 3.10 0a1.55 1.55 0 1 0 -3.10 0M367.3 678.3a1.55 1.55 0 1 0 3.10 0a1.55 1.55 0 1 0 -3.10 0M368.6 678.3a1.55 1.55 0 1 0 3.10 0a1.55 1.55 0 1 0 -3.10 0M369.9 678.3a1.55 1.55 0 1 0 3.10 0a1.55 1.55 0 1 0 -3.10 0M371.2 678.3a1.55 1.55 0 1 0 3.10 0a1.55 1.55 0 1 0 -3.10 0M372.4 678.3a1.55 1.55 0 1 0 3.10 0a1.55 1.55 0 1 0 -3.10 0M373.7 678.3a1.55 1.55 0 1 0 3.10 0a1.55 1.55 0 1 0 -3.10 0M375.0 678.3a1.55 1.55 0 1 0 3.10 0a1.55 1.55 0 1 0 -3.10 0M376.3 678.4a1.55 1.55 0 1 0 3.10 0a1.55 1.55 0 1 0 -3.10 0M377.6 678.4a1.55 1.55 0 1 0 3.10 0a1.55 1.55 0 1 0 -3.10 0M378.9 678.4a1.55 1.55 0 1 0 3.10 0a1.55 1.55 0 1 0 -3.10 0M380.2 678.4a1.55 1.55 0 1 0 3.10 0a1.55 1.55 0 1 0 -3.10 0M381.4 678.4a1.55 1.55 0 1 0 3.10 0a1.55 1.55 0 1 0 -3.10 0M382.7 678.5a1.55 1.55 0 1 0 3.10 0a1.55 1.55 0 1 0 -3.10 0M384.0 678.5a1.55 1.55 0 1 0 3.10 0a1.55 1.55 0 1 0 -3.10 0M385.3 678.5a1.55 1.55 0 1 0 3.10 0a1.55 1.55 0 1 0 -3.10 0M386.6 678.5a1.55 1.55 0 1 0 3.10 0a1.55 1.55 0 1 0 -3.10 0M387.9 678.5a1.55 1.55 0 1 0 3.10 0a1.55 1.55 0 1 0 -3.10 0M389.2 678.5a1.55 1.55 0 1 0 3.10 0a1.55 1.55 0 1 0 -3.10 0M390.4 678.6a1.55 1.55 0 1 0 3.10 0a1.55 1.55 0 1 0 -3.10 0M391.7 678.6a1.55 1.55 0 1 0 3.10 0a1.55 1.55 0 1 0 -3.10 0M393.0 678.6a1.55 1.55 0 1 0 3.10 0a1.55 1.55 0 1 0 -3.10 0M394.3 678.6a1.55 1.55 0 1 0 3.10 0a1.55 1.55 0 1 0 -3.10 0M395.6 678.6a1.55 1.55 0 1 0 3.10 0a1.55 1.55 0 1 0 -3.10 0M396.9 678.7a1.55 1.55 0 1 0 3.10 0a1.55 1.55 0 1 0 -3.10 0M398.2 678.7a1.55 1.55 0 1 0 3.10 0a1.55 1.55 0 1 0 -3.10 0M399.4 678.7a1.55 1.55 0 1 0 3.10 0a1.55 1.55 0 1 0 -3.10 0M400.7 678.7a1.55 1.55 0 1 0 3.10 0a1.55 1.55 0 1 0 -3.10 0M402.0 678.7a1.55 1.55 0 1 0 3.10 0a1.55 1.55 0 1 0 -3.10 0M403.3 678.8a1.55 1.55 0 1 0 3.10 0a1.55 1.55 0 1 0 -3.10 0M404.6 678.8a1.55 1.55 0 1 0 3.10 0a1.55 1.55 0 1 0 -3.10 0M405.9 678.8a1.55 1.55 0 1 0 3.10 0a1.55 1.55 0 1 0 -3.10 0M407.2 678.8a1.55 1.55 0 1 0 3.10 0a1.55 1.55 0 1 0 -3.10 0M408.4 678.8a1.55 1.55 0 1 0 3.10 0a1.55 1.55 0 1 0 -3.10 0M409.7 678.9a1.55 1.55 0 1 0 3.10 0a1.55 1.55 0 1 0 -3.10 0M411.0 678.9a1.55 1.55 0 1 0 3.10 0a1.55 1.55 0 1 0 -3.10 0M412.3 678.9a1.55 1.55 0 1 0 3.10 0a1.55 1.55 0 1 0 -3.10 0M413.6 678.9a1.55 1.55 0 1 0 3.10 0a1.55 1.55 0 1 0 -3.10 0M414.9 678.9a1.55 1.55 0 1 0 3.10 0a1.55 1.55 0 1 0 -3.10 0M416.2 678.9a1.55 1.55 0 1 0 3.10 0a1.55 1.55 0 1 0 -3.10 0M417.4 679.0a1.55 1.55 0 1 0 3.10 0a1.55 1.55 0 1 0 -3.10 0M418.7 679.0a1.55 1.55 0 1 0 3.10 0a1.55 1.55 0 1 0 -3.10 0M420.0 679.0a1.55 1.55 0 1 0 3.10 0a1.55 1.55 0 1 0 -3.10 0M421.3 679.0a1.55 1.55 0 1 0 3.10 0a1.55 1.55 0 1 0 -3.10 0M422.6 679.0a1.55 1.55 0 1 0 3.10 0a1.55 1.55 0 1 0 -3.10 0M423.9 679.1a1.55 1.55 0 1 0 3.10 0a1.55 1.55 0 1 0 -3.10 0M425.2 679.1a1.55 1.55 0 1 0 3.10 0a1.55 1.55 0 1 0 -3.10 0M426.4 679.1a1.55 1.55 0 1 0 3.10 0a1.55 1.55 0 1 0 -3.10 0M427.7 679.1a1.55 1.55 0 1 0 3.10 0a1.55 1.55 0 1 0 -3.10 0M429.0 679.1a1.55 1.55 0 1 0 3.10 0a1.55 1.55 0 1 0 -3.10 0M430.3 679.1a1.55 1.55 0 1 0 3.10 0a1.55 1.55 0 1 0 -3.10 0M431.6 679.1a1.55 1.55 0 1 0 3.10 0a1.55 1.55 0 1 0 -3.10 0M432.9 679.1a1.55 1.55 0 1 0 3.10 0a1.55 1.55 0 1 0 -3.10 0M434.2 679.1a1.55 1.55 0 1 0 3.10 0a1.55 1.55 0 1 0 -3.10 0M435.5 679.1a1.55 1.55 0 1 0 3.10 0a1.55 1.55 0 1 0 -3.10 0M436.8 679.1a1.55 1.55 0 1 0 3.10 0a1.55 1.55 0 1 0 -3.10 0M438.1 679.1a1.55 1.55 0 1 0 3.10 0a1.55 1.55 0 1 0 -3.10 0M439.4 679.1a1.55 1.55 0 1 0 3.10 0a1.55 1.55 0 1 0 -3.10 0M440.6 679.1a1.55 1.55 0 1 0 3.10 0a1.55 1.55 0 1 0 -3.10 0M441.9 679.1a1.55 1.55 0 1 0 3.10 0a1.55 1.55 0 1 0 -3.10 0M443.2 679.1a1.55 1.55 0 1 0 3.10 0a1.55 1.55 0 1 0 -3.10 0M444.5 679.1a1.55 1.55 0 1 0 3.10 0a1.55 1.55 0 1 0 -3.10 0M445.8 679.1a1.55 1.55 0 1 0 3.10 0a1.55 1.55 0 1 0 -3.10 0M447.1 679.1a1.55 1.55 0 1 0 3.10 0a1.55 1.55 0 1 0 -3.10 0M448.4 679.1a1.55 1.55 0 1 0 3.10 0a1.55 1.55 0 1 0 -3.10 0M449.7 679.1a1.55 1.55 0 1 0 3.10 0a1.55 1.55 0 1 0 -3.10 0M451.0 679.1a1.55 1.55 0 1 0 3.10 0a1.55 1.55 0 1 0 -3.10 0M452.3 679.1a1.55 1.55 0 1 0 3.10 0a1.55 1.55 0 1 0 -3.10 0M453.6 679.1a1.55 1.55 0 1 0 3.10 0a1.55 1.55 0 1 0 -3.10 0M454.8 679.1a1.55 1.55 0 1 0 3.10 0a1.55 1.55 0 1 0 -3.10 0M456.1 679.1a1.55 1.55 0 1 0 3.10 0a1.55 1.55 0 1 0 -3.10 0M457.4 679.1a1.55 1.55 0 1 0 3.10 0a1.55 1.55 0 1 0 -3.10 0M458.7 679.1a1.55 1.55 0 1 0 3.10 0a1.55 1.55 0 1 0 -3.10 0M460.0 679.1a1.55 1.55 0 1 0 3.10 0a1.55 1.55 0 1 0 -3.10 0M461.3 679.1a1.55 1.55 0 1 0 3.10 0a1.55 1.55 0 1 0 -3.10 0M462.6 679.2a1.55 1.55 0 1 0 3.10 0a1.55 1.55 0 1 0 -3.10 0M463.9 679.2a1.55 1.55 0 1 0 3.10 0a1.55 1.55 0 1 0 -3.10 0M465.2 679.2a1.55 1.55 0 1 0 3.10 0a1.55 1.55 0 1 0 -3.10 0M466.5 679.2a1.55 1.55 0 1 0 3.10 0a1.55 1.55 0 1 0 -3.10 0M467.8 679.2a1.55 1.55 0 1 0 3.10 0a1.55 1.55 0 1 0 -3.10 0M469.1 679.2a1.55 1.55 0 1 0 3.10 0a1.55 1.55 0 1 0 -3.10 0M470.3 679.2a1.55 1.55 0 1 0 3.10 0a1.55 1.55 0 1 0 -3.10 0M471.6 679.2a1.55 1.55 0 1 0 3.10 0a1.55 1.55 0 1 0 -3.10 0M472.9 679.2a1.55 1.55 0 1 0 3.10 0a1.55 1.55 0 1 0 -3.10 0M474.2 679.2a1.55 1.55 0 1 0 3.10 0a1.55 1.55 0 1 0 -3.10 0M475.5 679.2a1.55 1.55 0 1 0 3.10 0a1.55 1.55 0 1 0 -3.10 0M476.8 679.2a1.55 1.55 0 1 0 3.10 0a1.55 1.55 0 1 0 -3.10 0M478.1 679.2a1.55 1.55 0 1 0 3.10 0a1.55 1.55 0 1 0 -3.10 0M479.4 679.2a1.55 1.55 0 1 0 3.10 0a1.55 1.55 0 1 0 -3.10 0M480.7 679.2a1.55 1.55 0 1 0 3.10 0a1.55 1.55 0 1 0 -3.10 0M482.0 679.2a1.55 1.55 0 1 0 3.10 0a1.55 1.55 0 1 0 -3.10 0M483.2 679.2a1.55 1.55 0 1 0 3.10 0a1.55 1.55 0 1 0 -3.10 0M484.5 679.2a1.55 1.55 0 1 0 3.10 0a1.55 1.55 0 1 0 -3.10 0M485.8 679.2a1.55 1.55 0 1 0 3.10 0a1.55 1.55 0 1 0 -3.10 0M487.1 679.2a1.55 1.55 0 1 0 3.10 0a1.55 1.55 0 1 0 -3.10 0M488.4 679.2a1.55 1.55 0 1 0 3.10 0a1.55 1.55 0 1 0 -3.10 0M489.7 679.2a1.55 1.55 0 1 0 3.10 0a1.55 1.55 0 1 0 -3.10 0M491.0 679.2a1.55 1.55 0 1 0 3.10 0a1.55 1.55 0 1 0 -3.10 0M492.3 679.2a1.55 1.55 0 1 0 3.10 0a1.55 1.55 0 1 0 -3.10 0M493.6 679.2a1.55 1.55 0 1 0 3.10 0a1.55 1.55 0 1 0 -3.10 0M494.9 679.2a1.55 1.55 0 1 0 3.10 0a1.55 1.55 0 1 0 -3.10 0M496.2 679.2a1.55 1.55 0 1 0 3.10 0a1.55 1.55 0 1 0 -3.10 0M497.4 679.2a1.55 1.55 0 1 0 3.10 0a1.55 1.55 0 1 0 -3.10 0"/>
<path fill="#007800" d="M67.7 644.5a1.8 1.8 0 1 0 3.60 0a1.8 1.8 0 1 0 -3.60 0M68.7 641.2a1.8 1.8 0 1 0 3.60 0a1.8 1.8 0 1 0 -3.60 0M70.2 638.0a1.8 1.8 0 1 0 3.60 0a1.8 1.8 0 1 0 -3.60 0M72.0 635.0a1.8 1.8 0 1 0 3.60 0a1.8 1.8 0 1 0 -3.60 0M72.8 633.8a1.8 1.8 0 1 0 3.60 0a1.8 1.8 0 1 0 -3.60 0M73.7 632.5a1.8 1.8 0 1 0 3.60 0a1.8 1.8 0 1 0 -3.60 0M74.7 631.2a1.8 1.8 0 1 0 3.60 0a1.8 1.8 0 1 0 -3.60 0M75.7 630.0a1.8 1.8 0 1 0 3.60 0a1.8 1.8 0 1 0 -3.60 0M78.2 627.0a1.8 1.8 0 1 0 3.60 0a1.8 1.8 0 1 0 -3.60 0M80.7 623.8a1.8 1.8 0 1 0 3.60 0a1.8 1.8 0 1 0 -3.60 0M82.0 622.5a1.8 1.8 0 1 0 3.60 0a1.8 1.8 0 1 0 -3.60 0M83.2 621.2a1.8 1.8 0 1 0 3.60 0a1.8 1.8 0 1 0 -3.60 0M84.5 620.0a1.8 1.8 0 1 0 3.60 0a1.8 1.8 0 1 0 -3.60 0M85.7 618.8a1.8 1.8 0 1 0 3.60 0a1.8 1.8 0 1 0 -3.60 0M87.0 617.9a1.8 1.8 0 1 0 3.60 0a1.8 1.8 0 1 0 -3.60 0M88.2 617.0a1.8 1.8 0 1 0 3.60 0a1.8 1.8 0 1 0 -3.60 0M89.5 616.2a1.8 1.8 0 1 0 3.60 0a1.8 1.8 0 1 0 -3.60 0M90.7 615.5a1.8 1.8 0 1 0 3.60 0a1.8 1.8 0 1 0 -3.60 0M93.2 615.0a1.8 1.8 0 1 0 3.60 0a1.8 1.8 0 1 0 -3.60 0M95.7 614.5a1.8 1.8 0 1 0 3.60 0a1.8 1.8 0 1 0 -3.60 0M98.2 615.0a1.8 1.8 0 1 0 3.60 0a1.8 1.8 0 1 0 -3.60 0M100.7 615.5a1.8 1.8 0 1 0 3.60 0a1.8 1.8 0 1 0 -3.60 0M103.2 616.2a1.8 1.8 0 1 0 3.60 0a1.8 1.8 0 1 0 -3.60 0M105.7 617.5a1.8 1.8 0 1 0 3.60 0a1.8 1.8 0 1 0 -3.60 0M107.0 618.5a1.8 1.8 0 1 0 3.60 0a1.8 1.8 0 1 0 -3.60 0M108.2 619.5a1.8 1.8 0 1 0 3.60 0a1.8 1.8 0 1 0 -3.60 0M110.0 621.2a1.8 1.8 0 1 0 3.60 0a1.8 1.8 0 1 0 -3.60 0M112.0 620.0a1.8 1.8 0 1 0 3.60 0a1.8 1.8 0 1 0 -3.60 0M114.5 619.2a1.8 1.8 0 1 0 3.60 0a1.8 1.8 0 1 0 -3.60 0M116.3 619.0a1.8 1.8 0 1 0 3.60 0a1.8 1.8 0 1 0 -3.60 0M118.2 618.8a1.8 1.8 0 1 0 3.60 0a1.8 1.8 0 1 0 -3.60 0M120.1 618.8a1.8 1.8 0 1 0 3.60 0a1.8 1.8 0 1 0 -3.60 0M122.0 618.8a1.8 1.8 0 1 0 3.60 0a1.8 1.8 0 1 0 -3.60 0M123.8 618.6a1.8 1.8 0 1 0 3.60 0a1.8 1.8 0 1 0 -3.60 0M125.7 618.5a1.8 1.8 0 1 0 3.60 0a1.8 1.8 0 1 0 -3.60 0M127.2 619.2a1.8 1.8 0 1 0 3.60 0a1.8 1.8 0 1 0 -3.60 0M128.7 620.0a1.8 1.8 0 1 0 3.60 0a1.8 1.8 0 1 0 -3.60 0M130.7 618.2a1.8 1.8 0 1 0 3.60 0a1.8 1.8 0 1 0 -3.60 0M132.6 618.1a1.8 1.8 0 1 0 3.60 0a1.8 1.8 0 1 0 -3.60 0M134.4 618.0a1.8 1.8 0 1 0 3.60 0a1.8 1.8 0 1 0 -3.60 0M136.3 617.8a1.8 1.8 0 1 0 3.60 0a1.8 1.8 0 1 0 -3.60 0M138.2 617.5a1.8 1.8 0 1 0 3.60 0a1.8 1.8 0 1 0 -3.60 0M140.1 617.5a1.8 1.8 0 1 0 3.60 0a1.8 1.8 0 1 0 -3.60 0M141.9 617.5a1.8 1.8 0 1 0 3.60 0a1.8 1.8 0 1 0 -3.60 0M143.8 617.2a1.8 1.8 0 1 0 3.60 0a1.8 1.8 0 1 0 -3.60 0M145.7 617.0a1.8 1.8 0 1 0 3.60 0a1.8 1.8 0 1 0 -3.60 0M147.6 617.2a1.8 1.8 0 1 0 3.60 0a1.8 1.8 0 1 0 -3.60 0M149.4 617.5a1.8 1.8 0 1 0 3.60 0a1.8 1.8 0 1 0 -3.60 0M151.3 617.8a1.8 1.8 0 1 0 3.60 0a1.8 1.8 0 1 0 -3.60 0M153.2 618.0a1.8 1.8 0 1 0 3.60 0a1.8 1.8 0 1 0 -3.60 0M155.1 618.4a1.8 1.8 0 1 0 3.60 0a1.8 1.8 0 1 0 -3.60 0M156.9 618.8a1.8 1.8 0 1 0 3.60 0a1.8 1.8 0 1 0 -3.60 0M159.4 620.0a1.8 1.8 0 1 0 3.60 0a1.8 1.8 0 1 0 -3.60 0M166.9 623.8a1.8 1.8 0 1 0 3.60 0a1.8 1.8 0 1 0 -3.60 0M168.2 625.5a1.8 1.8 0 1 0 3.60 0a1.8 1.8 0 1 0 -3.60 0M176.9 626.2a1.8 1.8 0 1 0 3.60 0a1.8 1.8 0 1 0 -3.60 0M178.8 625.9a1.8 1.8 0 1 0 3.60 0a1.8 1.8 0 1 0 -3.60 0M180.7 625.5a1.8 1.8 0 1 0 3.60 0a1.8 1.8 0 1 0 -3.60 0M183.4 625.7a1.8 1.8 0 1 0 3.60 0a1.8 1.8 0 1 0 -3.60 0M187.5 625.7a1.8 1.8 0 1 0 3.60 0a1.8 1.8 0 1 0 -3.60 0M189.7 626.3a1.8 1.8 0 1 0 3.60 0a1.8 1.8 0 1 0 -3.60 0M192.0 627.0a1.8 1.8 0 1 0 3.60 0a1.8 1.8 0 1 0 -3.60 0M194.2 628.0a1.8 1.8 0 1 0 3.60 0a1.8 1.8 0 1 0 -3.60 0M196.0 629.5a1.8 1.8 0 1 0 3.60 0a1.8 1.8 0 1 0 -3.60 0M197.7 630.8a1.8 1.8 0 1 0 3.60 0a1.8 1.8 0 1 0 -3.60 0M199.4 631.8a1.8 1.8 0 1 0 3.60 0a1.8 1.8 0 1 0 -3.60 0M201.4 632.3a1.8 1.8 0 1 0 3.60 0a1.8 1.8 0 1 0 -3.60 0M165.7 634.2a1.8 1.8 0 1 0 3.60 0a1.8 1.8 0 1 0 -3.60 0M163.2 638.8a1.8 1.8 0 1 0 3.60 0a1.8 1.8 0 1 0 -3.60 0M160.7 658.8a1.8 1.8 0 1 0 3.60 0a1.8 1.8 0 1 0 -3.60 0M170.7 656.2a1.8 1.8 0 1 0 3.60 0a1.8 1.8 0 1 0 -3.60 0M172.2 656.6a1.8 1.8 0 1 0 3.60 0a1.8 1.8 0 1 0 -3.60 0M173.7 657.0a1.8 1.8 0 1 0 3.60 0a1.8 1.8 0 1 0 -3.60 0M172.7 662.5a1.8 1.8 0 1 0 3.60 0a1.8 1.8 0 1 0 -3.60 0M186.9 667.0a1.8 1.8 0 1 0 3.60 0a1.8 1.8 0 1 0 -3.60 0M197.0 635.5a1.8 1.8 0 1 0 3.60 0a1.8 1.8 0 1 0 -3.60 0M175.1 643.8a1.8 1.8 0 1 0 3.60 0a1.8 1.8 0 1 0 -3.60 0M229.3 646.9a1.8 1.8 0 1 0 3.60 0a1.8 1.8 0 1 0 -3.60 0M209.4 629.5a1.8 1.8 0 1 0 3.60 0a1.8 1.8 0 1 0 -3.60 0M211.9 630.0a1.8 1.8 0 1 0 3.60 0a1.8 1.8 0 1 0 -3.60 0M213.8 630.4a1.8 1.8 0 1 0 3.60 0a1.8 1.8 0 1 0 -3.60 0M215.7 630.8a1.8 1.8 0 1 0 3.60 0a1.8 1.8 0 1 0 -3.60 0M217.6 631.2a1.8 1.8 0 1 0 3.60 0a1.8 1.8 0 1 0 -3.60 0M219.4 631.8a1.8 1.8 0 1 0 3.60 0a1.8 1.8 0 1 0 -3.60 0M221.3 632.5a1.8 1.8 0 1 0 3.60 0a1.8 1.8 0 1 0 -3.60 0M223.2 633.2a1.8 1.8 0 1 0 3.60 0a1.8 1.8 0 1 0 -3.60 0M225.1 634.1a1.8 1.8 0 1 0 3.60 0a1.8 1.8 0 1 0 -3.60 0M226.9 635.0a1.8 1.8 0 1 0 3.60 0a1.8 1.8 0 1 0 -3.60 0M229.4 635.8a1.8 1.8 0 1 0 3.60 0a1.8 1.8 0 1 0 -3.60 0M202.4 647.0a1.8 1.8 0 1 0 3.60 0a1.8 1.8 0 1 0 -3.60 0M207.7 653.0a1.8 1.8 0 1 0 3.60 0a1.8 1.8 0 1 0 -3.60 0M208.2 657.0a1.8 1.8 0 1 0 3.60 0a1.8 1.8 0 1 0 -3.60 0M203.9 658.2a1.8 1.8 0 1 0 3.60 0a1.8 1.8 0 1 0 -3.60 0M206.2 668.8a1.8 1.8 0 1 0 3.60 0a1.8 1.8 0 1 0 -3.60 0M184.4 675.5a1.8 1.8 0 1 0 3.60 0a1.8 1.8 0 1 0 -3.60 0M230.7 666.2a1.8 1.8 0 1 0 3.60 0a1.8 1.8 0 1 0 -3.60 0M231.4 670.0a1.8 1.8 0 1 0 3.60 0a1.8 1.8 0 1 0 -3.60 0M232.9 669.4a1.8 1.8 0 1 0 3.60 0a1.8 1.8 0 1 0 -3.60 0M234.4 668.8a1.8 1.8 0 1 0 3.60 0a1.8 1.8 0 1 0 -3.60 0M241.4 667.0a1.8 1.8 0 1 0 3.60 0a1.8 1.8 0 1 0 -3.60 0M259.4 649.5a1.8 1.8 0 1 0 3.60 0a1.8 1.8 0 1 0 -3.60 0M257.7 655.0a1.8 1.8 0 1 0 3.60 0a1.8 1.8 0 1 0 -3.60 0M253.7 667.5a1.8 1.8 0 1 0 3.60 0a1.8 1.8 0 1 0 -3.60 0M251.9 674.5a1.8 1.8 0 1 0 3.60 0a1.8 1.8 0 1 0 -3.60 0M260.7 641.2a1.8 1.8 0 1 0 3.60 0a1.8 1.8 0 1 0 -3.60 0M262.6 640.9a1.8 1.8 0 1 0 3.60 0a1.8 1.8 0 1 0 -3.60 0M264.4 640.5a1.8 1.8 0 1 0 3.60 0a1.8 1.8 0 1 0 -3.60 0M266.3 640.0a1.8 1.8 0 1 0 3.60 0a1.8 1.8 0 1 0 -3.60 0M268.2 639.5a1.8 1.8 0 1 0 3.60 0a1.8 1.8 0 1 0 -3.60 0M270.1 639.8a1.8 1.8 0 1 0 3.60 0a1.8 1.8 0 1 0 -3.60 0M271.9 640.0a1.8 1.8 0 1 0 3.60 0a1.8 1.8 0 1 0 -3.60 0M273.8 640.2a1.8 1.8 0 1 0 3.60 0a1.8 1.8 0 1 0 -3.60 0M275.7 640.5a1.8 1.8 0 1 0 3.60 0a1.8 1.8 0 1 0 -3.60 0M277.6 640.9a1.8 1.8 0 1 0 3.60 0a1.8 1.8 0 1 0 -3.60 0M279.4 641.2a1.8 1.8 0 1 0 3.60 0a1.8 1.8 0 1 0 -3.60 0M281.3 641.6a1.8 1.8 0 1 0 3.60 0a1.8 1.8 0 1 0 -3.60 0M283.2 642.0a1.8 1.8 0 1 0 3.60 0a1.8 1.8 0 1 0 -3.60 0M285.1 642.5a1.8 1.8 0 1 0 3.60 0a1.8 1.8 0 1 0 -3.60 0M286.9 643.0a1.8 1.8 0 1 0 3.60 0a1.8 1.8 0 1 0 -3.60 0M289.4 643.8a1.8 1.8 0 1 0 3.60 0a1.8 1.8 0 1 0 -3.60 0M291.4 647.5a1.8 1.8 0 1 0 3.60 0a1.8 1.8 0 1 0 -3.60 0M293.2 656.2a1.8 1.8 0 1 0 3.60 0a1.8 1.8 0 1 0 -3.60 0M295.7 657.5a1.8 1.8 0 1 0 3.60 0a1.8 1.8 0 1 0 -3.60 0M296.9 658.8a1.8 1.8 0 1 0 3.60 0a1.8 1.8 0 1 0 -3.60 0M298.2 660.0a1.8 1.8 0 1 0 3.60 0a1.8 1.8 0 1 0 -3.60 0M299.4 662.5a1.8 1.8 0 1 0 3.60 0a1.8 1.8 0 1 0 -3.60 0M319.4 665.0a1.8 1.8 0 1 0 3.60 0a1.8 1.8 0 1 0 -3.60 0M321.9 663.8a1.8 1.8 0 1 0 3.60 0a1.8 1.8 0 1 0 -3.60 0M324.4 663.0a1.8 1.8 0 1 0 3.60 0a1.8 1.8 0 1 0 -3.60 0M325.7 662.1a1.8 1.8 0 1 0 3.60 0a1.8 1.8 0 1 0 -3.60 0M326.9 661.2a1.8 1.8 0 1 0 3.60 0a1.8 1.8 0 1 0 -3.60 0M329.4 660.0a1.8 1.8 0 1 0 3.60 0a1.8 1.8 0 1 0 -3.60 0M331.2 662.0a1.8 1.8 0 1 0 3.60 0a1.8 1.8 0 1 0 -3.60 0M331.9 667.5a1.8 1.8 0 1 0 3.60 0a1.8 1.8 0 1 0 -3.60 0M334.4 657.0a1.8 1.8 0 1 0 3.60 0a1.8 1.8 0 1 0 -3.60 0M336.9 656.2a1.8 1.8 0 1 0 3.60 0a1.8 1.8 0 1 0 -3.60 0M338.2 655.0a1.8 1.8 0 1 0 3.60 0a1.8 1.8 0 1 0 -3.60 0M339.4 653.8a1.8 1.8 0 1 0 3.60 0a1.8 1.8 0 1 0 -3.60 0M341.9 652.5a1.8 1.8 0 1 0 3.60 0a1.8 1.8 0 1 0 -3.60 0M344.4 652.0a1.8 1.8 0 1 0 3.60 0a1.8 1.8 0 1 0 -3.60 0M346.9 653.0a1.8 1.8 0 1 0 3.60 0a1.8 1.8 0 1 0 -3.60 0M348.2 654.0a1.8 1.8 0 1 0 3.60 0a1.8 1.8 0 1 0 -3.60 0M349.4 655.0a1.8 1.8 0 1 0 3.60 0a1.8 1.8 0 1 0 -3.60 0M350.7 656.2a1.8 1.8 0 1 0 3.60 0a1.8 1.8 0 1 0 -3.60 0M351.9 657.5a1.8 1.8 0 1 0 3.60 0a1.8 1.8 0 1 0 -3.60 0M353.7 667.0a1.8 1.8 0 1 0 3.60 0a1.8 1.8 0 1 0 -3.60 0M355.7 657.0a1.8 1.8 0 1 0 3.60 0a1.8 1.8 0 1 0 -3.60 0M358.2 656.2a1.8 1.8 0 1 0 3.60 0a1.8 1.8 0 1 0 -3.60 0M359.4 657.5a1.8 1.8 0 1 0 3.60 0a1.8 1.8 0 1 0 -3.60 0M360.7 658.8a1.8 1.8 0 1 0 3.60 0a1.8 1.8 0 1 0 -3.60 0M361.7 660.0a1.8 1.8 0 1 0 3.60 0a1.8 1.8 0 1 0 -3.60 0M362.7 661.2a1.8 1.8 0 1 0 3.60 0a1.8 1.8 0 1 0 -3.60 0M363.6 662.5a1.8 1.8 0 1 0 3.60 0a1.8 1.8 0 1 0 -3.60 0M364.4 663.8a1.8 1.8 0 1 0 3.60 0a1.8 1.8 0 1 0 -3.60 0M366.9 667.0a1.8 1.8 0 1 0 3.60 0a1.8 1.8 0 1 0 -3.60 0M369.4 670.0a1.8 1.8 0 1 0 3.60 0a1.8 1.8 0 1 0 -3.60 0M371.9 673.8a1.8 1.8 0 1 0 3.60 0a1.8 1.8 0 1 0 -3.60 0M373.2 675.0a1.8 1.8 0 1 0 3.60 0a1.8 1.8 0 1 0 -3.60 0M374.4 676.2a1.8 1.8 0 1 0 3.60 0a1.8 1.8 0 1 0 -3.60 0M316.9 675.5a1.8 1.8 0 1 0 3.60 0a1.8 1.8 0 1 0 -3.60 0M427.7 672.3a1.8 1.8 0 1 0 3.60 0a1.8 1.8 0 1 0 -3.60 0M432.8 667.2a1.8 1.8 0 1 0 3.60 0a1.8 1.8 0 1 0 -3.60 0M434.7 665.4a1.8 1.8 0 1 0 3.60 0a1.8 1.8 0 1 0 -3.60 0M436.3 664.2a1.8 1.8 0 1 0 3.60 0a1.8 1.8 0 1 0 -3.60 0M438.0 663.4a1.8 1.8 0 1 0 3.60 0a1.8 1.8 0 1 0 -3.60 0M439.7 662.6a1.8 1.8 0 1 0 3.60 0a1.8 1.8 0 1 0 -3.60 0M441.4 662.2a1.8 1.8 0 1 0 3.60 0a1.8 1.8 0 1 0 -3.60 0M443.2 661.9a1.8 1.8 0 1 0 3.60 0a1.8 1.8 0 1 0 -3.60 0M444.9 662.1a1.8 1.8 0 1 0 3.60 0a1.8 1.8 0 1 0 -3.60 0M446.7 662.4a1.8 1.8 0 1 0 3.60 0a1.8 1.8 0 1 0 -3.60 0M448.4 662.8a1.8 1.8 0 1 0 3.60 0a1.8 1.8 0 1 0 -3.60 0M450.1 663.1a1.8 1.8 0 1 0 3.60 0a1.8 1.8 0 1 0 -3.60 0M451.8 663.7a1.8 1.8 0 1 0 3.60 0a1.8 1.8 0 1 0 -3.60 0M453.6 664.2a1.8 1.8 0 1 0 3.60 0a1.8 1.8 0 1 0 -3.60 0M455.3 664.2a1.8 1.8 0 1 0 3.60 0a1.8 1.8 0 1 0 -3.60 0M457.0 664.2a1.8 1.8 0 1 0 3.60 0a1.8 1.8 0 1 0 -3.60 0M458.8 664.5a1.8 1.8 0 1 0 3.60 0a1.8 1.8 0 1 0 -3.60 0M460.5 664.7a1.8 1.8 0 1 0 3.60 0a1.8 1.8 0 1 0 -3.60 0M462.2 665.0a1.8 1.8 0 1 0 3.60 0a1.8 1.8 0 1 0 -3.60 0M464.0 665.4a1.8 1.8 0 1 0 3.60 0a1.8 1.8 0 1 0 -3.60 0M465.7 665.4a1.8 1.8 0 1 0 3.60 0a1.8 1.8 0 1 0 -3.60 0M467.4 665.4a1.8 1.8 0 1 0 3.60 0a1.8 1.8 0 1 0 -3.60 0M469.1 665.6a1.8 1.8 0 1 0 3.60 0a1.8 1.8 0 1 0 -3.60 0M470.9 665.8a1.8 1.8 0 1 0 3.60 0a1.8 1.8 0 1 0 -3.60 0M472.6 666.1a1.8 1.8 0 1 0 3.60 0a1.8 1.8 0 1 0 -3.60 0M474.4 666.5a1.8 1.8 0 1 0 3.60 0a1.8 1.8 0 1 0 -3.60 0M476.1 666.9a1.8 1.8 0 1 0 3.60 0a1.8 1.8 0 1 0 -3.60 0M477.8 667.2a1.8 1.8 0 1 0 3.60 0a1.8 1.8 0 1 0 -3.60 0M479.6 667.5a1.8 1.8 0 1 0 3.60 0a1.8 1.8 0 1 0 -3.60 0M481.3 667.7a1.8 1.8 0 1 0 3.60 0a1.8 1.8 0 1 0 -3.60 0M483.0 668.0a1.8 1.8 0 1 0 3.60 0a1.8 1.8 0 1 0 -3.60 0M484.7 668.4a1.8 1.8 0 1 0 3.60 0a1.8 1.8 0 1 0 -3.60 0M486.4 668.6a1.8 1.8 0 1 0 3.60 0a1.8 1.8 0 1 0 -3.60 0M488.2 668.8a1.8 1.8 0 1 0 3.60 0a1.8 1.8 0 1 0 -3.60 0M489.9 669.1a1.8 1.8 0 1 0 3.60 0a1.8 1.8 0 1 0 -3.60 0M491.7 669.5a1.8 1.8 0 1 0 3.60 0a1.8 1.8 0 1 0 -3.60 0M493.4 669.8a1.8 1.8 0 1 0 3.60 0a1.8 1.8 0 1 0 -3.60 0M495.1 670.0a1.8 1.8 0 1 0 3.60 0a1.8 1.8 0 1 0 -3.60 0"/>
<path fill="#0800b8" d="M75.7 450.5a1.8 1.8 0 1 0 3.60 0a1.8 1.8 0 1 0 -3.60 0M78.2 437.0a1.8 1.8 0 1 0 3.60 0a1.8 1.8 0 1 0 -3.60 0M79.0 432.5a1.8 1.8 0 1 0 3.60 0a1.8 1.8 0 1 0 -3.60 0M80.7 424.5a1.8 1.8 0 1 0 3.60 0a1.8 1.8 0 1 0 -3.60 0M83.2 412.0a1.8 1.8 0 1 0 3.60 0a1.8 1.8 0 1 0 -3.60 0M85.0 403.2a1.8 1.8 0 1 0 3.60 0a1.8 1.8 0 1 0 -3.60 0M86.5 396.8a1.8 1.8 0 1 0 3.60 0a1.8 1.8 0 1 0 -3.60 0M87.7 394.5a1.8 1.8 0 1 0 3.60 0a1.8 1.8 0 1 0 -3.60 0M88.7 392.0a1.8 1.8 0 1 0 3.60 0a1.8 1.8 0 1 0 -3.60 0M89.5 390.8a1.8 1.8 0 1 0 3.60 0a1.8 1.8 0 1 0 -3.60 0M90.2 389.5a1.8 1.8 0 1 0 3.60 0a1.8 1.8 0 1 0 -3.60 0M91.5 388.2a1.8 1.8 0 1 0 3.60 0a1.8 1.8 0 1 0 -3.60 0M93.7 382.0a1.8 1.8 0 1 0 3.60 0a1.8 1.8 0 1 0 -3.60 0M94.7 380.8a1.8 1.8 0 1 0 3.60 0a1.8 1.8 0 1 0 -3.60 0M95.7 379.5a1.8 1.8 0 1 0 3.60 0a1.8 1.8 0 1 0 -3.60 0M97.5 378.2a1.8 1.8 0 1 0 3.60 0a1.8 1.8 0 1 0 -3.60 0M99.5 380.0a1.8 1.8 0 1 0 3.60 0a1.8 1.8 0 1 0 -3.60 0M102.0 381.2a1.8 1.8 0 1 0 3.60 0a1.8 1.8 0 1 0 -3.60 0M103.2 382.1a1.8 1.8 0 1 0 3.60 0a1.8 1.8 0 1 0 -3.60 0M104.5 383.0a1.8 1.8 0 1 0 3.60 0a1.8 1.8 0 1 0 -3.60 0M106.2 387.0a1.8 1.8 0 1 0 3.60 0a1.8 1.8 0 1 0 -3.60 0M107.7 391.2a1.8 1.8 0 1 0 3.60 0a1.8 1.8 0 1 0 -3.60 0M109.5 405.0a1.8 1.8 0 1 0 3.60 0a1.8 1.8 0 1 0 -3.60 0M111.2 407.0a1.8 1.8 0 1 0 3.60 0a1.8 1.8 0 1 0 -3.60 0M113.2 402.0a1.8 1.8 0 1 0 3.60 0a1.8 1.8 0 1 0 -3.60 0M115.7 398.0a1.8 1.8 0 1 0 3.60 0a1.8 1.8 0 1 0 -3.60 0M117.0 397.1a1.8 1.8 0 1 0 3.60 0a1.8 1.8 0 1 0 -3.60 0M118.2 396.2a1.8 1.8 0 1 0 3.60 0a1.8 1.8 0 1 0 -3.60 0M120.7 395.8a1.8 1.8 0 1 0 3.60 0a1.8 1.8 0 1 0 -3.60 0M123.2 396.2a1.8 1.8 0 1 0 3.60 0a1.8 1.8 0 1 0 -3.60 0M125.2 394.2a1.8 1.8 0 1 0 3.60 0a1.8 1.8 0 1 0 -3.60 0M127.0 395.0a1.8 1.8 0 1 0 3.60 0a1.8 1.8 0 1 0 -3.60 0M128.7 402.5a1.8 1.8 0 1 0 3.60 0a1.8 1.8 0 1 0 -3.60 0M129.4 395.0a1.8 1.8 0 1 0 3.60 0a1.8 1.8 0 1 0 -3.60 0M131.2 391.2a1.8 1.8 0 1 0 3.60 0a1.8 1.8 0 1 0 -3.60 0M133.2 390.0a1.8 1.8 0 1 0 3.60 0a1.8 1.8 0 1 0 -3.60 0M135.7 389.2a1.8 1.8 0 1 0 3.60 0a1.8 1.8 0 1 0 -3.60 0M138.2 389.2a1.8 1.8 0 1 0 3.60 0a1.8 1.8 0 1 0 -3.60 0M140.7 389.5a1.8 1.8 0 1 0 3.60 0a1.8 1.8 0 1 0 -3.60 0M143.2 388.8a1.8 1.8 0 1 0 3.60 0a1.8 1.8 0 1 0 -3.60 0M145.7 388.0a1.8 1.8 0 1 0 3.60 0a1.8 1.8 0 1 0 -3.60 0M147.7 388.8a1.8 1.8 0 1 0 3.60 0a1.8 1.8 0 1 0 -3.60 0M149.4 390.0a1.8 1.8 0 1 0 3.60 0a1.8 1.8 0 1 0 -3.60 0M151.2 391.8a1.8 1.8 0 1 0 3.60 0a1.8 1.8 0 1 0 -3.60 0M153.2 392.0a1.8 1.8 0 1 0 3.60 0a1.8 1.8 0 1 0 -3.60 0M154.4 393.1a1.8 1.8 0 1 0 3.60 0a1.8 1.8 0 1 0 -3.60 0M155.7 394.2a1.8 1.8 0 1 0 3.60 0a1.8 1.8 0 1 0 -3.60 0M157.4 395.0a1.8 1.8 0 1 0 3.60 0a1.8 1.8 0 1 0 -3.60 0M159.4 398.0a1.8 1.8 0 1 0 3.60 0a1.8 1.8 0 1 0 -3.60 0M167.4 417.0a1.8 1.8 0 1 0 3.60 0a1.8 1.8 0 1 0 -3.60 0M169.4 423.8a1.8 1.8 0 1 0 3.60 0a1.8 1.8 0 1 0 -3.60 0M177.7 429.2a1.8 1.8 0 1 0 3.60 0a1.8 1.8 0 1 0 -3.60 0M179.4 427.0a1.8 1.8 0 1 0 3.60 0a1.8 1.8 0 1 0 -3.60 0M181.9 425.8a1.8 1.8 0 1 0 3.60 0a1.8 1.8 0 1 0 -3.60 0M187.7 427.0a1.8 1.8 0 1 0 3.60 0a1.8 1.8 0 1 0 -3.60 0M190.2 428.2a1.8 1.8 0 1 0 3.60 0a1.8 1.8 0 1 0 -3.60 0M192.7 429.5a1.8 1.8 0 1 0 3.60 0a1.8 1.8 0 1 0 -3.60 0M194.4 430.5a1.8 1.8 0 1 0 3.60 0a1.8 1.8 0 1 0 -3.60 0M196.2 433.8a1.8 1.8 0 1 0 3.60 0a1.8 1.8 0 1 0 -3.60 0M198.2 445.5a1.8 1.8 0 1 0 3.60 0a1.8 1.8 0 1 0 -3.60 0M201.2 458.2a1.8 1.8 0 1 0 3.60 0a1.8 1.8 0 1 0 -3.60 0M196.9 473.2a1.8 1.8 0 1 0 3.60 0a1.8 1.8 0 1 0 -3.60 0M165.7 467.0a1.8 1.8 0 1 0 3.60 0a1.8 1.8 0 1 0 -3.60 0M163.7 488.5a1.8 1.8 0 1 0 3.60 0a1.8 1.8 0 1 0 -3.60 0M211.9 450.5a1.8 1.8 0 1 0 3.60 0a1.8 1.8 0 1 0 -3.60 0M213.7 451.5a1.8 1.8 0 1 0 3.60 0a1.8 1.8 0 1 0 -3.60 0M215.7 453.0a1.8 1.8 0 1 0 3.60 0a1.8 1.8 0 1 0 -3.60 0M217.7 455.0a1.8 1.8 0 1 0 3.60 0a1.8 1.8 0 1 0 -3.60 0M219.4 457.0a1.8 1.8 0 1 0 3.60 0a1.8 1.8 0 1 0 -3.60 0M220.7 458.2a1.8 1.8 0 1 0 3.60 0a1.8 1.8 0 1 0 -3.60 0M221.9 459.5a1.8 1.8 0 1 0 3.60 0a1.8 1.8 0 1 0 -3.60 0M222.8 460.8a1.8 1.8 0 1 0 3.60 0a1.8 1.8 0 1 0 -3.60 0M223.7 462.0a1.8 1.8 0 1 0 3.60 0a1.8 1.8 0 1 0 -3.60 0M224.7 463.2a1.8 1.8 0 1 0 3.60 0a1.8 1.8 0 1 0 -3.60 0M225.7 464.5a1.8 1.8 0 1 0 3.60 0a1.8 1.8 0 1 0 -3.60 0M227.2 466.2a1.8 1.8 0 1 0 3.60 0a1.8 1.8 0 1 0 -3.60 0M74.0 461.8a1.8 1.8 0 1 0 3.60 0a1.8 1.8 0 1 0 -3.60 0M73.2 467.5a1.8 1.8 0 1 0 3.60 0a1.8 1.8 0 1 0 -3.60 0M72.5 475.0a1.8 1.8 0 1 0 3.60 0a1.8 1.8 0 1 0 -3.60 0M70.0 495.8a1.8 1.8 0 1 0 3.60 0a1.8 1.8 0 1 0 -3.60 0M68.2 515.5a1.8 1.8 0 1 0 3.60 0a1.8 1.8 0 1 0 -3.60 0M175.2 512.0a1.8 1.8 0 1 0 3.60 0a1.8 1.8 0 1 0 -3.60 0M266.2 489.5a1.8 1.8 0 1 0 3.60 0a1.8 1.8 0 1 0 -3.60 0M264.4 494.5a1.8 1.8 0 1 0 3.60 0a1.8 1.8 0 1 0 -3.60 0M261.2 497.5a1.8 1.8 0 1 0 3.60 0a1.8 1.8 0 1 0 -3.60 0M265.7 497.5a1.8 1.8 0 1 0 3.60 0a1.8 1.8 0 1 0 -3.60 0M269.4 492.5a1.8 1.8 0 1 0 3.60 0a1.8 1.8 0 1 0 -3.60 0M271.9 493.8a1.8 1.8 0 1 0 3.60 0a1.8 1.8 0 1 0 -3.60 0M273.2 494.8a1.8 1.8 0 1 0 3.60 0a1.8 1.8 0 1 0 -3.60 0M274.4 495.8a1.8 1.8 0 1 0 3.60 0a1.8 1.8 0 1 0 -3.60 0M275.7 496.6a1.8 1.8 0 1 0 3.60 0a1.8 1.8 0 1 0 -3.60 0M276.9 497.5a1.8 1.8 0 1 0 3.60 0a1.8 1.8 0 1 0 -3.60 0M278.2 498.8a1.8 1.8 0 1 0 3.60 0a1.8 1.8 0 1 0 -3.60 0M279.4 500.0a1.8 1.8 0 1 0 3.60 0a1.8 1.8 0 1 0 -3.60 0M280.7 501.2a1.8 1.8 0 1 0 3.60 0a1.8 1.8 0 1 0 -3.60 0M281.9 502.5a1.8 1.8 0 1 0 3.60 0a1.8 1.8 0 1 0 -3.60 0M283.2 503.8a1.8 1.8 0 1 0 3.60 0a1.8 1.8 0 1 0 -3.60 0M284.4 505.0a1.8 1.8 0 1 0 3.60 0a1.8 1.8 0 1 0 -3.60 0M285.7 506.2a1.8 1.8 0 1 0 3.60 0a1.8 1.8 0 1 0 -3.60 0M286.9 507.5a1.8 1.8 0 1 0 3.60 0a1.8 1.8 0 1 0 -3.60 0M288.9 509.2a1.8 1.8 0 1 0 3.60 0a1.8 1.8 0 1 0 -3.60 0M288.2 511.2a1.8 1.8 0 1 0 3.60 0a1.8 1.8 0 1 0 -3.60 0M202.4 527.5a1.8 1.8 0 1 0 3.60 0a1.8 1.8 0 1 0 -3.60 0M229.4 526.8a1.8 1.8 0 1 0 3.60 0a1.8 1.8 0 1 0 -3.60 0M291.2 532.0a1.8 1.8 0 1 0 3.60 0a1.8 1.8 0 1 0 -3.60 0M259.4 539.5a1.8 1.8 0 1 0 3.60 0a1.8 1.8 0 1 0 -3.60 0M208.2 556.2a1.8 1.8 0 1 0 3.60 0a1.8 1.8 0 1 0 -3.60 0M238.2 573.8a1.8 1.8 0 1 0 3.60 0a1.8 1.8 0 1 0 -3.60 0M207.7 577.0a1.8 1.8 0 1 0 3.60 0a1.8 1.8 0 1 0 -3.60 0M203.7 582.5a1.8 1.8 0 1 0 3.60 0a1.8 1.8 0 1 0 -3.60 0M257.7 578.2a1.8 1.8 0 1 0 3.60 0a1.8 1.8 0 1 0 -3.60 0M293.2 576.2a1.8 1.8 0 1 0 3.60 0a1.8 1.8 0 1 0 -3.60 0M295.2 575.0a1.8 1.8 0 1 0 3.60 0a1.8 1.8 0 1 0 -3.60 0M297.4 585.5a1.8 1.8 0 1 0 3.60 0a1.8 1.8 0 1 0 -3.60 0M299.4 593.0a1.8 1.8 0 1 0 3.60 0a1.8 1.8 0 1 0 -3.60 0M298.9 601.2a1.8 1.8 0 1 0 3.60 0a1.8 1.8 0 1 0 -3.60 0M256.4 606.8a1.8 1.8 0 1 0 3.60 0a1.8 1.8 0 1 0 -3.60 0M256.2 615.5a1.8 1.8 0 1 0 3.60 0a1.8 1.8 0 1 0 -3.60 0M233.7 618.0a1.8 1.8 0 1 0 3.60 0a1.8 1.8 0 1 0 -3.60 0M343.7 551.2a1.8 1.8 0 1 0 3.60 0a1.8 1.8 0 1 0 -3.60 0M344.9 552.2a1.8 1.8 0 1 0 3.60 0a1.8 1.8 0 1 0 -3.60 0M346.2 553.2a1.8 1.8 0 1 0 3.60 0a1.8 1.8 0 1 0 -3.60 0M339.4 555.8a1.8 1.8 0 1 0 3.60 0a1.8 1.8 0 1 0 -3.60 0M341.4 557.5a1.8 1.8 0 1 0 3.60 0a1.8 1.8 0 1 0 -3.60 0M348.2 558.8a1.8 1.8 0 1 0 3.60 0a1.8 1.8 0 1 0 -3.60 0M357.7 563.8a1.8 1.8 0 1 0 3.60 0a1.8 1.8 0 1 0 -3.60 0M350.2 568.8a1.8 1.8 0 1 0 3.60 0a1.8 1.8 0 1 0 -3.60 0M335.7 571.2a1.8 1.8 0 1 0 3.60 0a1.8 1.8 0 1 0 -3.60 0M337.7 575.0a1.8 1.8 0 1 0 3.60 0a1.8 1.8 0 1 0 -3.60 0M354.4 575.8a1.8 1.8 0 1 0 3.60 0a1.8 1.8 0 1 0 -3.60 0M356.4 577.0a1.8 1.8 0 1 0 3.60 0a1.8 1.8 0 1 0 -3.60 0M359.9 581.2a1.8 1.8 0 1 0 3.60 0a1.8 1.8 0 1 0 -3.60 0M361.2 583.8a1.8 1.8 0 1 0 3.60 0a1.8 1.8 0 1 0 -3.60 0M351.4 588.0a1.8 1.8 0 1 0 3.60 0a1.8 1.8 0 1 0 -3.60 0M328.2 597.5a1.8 1.8 0 1 0 3.60 0a1.8 1.8 0 1 0 -3.60 0M330.2 599.0a1.8 1.8 0 1 0 3.60 0a1.8 1.8 0 1 0 -3.60 0M334.4 597.0a1.8 1.8 0 1 0 3.60 0a1.8 1.8 0 1 0 -3.60 0M362.7 597.5a1.8 1.8 0 1 0 3.60 0a1.8 1.8 0 1 0 -3.60 0M332.7 607.0a1.8 1.8 0 1 0 3.60 0a1.8 1.8 0 1 0 -3.60 0M321.9 609.5a1.8 1.8 0 1 0 3.60 0a1.8 1.8 0 1 0 -3.60 0M323.9 609.5a1.8 1.8 0 1 0 3.60 0a1.8 1.8 0 1 0 -3.60 0M326.4 610.5a1.8 1.8 0 1 0 3.60 0a1.8 1.8 0 1 0 -3.60 0M365.2 613.8a1.8 1.8 0 1 0 3.60 0a1.8 1.8 0 1 0 -3.60 0M319.4 618.8a1.8 1.8 0 1 0 3.60 0a1.8 1.8 0 1 0 -3.60 0M160.7 584.2a1.8 1.8 0 1 0 3.60 0a1.8 1.8 0 1 0 -3.60 0M171.2 570.5a1.8 1.8 0 1 0 3.60 0a1.8 1.8 0 1 0 -3.60 0M173.9 575.0a1.8 1.8 0 1 0 3.60 0a1.8 1.8 0 1 0 -3.60 0M173.2 599.2a1.8 1.8 0 1 0 3.60 0a1.8 1.8 0 1 0 -3.60 0M186.9 621.2a1.8 1.8 0 1 0 3.60 0a1.8 1.8 0 1 0 -3.60 0M185.2 650.5a1.8 1.8 0 1 0 3.60 0a1.8 1.8 0 1 0 -3.60 0M186.2 671.2a1.8 1.8 0 1 0 3.60 0a1.8 1.8 0 1 0 -3.60 0M205.4 629.7a1.8 1.8 0 1 0 3.60 0a1.8 1.8 0 1 0 -3.60 0M241.2 621.2a1.8 1.8 0 1 0 3.60 0a1.8 1.8 0 1 0 -3.60 0M252.7 623.8a1.8 1.8 0 1 0 3.60 0a1.8 1.8 0 1 0 -3.60 0M230.7 635.0a1.8 1.8 0 1 0 3.60 0a1.8 1.8 0 1 0 -3.60 0M236.2 632.5a1.8 1.8 0 1 0 3.60 0a1.8 1.8 0 1 0 -3.60 0M236.9 641.2a1.8 1.8 0 1 0 3.60 0a1.8 1.8 0 1 0 -3.60 0M231.4 653.8a1.8 1.8 0 1 0 3.60 0a1.8 1.8 0 1 0 -3.60 0M251.2 658.8a1.8 1.8 0 1 0 3.60 0a1.8 1.8 0 1 0 -3.60 0M249.4 668.8a1.8 1.8 0 1 0 3.60 0a1.8 1.8 0 1 0 -3.60 0M301.9 658.8a1.8 1.8 0 1 0 3.60 0a1.8 1.8 0 1 0 -3.60 0M326.9 610.8a1.8 1.8 0 1 0 3.60 0a1.8 1.8 0 1 0 -3.60 0M331.9 625.0a1.8 1.8 0 1 0 3.60 0a1.8 1.8 0 1 0 -3.60 0M353.7 621.2a1.8 1.8 0 1 0 3.60 0a1.8 1.8 0 1 0 -3.60 0M366.9 633.8a1.8 1.8 0 1 0 3.60 0a1.8 1.8 0 1 0 -3.60 0M368.2 635.0a1.8 1.8 0 1 0 3.60 0a1.8 1.8 0 1 0 -3.60 0M369.4 636.2a1.8 1.8 0 1 0 3.60 0a1.8 1.8 0 1 0 -3.60 0M370.7 638.0a1.8 1.8 0 1 0 3.60 0a1.8 1.8 0 1 0 -3.60 0M317.7 643.8a1.8 1.8 0 1 0 3.60 0a1.8 1.8 0 1 0 -3.60 0M324.4 642.0a1.8 1.8 0 1 0 3.60 0a1.8 1.8 0 1 0 -3.60 0M371.4 648.0a1.8 1.8 0 1 0 3.60 0a1.8 1.8 0 1 0 -3.60 0M316.2 663.8a1.8 1.8 0 1 0 3.60 0a1.8 1.8 0 1 0 -3.60 0M373.2 662.5a1.8 1.8 0 1 0 3.60 0a1.8 1.8 0 1 0 -3.60 0M375.2 670.0a1.8 1.8 0 1 0 3.60 0a1.8 1.8 0 1 0 -3.60 0M378.2 674.5a1.8 1.8 0 1 0 3.60 0a1.8 1.8 0 1 0 -3.60 0M313.2 675.0a1.8 1.8 0 1 0 3.60 0a1.8 1.8 0 1 0 -3.60 0M432.8 633.5a1.8 1.8 0 1 0 3.60 0a1.8 1.8 0 1 0 -3.60 0M434.7 622.7a1.8 1.8 0 1 0 3.60 0a1.8 1.8 0 1 0 -3.60 0M435.8 619.2a1.8 1.8 0 1 0 3.60 0a1.8 1.8 0 1 0 -3.60 0M437.9 613.0a1.8 1.8 0 1 0 3.60 0a1.8 1.8 0 1 0 -3.60 0M439.7 607.2a1.8 1.8 0 1 0 3.60 0a1.8 1.8 0 1 0 -3.60 0M440.2 603.1a1.8 1.8 0 1 0 3.60 0a1.8 1.8 0 1 0 -3.60 0M442.7 601.9a1.8 1.8 0 1 0 3.60 0a1.8 1.8 0 1 0 -3.60 0M445.5 602.4a1.8 1.8 0 1 0 3.60 0a1.8 1.8 0 1 0 -3.60 0M447.8 603.1a1.8 1.8 0 1 0 3.60 0a1.8 1.8 0 1 0 -3.60 0M449.3 603.7a1.8 1.8 0 1 0 3.60 0a1.8 1.8 0 1 0 -3.60 0M450.8 604.2a1.8 1.8 0 1 0 3.60 0a1.8 1.8 0 1 0 -3.60 0M453.6 607.7a1.8 1.8 0 1 0 3.60 0a1.8 1.8 0 1 0 -3.60 0M454.7 610.0a1.8 1.8 0 1 0 3.60 0a1.8 1.8 0 1 0 -3.60 0M455.9 612.3a1.8 1.8 0 1 0 3.60 0a1.8 1.8 0 1 0 -3.60 0M457.7 608.4a1.8 1.8 0 1 0 3.60 0a1.8 1.8 0 1 0 -3.60 0M460.0 608.8a1.8 1.8 0 1 0 3.60 0a1.8 1.8 0 1 0 -3.60 0M461.2 609.8a1.8 1.8 0 1 0 3.60 0a1.8 1.8 0 1 0 -3.60 0M462.4 610.7a1.8 1.8 0 1 0 3.60 0a1.8 1.8 0 1 0 -3.60 0M464.0 614.6a1.8 1.8 0 1 0 3.60 0a1.8 1.8 0 1 0 -3.60 0M466.3 615.1a1.8 1.8 0 1 0 3.60 0a1.8 1.8 0 1 0 -3.60 0M467.8 614.9a1.8 1.8 0 1 0 3.60 0a1.8 1.8 0 1 0 -3.60 0M469.3 614.6a1.8 1.8 0 1 0 3.60 0a1.8 1.8 0 1 0 -3.60 0M470.7 615.2a1.8 1.8 0 1 0 3.60 0a1.8 1.8 0 1 0 -3.60 0M472.0 615.8a1.8 1.8 0 1 0 3.60 0a1.8 1.8 0 1 0 -3.60 0M474.4 616.9a1.8 1.8 0 1 0 3.60 0a1.8 1.8 0 1 0 -3.60 0M476.2 618.8a1.8 1.8 0 1 0 3.60 0a1.8 1.8 0 1 0 -3.60 0M476.7 623.8a1.8 1.8 0 1 0 3.60 0a1.8 1.8 0 1 0 -3.60 0M478.1 622.6a1.8 1.8 0 1 0 3.60 0a1.8 1.8 0 1 0 -3.60 0M479.4 621.5a1.8 1.8 0 1 0 3.60 0a1.8 1.8 0 1 0 -3.60 0M480.1 628.5a1.8 1.8 0 1 0 3.60 0a1.8 1.8 0 1 0 -3.60 0M482.4 622.2a1.8 1.8 0 1 0 3.60 0a1.8 1.8 0 1 0 -3.60 0M483.2 623.6a1.8 1.8 0 1 0 3.60 0a1.8 1.8 0 1 0 -3.60 0M484.0 625.0a1.8 1.8 0 1 0 3.60 0a1.8 1.8 0 1 0 -3.60 0M484.7 632.6a1.8 1.8 0 1 0 3.60 0a1.8 1.8 0 1 0 -3.60 0M487.0 626.2a1.8 1.8 0 1 0 3.60 0a1.8 1.8 0 1 0 -3.60 0M488.5 627.4a1.8 1.8 0 1 0 3.60 0a1.8 1.8 0 1 0 -3.60 0M490.0 628.5a1.8 1.8 0 1 0 3.60 0a1.8 1.8 0 1 0 -3.60 0M490.5 634.2a1.8 1.8 0 1 0 3.60 0a1.8 1.8 0 1 0 -3.60 0M492.8 629.6a1.8 1.8 0 1 0 3.60 0a1.8 1.8 0 1 0 -3.60 0M493.3 636.5a1.8 1.8 0 1 0 3.60 0a1.8 1.8 0 1 0 -3.60 0M495.6 639.5a1.8 1.8 0 1 0 3.60 0a1.8 1.8 0 1 0 -3.60 0M497.0 633.1a1.8 1.8 0 1 0 3.60 0a1.8 1.8 0 1 0 -3.60 0M428.2 649.9a1.8 1.8 0 1 0 3.60 0a1.8 1.8 0 1 0 -3.60 0M431.7 655.0a1.8 1.8 0 1 0 3.60 0a1.8 1.8 0 1 0 -3.60 0M427.0 659.2a1.8 1.8 0 1 0 3.60 0a1.8 1.8 0 1 0 -3.60 0M425.4 668.9a1.8 1.8 0 1 0 3.60 0a1.8 1.8 0 1 0 -3.60 0"/>
<path fill="#e00000" d="M67.7 608.2a1.8 1.8 0 1 0 3.60 0a1.8 1.8 0 1 0 -3.60 0M70.0 598.0a1.8 1.8 0 1 0 3.60 0a1.8 1.8 0 1 0 -3.60 0M72.5 588.0a1.8 1.8 0 1 0 3.60 0a1.8 1.8 0 1 0 -3.60 0M73.7 583.0a1.8 1.8 0 1 0 3.60 0a1.8 1.8 0 1 0 -3.60 0M74.5 580.8a1.8 1.8 0 1 0 3.60 0a1.8 1.8 0 1 0 -3.60 0M75.7 575.5a1.8 1.8 0 1 0 3.60 0a1.8 1.8 0 1 0 -3.60 0M78.2 568.8a1.8 1.8 0 1 0 3.60 0a1.8 1.8 0 1 0 -3.60 0M79.5 566.2a1.8 1.8 0 1 0 3.60 0a1.8 1.8 0 1 0 -3.60 0M80.7 562.0a1.8 1.8 0 1 0 3.60 0a1.8 1.8 0 1 0 -3.60 0M83.2 555.8a1.8 1.8 0 1 0 3.60 0a1.8 1.8 0 1 0 -3.60 0M85.0 552.0a1.8 1.8 0 1 0 3.60 0a1.8 1.8 0 1 0 -3.60 0M86.5 550.0a1.8 1.8 0 1 0 3.60 0a1.8 1.8 0 1 0 -3.60 0M88.2 547.0a1.8 1.8 0 1 0 3.60 0a1.8 1.8 0 1 0 -3.60 0M90.2 545.0a1.8 1.8 0 1 0 3.60 0a1.8 1.8 0 1 0 -3.60 0M92.5 542.0a1.8 1.8 0 1 0 3.60 0a1.8 1.8 0 1 0 -3.60 0M94.5 540.0a1.8 1.8 0 1 0 3.60 0a1.8 1.8 0 1 0 -3.60 0M96.5 538.8a1.8 1.8 0 1 0 3.60 0a1.8 1.8 0 1 0 -3.60 0M98.7 539.2a1.8 1.8 0 1 0 3.60 0a1.8 1.8 0 1 0 -3.60 0M101.2 540.0a1.8 1.8 0 1 0 3.60 0a1.8 1.8 0 1 0 -3.60 0M103.7 541.2a1.8 1.8 0 1 0 3.60 0a1.8 1.8 0 1 0 -3.60 0M105.0 542.1a1.8 1.8 0 1 0 3.60 0a1.8 1.8 0 1 0 -3.60 0M106.2 543.0a1.8 1.8 0 1 0 3.60 0a1.8 1.8 0 1 0 -3.60 0M107.0 544.4a1.8 1.8 0 1 0 3.60 0a1.8 1.8 0 1 0 -3.60 0M107.7 545.8a1.8 1.8 0 1 0 3.60 0a1.8 1.8 0 1 0 -3.60 0M109.5 552.0a1.8 1.8 0 1 0 3.60 0a1.8 1.8 0 1 0 -3.60 0M110.7 553.8a1.8 1.8 0 1 0 3.60 0a1.8 1.8 0 1 0 -3.60 0M112.7 550.5a1.8 1.8 0 1 0 3.60 0a1.8 1.8 0 1 0 -3.60 0M114.0 549.6a1.8 1.8 0 1 0 3.60 0a1.8 1.8 0 1 0 -3.60 0M115.2 548.8a1.8 1.8 0 1 0 3.60 0a1.8 1.8 0 1 0 -3.60 0M117.7 548.0a1.8 1.8 0 1 0 3.60 0a1.8 1.8 0 1 0 -3.60 0M120.2 547.5a1.8 1.8 0 1 0 3.60 0a1.8 1.8 0 1 0 -3.60 0M122.7 548.0a1.8 1.8 0 1 0 3.60 0a1.8 1.8 0 1 0 -3.60 0M125.2 547.0a1.8 1.8 0 1 0 3.60 0a1.8 1.8 0 1 0 -3.60 0M127.7 548.0a1.8 1.8 0 1 0 3.60 0a1.8 1.8 0 1 0 -3.60 0M128.2 551.2a1.8 1.8 0 1 0 3.60 0a1.8 1.8 0 1 0 -3.60 0M130.7 545.5a1.8 1.8 0 1 0 3.60 0a1.8 1.8 0 1 0 -3.60 0M133.2 544.5a1.8 1.8 0 1 0 3.60 0a1.8 1.8 0 1 0 -3.60 0M135.7 544.2a1.8 1.8 0 1 0 3.60 0a1.8 1.8 0 1 0 -3.60 0M138.2 544.0a1.8 1.8 0 1 0 3.60 0a1.8 1.8 0 1 0 -3.60 0M140.7 544.5a1.8 1.8 0 1 0 3.60 0a1.8 1.8 0 1 0 -3.60 0M143.2 543.8a1.8 1.8 0 1 0 3.60 0a1.8 1.8 0 1 0 -3.60 0M145.7 543.2a1.8 1.8 0 1 0 3.60 0a1.8 1.8 0 1 0 -3.60 0M148.2 544.5a1.8 1.8 0 1 0 3.60 0a1.8 1.8 0 1 0 -3.60 0M150.7 545.5a1.8 1.8 0 1 0 3.60 0a1.8 1.8 0 1 0 -3.60 0M153.2 546.2a1.8 1.8 0 1 0 3.60 0a1.8 1.8 0 1 0 -3.60 0M155.7 547.0a1.8 1.8 0 1 0 3.60 0a1.8 1.8 0 1 0 -3.60 0M157.7 548.0a1.8 1.8 0 1 0 3.60 0a1.8 1.8 0 1 0 -3.60 0M159.4 549.2a1.8 1.8 0 1 0 3.60 0a1.8 1.8 0 1 0 -3.60 0M166.9 558.2a1.8 1.8 0 1 0 3.60 0a1.8 1.8 0 1 0 -3.60 0M168.7 562.0a1.8 1.8 0 1 0 3.60 0a1.8 1.8 0 1 0 -3.60 0M165.7 583.2a1.8 1.8 0 1 0 3.60 0a1.8 1.8 0 1 0 -3.60 0M163.7 595.0a1.8 1.8 0 1 0 3.60 0a1.8 1.8 0 1 0 -3.60 0M175.2 606.8a1.8 1.8 0 1 0 3.60 0a1.8 1.8 0 1 0 -3.60 0M177.7 565.0a1.8 1.8 0 1 0 3.60 0a1.8 1.8 0 1 0 -3.60 0M179.2 564.4a1.8 1.8 0 1 0 3.60 0a1.8 1.8 0 1 0 -3.60 0M180.7 563.8a1.8 1.8 0 1 0 3.60 0a1.8 1.8 0 1 0 -3.60 0M182.6 563.4a1.8 1.8 0 1 0 3.60 0a1.8 1.8 0 1 0 -3.60 0M184.4 563.0a1.8 1.8 0 1 0 3.60 0a1.8 1.8 0 1 0 -3.60 0M186.1 563.1a1.8 1.8 0 1 0 3.60 0a1.8 1.8 0 1 0 -3.60 0M187.7 563.2a1.8 1.8 0 1 0 3.60 0a1.8 1.8 0 1 0 -3.60 0M188.2 563.8a1.8 1.8 0 1 0 3.60 0a1.8 1.8 0 1 0 -3.60 0M189.7 564.1a1.8 1.8 0 1 0 3.60 0a1.8 1.8 0 1 0 -3.60 0M191.2 564.5a1.8 1.8 0 1 0 3.60 0a1.8 1.8 0 1 0 -3.60 0M193.7 565.5a1.8 1.8 0 1 0 3.60 0a1.8 1.8 0 1 0 -3.60 0M194.9 566.5a1.8 1.8 0 1 0 3.60 0a1.8 1.8 0 1 0 -3.60 0M196.2 567.5a1.8 1.8 0 1 0 3.60 0a1.8 1.8 0 1 0 -3.60 0M198.2 573.0a1.8 1.8 0 1 0 3.60 0a1.8 1.8 0 1 0 -3.60 0M200.7 579.2a1.8 1.8 0 1 0 3.60 0a1.8 1.8 0 1 0 -3.60 0M196.9 587.0a1.8 1.8 0 1 0 3.60 0a1.8 1.8 0 1 0 -3.60 0M210.7 575.5a1.8 1.8 0 1 0 3.60 0a1.8 1.8 0 1 0 -3.60 0M213.2 576.0a1.8 1.8 0 1 0 3.60 0a1.8 1.8 0 1 0 -3.60 0M215.7 577.0a1.8 1.8 0 1 0 3.60 0a1.8 1.8 0 1 0 -3.60 0M216.9 577.9a1.8 1.8 0 1 0 3.60 0a1.8 1.8 0 1 0 -3.60 0M218.2 578.8a1.8 1.8 0 1 0 3.60 0a1.8 1.8 0 1 0 -3.60 0M220.7 580.0a1.8 1.8 0 1 0 3.60 0a1.8 1.8 0 1 0 -3.60 0M221.9 580.9a1.8 1.8 0 1 0 3.60 0a1.8 1.8 0 1 0 -3.60 0M223.2 581.8a1.8 1.8 0 1 0 3.60 0a1.8 1.8 0 1 0 -3.60 0M225.7 583.0a1.8 1.8 0 1 0 3.60 0a1.8 1.8 0 1 0 -3.60 0M227.4 583.8a1.8 1.8 0 1 0 3.60 0a1.8 1.8 0 1 0 -3.60 0M202.4 614.2a1.8 1.8 0 1 0 3.60 0a1.8 1.8 0 1 0 -3.60 0M229.4 613.8a1.8 1.8 0 1 0 3.60 0a1.8 1.8 0 1 0 -3.60 0M261.2 599.5a1.8 1.8 0 1 0 3.60 0a1.8 1.8 0 1 0 -3.60 0M262.4 598.8a1.8 1.8 0 1 0 3.60 0a1.8 1.8 0 1 0 -3.60 0M263.7 598.0a1.8 1.8 0 1 0 3.60 0a1.8 1.8 0 1 0 -3.60 0M264.7 596.8a1.8 1.8 0 1 0 3.60 0a1.8 1.8 0 1 0 -3.60 0M265.7 595.5a1.8 1.8 0 1 0 3.60 0a1.8 1.8 0 1 0 -3.60 0M265.2 600.0a1.8 1.8 0 1 0 3.60 0a1.8 1.8 0 1 0 -3.60 0M268.2 596.2a1.8 1.8 0 1 0 3.60 0a1.8 1.8 0 1 0 -3.60 0M270.7 597.0a1.8 1.8 0 1 0 3.60 0a1.8 1.8 0 1 0 -3.60 0M273.2 598.0a1.8 1.8 0 1 0 3.60 0a1.8 1.8 0 1 0 -3.60 0M275.7 599.0a1.8 1.8 0 1 0 3.60 0a1.8 1.8 0 1 0 -3.60 0M278.2 600.0a1.8 1.8 0 1 0 3.60 0a1.8 1.8 0 1 0 -3.60 0M280.7 601.2a1.8 1.8 0 1 0 3.60 0a1.8 1.8 0 1 0 -3.60 0M283.2 602.5a1.8 1.8 0 1 0 3.60 0a1.8 1.8 0 1 0 -3.60 0M284.4 603.2a1.8 1.8 0 1 0 3.60 0a1.8 1.8 0 1 0 -3.60 0M285.7 604.0a1.8 1.8 0 1 0 3.60 0a1.8 1.8 0 1 0 -3.60 0M286.9 604.8a1.8 1.8 0 1 0 3.60 0a1.8 1.8 0 1 0 -3.60 0M288.2 605.5a1.8 1.8 0 1 0 3.60 0a1.8 1.8 0 1 0 -3.60 0M289.4 606.2a1.8 1.8 0 1 0 3.60 0a1.8 1.8 0 1 0 -3.60 0M291.2 617.5a1.8 1.8 0 1 0 3.60 0a1.8 1.8 0 1 0 -3.60 0M160.2 642.5a1.8 1.8 0 1 0 3.60 0a1.8 1.8 0 1 0 -3.60 0M170.7 635.0a1.8 1.8 0 1 0 3.60 0a1.8 1.8 0 1 0 -3.60 0M172.2 636.2a1.8 1.8 0 1 0 3.60 0a1.8 1.8 0 1 0 -3.60 0M173.7 637.5a1.8 1.8 0 1 0 3.60 0a1.8 1.8 0 1 0 -3.60 0M173.2 649.5a1.8 1.8 0 1 0 3.60 0a1.8 1.8 0 1 0 -3.60 0M185.7 660.0a1.8 1.8 0 1 0 3.60 0a1.8 1.8 0 1 0 -3.60 0M184.4 674.5a1.8 1.8 0 1 0 3.60 0a1.8 1.8 0 1 0 -3.60 0M185.7 678.8a1.8 1.8 0 1 0 3.60 0a1.8 1.8 0 1 0 -3.60 0M67.0 678.8a1.8 1.8 0 1 0 3.60 0a1.8 1.8 0 1 0 -3.60 0M259.4 621.2a1.8 1.8 0 1 0 3.60 0a1.8 1.8 0 1 0 -3.60 0M208.2 628.8a1.8 1.8 0 1 0 3.60 0a1.8 1.8 0 1 0 -3.60 0M203.7 642.0a1.8 1.8 0 1 0 3.60 0a1.8 1.8 0 1 0 -3.60 0M207.7 638.8a1.8 1.8 0 1 0 3.60 0a1.8 1.8 0 1 0 -3.60 0M238.2 637.0a1.8 1.8 0 1 0 3.60 0a1.8 1.8 0 1 0 -3.60 0M185.2 672.5a1.8 1.8 0 1 0 3.60 0a1.8 1.8 0 1 0 -3.60 0M205.7 663.8a1.8 1.8 0 1 0 3.60 0a1.8 1.8 0 1 0 -3.60 0M231.9 675.0a1.8 1.8 0 1 0 3.60 0a1.8 1.8 0 1 0 -3.60 0M233.7 658.8a1.8 1.8 0 1 0 3.60 0a1.8 1.8 0 1 0 -3.60 0M236.2 665.5a1.8 1.8 0 1 0 3.60 0a1.8 1.8 0 1 0 -3.60 0M236.2 670.0a1.8 1.8 0 1 0 3.60 0a1.8 1.8 0 1 0 -3.60 0M241.2 660.8a1.8 1.8 0 1 0 3.60 0a1.8 1.8 0 1 0 -3.60 0M257.7 640.0a1.8 1.8 0 1 0 3.60 0a1.8 1.8 0 1 0 -3.60 0M258.2 653.8a1.8 1.8 0 1 0 3.60 0a1.8 1.8 0 1 0 -3.60 0M256.2 657.5a1.8 1.8 0 1 0 3.60 0a1.8 1.8 0 1 0 -3.60 0M254.4 661.2a1.8 1.8 0 1 0 3.60 0a1.8 1.8 0 1 0 -3.60 0M253.2 663.8a1.8 1.8 0 1 0 3.60 0a1.8 1.8 0 1 0 -3.60 0M292.7 638.8a1.8 1.8 0 1 0 3.60 0a1.8 1.8 0 1 0 -3.60 0M295.2 638.0a1.8 1.8 0 1 0 3.60 0a1.8 1.8 0 1 0 -3.60 0M296.9 643.8a1.8 1.8 0 1 0 3.60 0a1.8 1.8 0 1 0 -3.60 0M298.7 647.5a1.8 1.8 0 1 0 3.60 0a1.8 1.8 0 1 0 -3.60 0M299.4 651.2a1.8 1.8 0 1 0 3.60 0a1.8 1.8 0 1 0 -3.60 0M339.4 628.8a1.8 1.8 0 1 0 3.60 0a1.8 1.8 0 1 0 -3.60 0M341.9 629.5a1.8 1.8 0 1 0 3.60 0a1.8 1.8 0 1 0 -3.60 0M342.8 628.2a1.8 1.8 0 1 0 3.60 0a1.8 1.8 0 1 0 -3.60 0M343.7 627.0a1.8 1.8 0 1 0 3.60 0a1.8 1.8 0 1 0 -3.60 0M346.2 628.0a1.8 1.8 0 1 0 3.60 0a1.8 1.8 0 1 0 -3.60 0M346.9 629.2a1.8 1.8 0 1 0 3.60 0a1.8 1.8 0 1 0 -3.60 0M347.7 630.5a1.8 1.8 0 1 0 3.60 0a1.8 1.8 0 1 0 -3.60 0M335.2 636.2a1.8 1.8 0 1 0 3.60 0a1.8 1.8 0 1 0 -3.60 0M336.4 637.1a1.8 1.8 0 1 0 3.60 0a1.8 1.8 0 1 0 -3.60 0M337.7 638.0a1.8 1.8 0 1 0 3.60 0a1.8 1.8 0 1 0 -3.60 0M350.7 635.0a1.8 1.8 0 1 0 3.60 0a1.8 1.8 0 1 0 -3.60 0M357.7 633.8a1.8 1.8 0 1 0 3.60 0a1.8 1.8 0 1 0 -3.60 0M355.2 639.5a1.8 1.8 0 1 0 3.60 0a1.8 1.8 0 1 0 -3.60 0M357.1 640.4a1.8 1.8 0 1 0 3.60 0a1.8 1.8 0 1 0 -3.60 0M358.9 641.2a1.8 1.8 0 1 0 3.60 0a1.8 1.8 0 1 0 -3.60 0M360.7 642.5a1.8 1.8 0 1 0 3.60 0a1.8 1.8 0 1 0 -3.60 0M351.9 645.0a1.8 1.8 0 1 0 3.60 0a1.8 1.8 0 1 0 -3.60 0M362.7 649.5a1.8 1.8 0 1 0 3.60 0a1.8 1.8 0 1 0 -3.60 0M328.7 649.5a1.8 1.8 0 1 0 3.60 0a1.8 1.8 0 1 0 -3.60 0M330.7 650.5a1.8 1.8 0 1 0 3.60 0a1.8 1.8 0 1 0 -3.60 0M332.6 650.0a1.8 1.8 0 1 0 3.60 0a1.8 1.8 0 1 0 -3.60 0M334.4 649.5a1.8 1.8 0 1 0 3.60 0a1.8 1.8 0 1 0 -3.60 0M331.9 654.5a1.8 1.8 0 1 0 3.60 0a1.8 1.8 0 1 0 -3.60 0M323.2 655.0a1.8 1.8 0 1 0 3.60 0a1.8 1.8 0 1 0 -3.60 0M325.7 655.5a1.8 1.8 0 1 0 3.60 0a1.8 1.8 0 1 0 -3.60 0M320.7 656.2a1.8 1.8 0 1 0 3.60 0a1.8 1.8 0 1 0 -3.60 0M319.4 660.0a1.8 1.8 0 1 0 3.60 0a1.8 1.8 0 1 0 -3.60 0M317.7 666.2a1.8 1.8 0 1 0 3.60 0a1.8 1.8 0 1 0 -3.60 0M324.4 670.5a1.8 1.8 0 1 0 3.60 0a1.8 1.8 0 1 0 -3.60 0M333.2 662.5a1.8 1.8 0 1 0 3.60 0a1.8 1.8 0 1 0 -3.60 0M364.4 657.5a1.8 1.8 0 1 0 3.60 0a1.8 1.8 0 1 0 -3.60 0M365.7 663.8a1.8 1.8 0 1 0 3.60 0a1.8 1.8 0 1 0 -3.60 0M367.7 667.0a1.8 1.8 0 1 0 3.60 0a1.8 1.8 0 1 0 -3.60 0M369.4 668.8a1.8 1.8 0 1 0 3.60 0a1.8 1.8 0 1 0 -3.60 0M353.7 661.2a1.8 1.8 0 1 0 3.60 0a1.8 1.8 0 1 0 -3.60 0M316.9 671.2a1.8 1.8 0 1 0 3.60 0a1.8 1.8 0 1 0 -3.60 0M427.0 673.5a1.8 1.8 0 1 0 3.60 0a1.8 1.8 0 1 0 -3.60 0M428.2 674.6a1.8 1.8 0 1 0 3.60 0a1.8 1.8 0 1 0 -3.60 0M429.4 675.8a1.8 1.8 0 1 0 3.60 0a1.8 1.8 0 1 0 -3.60 0M431.7 674.6a1.8 1.8 0 1 0 3.60 0a1.8 1.8 0 1 0 -3.60 0M432.8 668.8a1.8 1.8 0 1 0 3.60 0a1.8 1.8 0 1 0 -3.60 0M434.7 662.0a1.8 1.8 0 1 0 3.60 0a1.8 1.8 0 1 0 -3.60 0M436.2 659.6a1.8 1.8 0 1 0 3.60 0a1.8 1.8 0 1 0 -3.60 0M438.6 656.5a1.8 1.8 0 1 0 3.60 0a1.8 1.8 0 1 0 -3.60 0M439.7 653.4a1.8 1.8 0 1 0 3.60 0a1.8 1.8 0 1 0 -3.60 0M440.9 652.7a1.8 1.8 0 1 0 3.60 0a1.8 1.8 0 1 0 -3.60 0M443.2 652.0a1.8 1.8 0 1 0 3.60 0a1.8 1.8 0 1 0 -3.60 0M444.9 652.4a1.8 1.8 0 1 0 3.60 0a1.8 1.8 0 1 0 -3.60 0M446.7 652.7a1.8 1.8 0 1 0 3.60 0a1.8 1.8 0 1 0 -3.60 0M449.4 653.4a1.8 1.8 0 1 0 3.60 0a1.8 1.8 0 1 0 -3.60 0M450.9 654.2a1.8 1.8 0 1 0 3.60 0a1.8 1.8 0 1 0 -3.60 0M452.4 655.0a1.8 1.8 0 1 0 3.60 0a1.8 1.8 0 1 0 -3.60 0M454.7 656.6a1.8 1.8 0 1 0 3.60 0a1.8 1.8 0 1 0 -3.60 0M457.0 655.7a1.8 1.8 0 1 0 3.60 0a1.8 1.8 0 1 0 -3.60 0M459.4 655.7a1.8 1.8 0 1 0 3.60 0a1.8 1.8 0 1 0 -3.60 0M461.7 656.6a1.8 1.8 0 1 0 3.60 0a1.8 1.8 0 1 0 -3.60 0M464.0 658.0a1.8 1.8 0 1 0 3.60 0a1.8 1.8 0 1 0 -3.60 0M466.3 658.0a1.8 1.8 0 1 0 3.60 0a1.8 1.8 0 1 0 -3.60 0M468.6 658.0a1.8 1.8 0 1 0 3.60 0a1.8 1.8 0 1 0 -3.60 0M470.1 658.2a1.8 1.8 0 1 0 3.60 0a1.8 1.8 0 1 0 -3.60 0M471.6 658.5a1.8 1.8 0 1 0 3.60 0a1.8 1.8 0 1 0 -3.60 0M473.9 659.6a1.8 1.8 0 1 0 3.60 0a1.8 1.8 0 1 0 -3.60 0M475.3 660.2a1.8 1.8 0 1 0 3.60 0a1.8 1.8 0 1 0 -3.60 0M476.7 660.8a1.8 1.8 0 1 0 3.60 0a1.8 1.8 0 1 0 -3.60 0M479.0 661.9a1.8 1.8 0 1 0 3.60 0a1.8 1.8 0 1 0 -3.60 0M481.3 661.9a1.8 1.8 0 1 0 3.60 0a1.8 1.8 0 1 0 -3.60 0M482.7 662.5a1.8 1.8 0 1 0 3.60 0a1.8 1.8 0 1 0 -3.60 0M484.0 663.1a1.8 1.8 0 1 0 3.60 0a1.8 1.8 0 1 0 -3.60 0M485.5 663.7a1.8 1.8 0 1 0 3.60 0a1.8 1.8 0 1 0 -3.60 0M487.0 664.2a1.8 1.8 0 1 0 3.60 0a1.8 1.8 0 1 0 -3.60 0M489.4 665.4a1.8 1.8 0 1 0 3.60 0a1.8 1.8 0 1 0 -3.60 0M491.1 666.0a1.8 1.8 0 1 0 3.60 0a1.8 1.8 0 1 0 -3.60 0M492.8 666.5a1.8 1.8 0 1 0 3.60 0a1.8 1.8 0 1 0 -3.60 0M494.6 666.9a1.8 1.8 0 1 0 3.60 0a1.8 1.8 0 1 0 -3.60 0M496.3 667.2a1.8 1.8 0 1 0 3.60 0a1.8 1.8 0 1 0 -3.60 0"/>
<path fill="#e00000" d="M243.9 678.8a1.55 1.55 0 1 0 3.10 0a1.55 1.55 0 1 0 -3.10 0M245.3 678.8a1.55 1.55 0 1 0 3.10 0a1.55 1.55 0 1 0 -3.10 0M246.6 678.8a1.55 1.55 0 1 0 3.10 0a1.55 1.55 0 1 0 -3.10 0M247.9 678.8a1.55 1.55 0 1 0 3.10 0a1.55 1.55 0 1 0 -3.10 0M303.4 678.4a1.55 1.55 0 1 0 3.10 0a1.55 1.55 0 1 0 -3.10 0M304.7 678.4a1.55 1.55 0 1 0 3.10 0a1.55 1.55 0 1 0 -3.10 0M305.9 678.4a1.55 1.55 0 1 0 3.10 0a1.55 1.55 0 1 0 -3.10 0M307.2 678.4a1.55 1.55 0 1 0 3.10 0a1.55 1.55 0 1 0 -3.10 0M308.4 678.4a1.55 1.55 0 1 0 3.10 0a1.55 1.55 0 1 0 -3.10 0M309.7 678.4a1.55 1.55 0 1 0 3.10 0a1.55 1.55 0 1 0 -3.10 0M310.9 678.4a1.55 1.55 0 1 0 3.10 0a1.55 1.55 0 1 0 -3.10 0M312.2 678.4a1.55 1.55 0 1 0 3.10 0a1.55 1.55 0 1 0 -3.10 0M313.4 678.4a1.55 1.55 0 1 0 3.10 0a1.55 1.55 0 1 0 -3.10 0M314.7 678.4a1.55 1.55 0 1 0 3.10 0a1.55 1.55 0 1 0 -3.10 0M315.9 678.4a1.55 1.55 0 1 0 3.10 0a1.55 1.55 0 1 0 -3.10 0M317.2 678.4a1.55 1.55 0 1 0 3.10 0a1.55 1.55 0 1 0 -3.10 0M372.4 679.0a1.55 1.55 0 1 0 3.10 0a1.55 1.55 0 1 0 -3.10 0M373.7 679.0a1.55 1.55 0 1 0 3.10 0a1.55 1.55 0 1 0 -3.10 0M375.0 679.0a1.55 1.55 0 1 0 3.10 0a1.55 1.55 0 1 0 -3.10 0M376.3 679.0a1.55 1.55 0 1 0 3.10 0a1.55 1.55 0 1 0 -3.10 0M377.6 679.0a1.55 1.55 0 1 0 3.10 0a1.55 1.55 0 1 0 -3.10 0M378.9 679.0a1.55 1.55 0 1 0 3.10 0a1.55 1.55 0 1 0 -3.10 0M380.2 679.0a1.55 1.55 0 1 0 3.10 0a1.55 1.55 0 1 0 -3.10 0M381.4 679.0a1.55 1.55 0 1 0 3.10 0a1.55 1.55 0 1 0 -3.10 0M382.7 679.0a1.55 1.55 0 1 0 3.10 0a1.55 1.55 0 1 0 -3.10 0M384.0 679.0a1.55 1.55 0 1 0 3.10 0a1.55 1.55 0 1 0 -3.10 0M385.3 679.0a1.55 1.55 0 1 0 3.10 0a1.55 1.55 0 1 0 -3.10 0M386.6 679.0a1.55 1.55 0 1 0 3.10 0a1.55 1.55 0 1 0 -3.10 0M387.9 679.0a1.55 1.55 0 1 0 3.10 0a1.55 1.55 0 1 0 -3.10 0M389.2 679.0a1.55 1.55 0 1 0 3.10 0a1.55 1.55 0 1 0 -3.10 0M390.4 679.0a1.55 1.55 0 1 0 3.10 0a1.55 1.55 0 1 0 -3.10 0M391.7 679.0a1.55 1.55 0 1 0 3.10 0a1.55 1.55 0 1 0 -3.10 0M393.0 679.0a1.55 1.55 0 1 0 3.10 0a1.55 1.55 0 1 0 -3.10 0M394.3 679.0a1.55 1.55 0 1 0 3.10 0a1.55 1.55 0 1 0 -3.10 0M395.6 679.0a1.55 1.55 0 1 0 3.10 0a1.55 1.55 0 1 0 -3.10 0M396.9 679.0a1.55 1.55 0 1 0 3.10 0a1.55 1.55 0 1 0 -3.10 0M398.2 679.0a1.55 1.55 0 1 0 3.10 0a1.55 1.55 0 1 0 -3.10 0M399.4 679.0a1.55 1.55 0 1 0 3.10 0a1.55 1.55 0 1 0 -3.10 0M400.7 679.0a1.55 1.55 0 1 0 3.10 0a1.55 1.55 0 1 0 -3.10 0M402.0 679.0a1.55 1.55 0 1 0 3.10 0a1.55 1.55 0 1 0 -3.10 0M403.3 679.0a1.55 1.55 0 1 0 3.10 0a1.55 1.55 0 1 0 -3.10 0M404.6 679.0a1.55 1.55 0 1 0 3.10 0a1.55 1.55 0 1 0 -3.10 0M405.9 679.0a1.55 1.55 0 1 0 3.10 0a1.55 1.55 0 1 0 -3.10 0M407.2 679.0a1.55 1.55 0 1 0 3.10 0a1.55 1.55 0 1 0 -3.10 0M408.4 679.0a1.55 1.55 0 1 0 3.10 0a1.55 1.55 0 1 0 -3.10 0M409.7 679.0a1.55 1.55 0 1 0 3.10 0a1.55 1.55 0 1 0 -3.10 0M411.0 679.0a1.55 1.55 0 1 0 3.10 0a1.55 1.55 0 1 0 -3.10 0M412.3 679.0a1.55 1.55 0 1 0 3.10 0a1.55 1.55 0 1 0 -3.10 0M413.6 679.0a1.55 1.55 0 1 0 3.10 0a1.55 1.55 0 1 0 -3.10 0M414.9 679.0a1.55 1.55 0 1 0 3.10 0a1.55 1.55 0 1 0 -3.10 0M416.2 679.0a1.55 1.55 0 1 0 3.10 0a1.55 1.55 0 1 0 -3.10 0M417.4 679.0a1.55 1.55 0 1 0 3.10 0a1.55 1.55 0 1 0 -3.10 0M418.7 679.0a1.55 1.55 0 1 0 3.10 0a1.55 1.55 0 1 0 -3.10 0M420.0 679.0a1.55 1.55 0 1 0 3.10 0a1.55 1.55 0 1 0 -3.10 0M421.3 679.0a1.55 1.55 0 1 0 3.10 0a1.55 1.55 0 1 0 -3.10 0M422.6 679.0a1.55 1.55 0 1 0 3.10 0a1.55 1.55 0 1 0 -3.10 0M423.9 679.0a1.55 1.55 0 1 0 3.10 0a1.55 1.55 0 1 0 -3.10 0M425.2 679.0a1.55 1.55 0 1 0 3.10 0a1.55 1.55 0 1 0 -3.10 0M426.4 679.0a1.55 1.55 0 1 0 3.10 0a1.55 1.55 0 1 0 -3.10 0"/>
<path d="M269.2 384.2A24.1 24.1 0 1 0 279.8 423.5A20.6 20.6 0 1 1 269.2 384.2Z" fill="#e0e0e0" stroke="#000" stroke-width="1.3" stroke-linejoin="round"/>
<circle cx="429.6" cy="385.00" r="1.45" fill="#000000"/>
<text x="453.2" y="389.10" style="font-family:'Liberation Sans',Arial,sans-serif;font-size:13px;stroke:#000;stroke-width:0.3px">WCS</text>
<circle cx="429.6" cy="403.55" r="1.45" fill="#007800"/>
<text x="453.2" y="407.65" style="font-family:'Liberation Sans',Arial,sans-serif;font-size:13px;stroke:#000;stroke-width:0.3px">TDS</text>
<circle cx="429.6" cy="422.10" r="1.45" fill="#0800b8"/>
<text x="453.2" y="426.20" style="font-family:'Liberation Sans',Arial,sans-serif;font-size:13px;stroke:#000;stroke-width:0.3px">Ideal SPS</text>
<circle cx="429.6" cy="440.65" r="1.45" fill="#e00000"/>
<text x="453.2" y="444.75" style="font-family:'Liberation Sans',Arial,sans-serif;font-size:13px;stroke:#000;stroke-width:0.3px">Our SPS</text>
<rect x="47.5" y="363.5" width="472.00" height="330.00" fill="none" stroke="#000" stroke-width="1"/>
<path d="M67.50 693.5v-4.6M67.50 363.5v4.6M133.50 693.5v-4.6M133.50 363.5v4.6M199.50 693.5v-4.6M199.50 363.5v4.6M266.50 693.5v-4.6M266.50 363.5v4.6M332.50 693.5v-4.6M332.50 363.5v4.6M398.50 693.5v-4.6M398.50 363.5v4.6M464.50 693.5v-4.6M464.50 363.5v4.6M47.5 679.50h4.6M519.5 679.50h-4.6M47.5 610.50h4.6M519.5 610.50h-4.6M47.5 541.50h4.6M519.5 541.50h-4.6M47.5 473.50h4.6M519.5 473.50h-4.6M47.5 404.50h4.6M519.5 404.50h-4.6" stroke="#000" stroke-width="1" fill="none"/>
<path d="M50.50 693.5v-3.0M50.50 363.5v3.0M84.50 693.5v-3.0M84.50 363.5v3.0M100.50 693.5v-3.0M100.50 363.5v3.0M117.50 693.5v-3.0M117.50 363.5v3.0M150.50 693.5v-3.0M150.50 363.5v3.0M166.50 693.5v-3.0M166.50 363.5v3.0M183.50 693.5v-3.0M183.50 363.5v3.0M216.50 693.5v-3.0M216.50 363.5v3.0M232.50 693.5v-3.0M232.50 363.5v3.0M249.50 693.5v-3.0M249.50 363.5v3.0M282.50 693.5v-3.0M282.50 363.5v3.0M299.50 693.5v-3.0M299.50 363.5v3.0M315.50 693.5v-3.0M315.50 363.5v3.0M348.50 693.5v-3.0M348.50 363.5v3.0M365.50 693.5v-3.0M365.50 363.5v3.0M381.50 693.5v-3.0M381.50 363.5v3.0M414.50 693.5v-3.0M414.50 363.5v3.0M431.50 693.5v-3.0M431.50 363.5v3.0M448.50 693.5v-3.0M448.50 363.5v3.0M481.50 693.5v-3.0M481.50 363.5v3.0M497.50 693.5v-3.0M497.50 363.5v3.0M514.50 693.5v-3.0M514.50 363.5v3.0M47.5 665.50h3.0M519.5 665.50h-3.0M47.5 651.50h3.0M519.5 651.50h-3.0M47.5 637.50h3.0M519.5 637.50h-3.0M47.5 624.50h3.0M519.5 624.50h-3.0M47.5 596.50h3.0M519.5 596.50h-3.0M47.5 582.50h3.0M519.5 582.50h-3.0M47.5 569.50h3.0M519.5 569.50h-3.0M47.5 555.50h3.0M519.5 555.50h-3.0M47.5 528.50h3.0M519.5 528.50h-3.0M47.5 514.50h3.0M519.5 514.50h-3.0M47.5 500.50h3.0M519.5 500.50h-3.0M47.5 486.50h3.0M519.5 486.50h-3.0M47.5 459.50h3.0M519.5 459.50h-3.0M47.5 445.50h3.0M519.5 445.50h-3.0M47.5 432.50h3.0M519.5 432.50h-3.0M47.5 418.50h3.0M519.5 418.50h-3.0M47.5 390.50h3.0M519.5 390.50h-3.0M47.5 377.50h3.0M519.5 377.50h-3.0" stroke="#000" stroke-width="0.85" fill="none"/>
<text x="67.50" y="708.0" text-anchor="middle" style="font-family:'DejaVu Sans',sans-serif;font-size:13px;stroke:#000;stroke-width:0.3px">400</text>
<text x="133.68" y="708.0" text-anchor="middle" style="font-family:'DejaVu Sans',sans-serif;font-size:13px;stroke:#000;stroke-width:0.3px">600</text>
<text x="199.87" y="708.0" text-anchor="middle" style="font-family:'DejaVu Sans',sans-serif;font-size:13px;stroke:#000;stroke-width:0.3px">800</text>
<text x="266.05" y="708.0" text-anchor="middle" style="font-family:'DejaVu Sans',sans-serif;font-size:13px;stroke:#000;stroke-width:0.3px">1000</text>
<text x="332.24" y="708.0" text-anchor="middle" style="font-family:'DejaVu Sans',sans-serif;font-size:13px;stroke:#000;stroke-width:0.3px">1200</text>
<text x="398.42" y="708.0" text-anchor="middle" style="font-family:'DejaVu Sans',sans-serif;font-size:13px;stroke:#000;stroke-width:0.3px">1400</text>
<text x="464.60" y="708.0" text-anchor="middle" style="font-family:'DejaVu Sans',sans-serif;font-size:13px;stroke:#000;stroke-width:0.3px">1600</text>
<text x="43.2" y="683.50" text-anchor="end" style="font-family:'DejaVu Sans',sans-serif;font-size:13px;stroke:#000;stroke-width:0.3px">0</text>
<text x="43.2" y="614.92" text-anchor="end" style="font-family:'DejaVu Sans',sans-serif;font-size:13px;stroke:#000;stroke-width:0.3px">5</text>
<text x="43.2" y="546.35" text-anchor="end" style="font-family:'DejaVu Sans',sans-serif;font-size:13px;stroke:#000;stroke-width:0.3px">10</text>
<text x="43.2" y="477.77" text-anchor="end" style="font-family:'DejaVu Sans',sans-serif;font-size:13px;stroke:#000;stroke-width:0.3px">15</text>
<text x="43.2" y="409.20" text-anchor="end" style="font-family:'DejaVu Sans',sans-serif;font-size:13px;stroke:#000;stroke-width:0.3px">20</text>
<text transform="translate(17.8 226.90) rotate(-90)" style="font-family:'Liberation Sans',Arial,sans-serif;stroke:#000;stroke-width:0.3px;font-size:13px">S (</text>
<text transform="translate(17.7 209.50) rotate(-90)" style="font-family:'DejaVu Sans',sans-serif;stroke:#000;stroke-width:0.3px;font-size:12px">10</text>
<text transform="translate(12.8 192.40) rotate(-90)" style="font-family:'DejaVu Sans',sans-serif;stroke:#000;stroke-width:0.3px;font-size:8.5px">−3</text>
<text transform="translate(17.8 175.30) rotate(-90)" style="font-family:'Liberation Sans',Arial,sans-serif;stroke:#000;stroke-width:0.3px;font-size:13.3px">bit/signal)</text>
<text transform="translate(17.8 582.75) rotate(-90)" style="font-family:'Liberation Sans',Arial,sans-serif;stroke:#000;stroke-width:0.3px;font-size:13px">S (</text>
<text transform="translate(17.7 565.35) rotate(-90)" style="font-family:'DejaVu Sans',sans-serif;stroke:#000;stroke-width:0.3px;font-size:12px">10</text>
<text transform="translate(12.8 548.25) rotate(-90)" style="font-family:'DejaVu Sans',sans-serif;stroke:#000;stroke-width:0.3px;font-size:8.5px">−3</text>
<text transform="translate(17.8 531.15) rotate(-90)" style="font-family:'Liberation Sans',Arial,sans-serif;stroke:#000;stroke-width:0.3px;font-size:13.3px">bit/signal)</text>
<text x="283.5" y="725.5" text-anchor="middle" style="font-family:'Liberation Sans',Arial,sans-serif;font-size:13px;stroke:#000;stroke-width:0.3px">Wavelength (nm)</text>
<text x="-0.8" y="9.6" style="font-family:'Liberation Sans',Arial,sans-serif;font-size:13px;stroke:#000;stroke-width:0.3px">(a)</text>
<text x="-0.8" y="364.2" style="font-family:'Liberation Sans',Arial,sans-serif;font-size:13px;stroke:#000;stroke-width:0.3px">(b)</text>
</svg></body></html>
